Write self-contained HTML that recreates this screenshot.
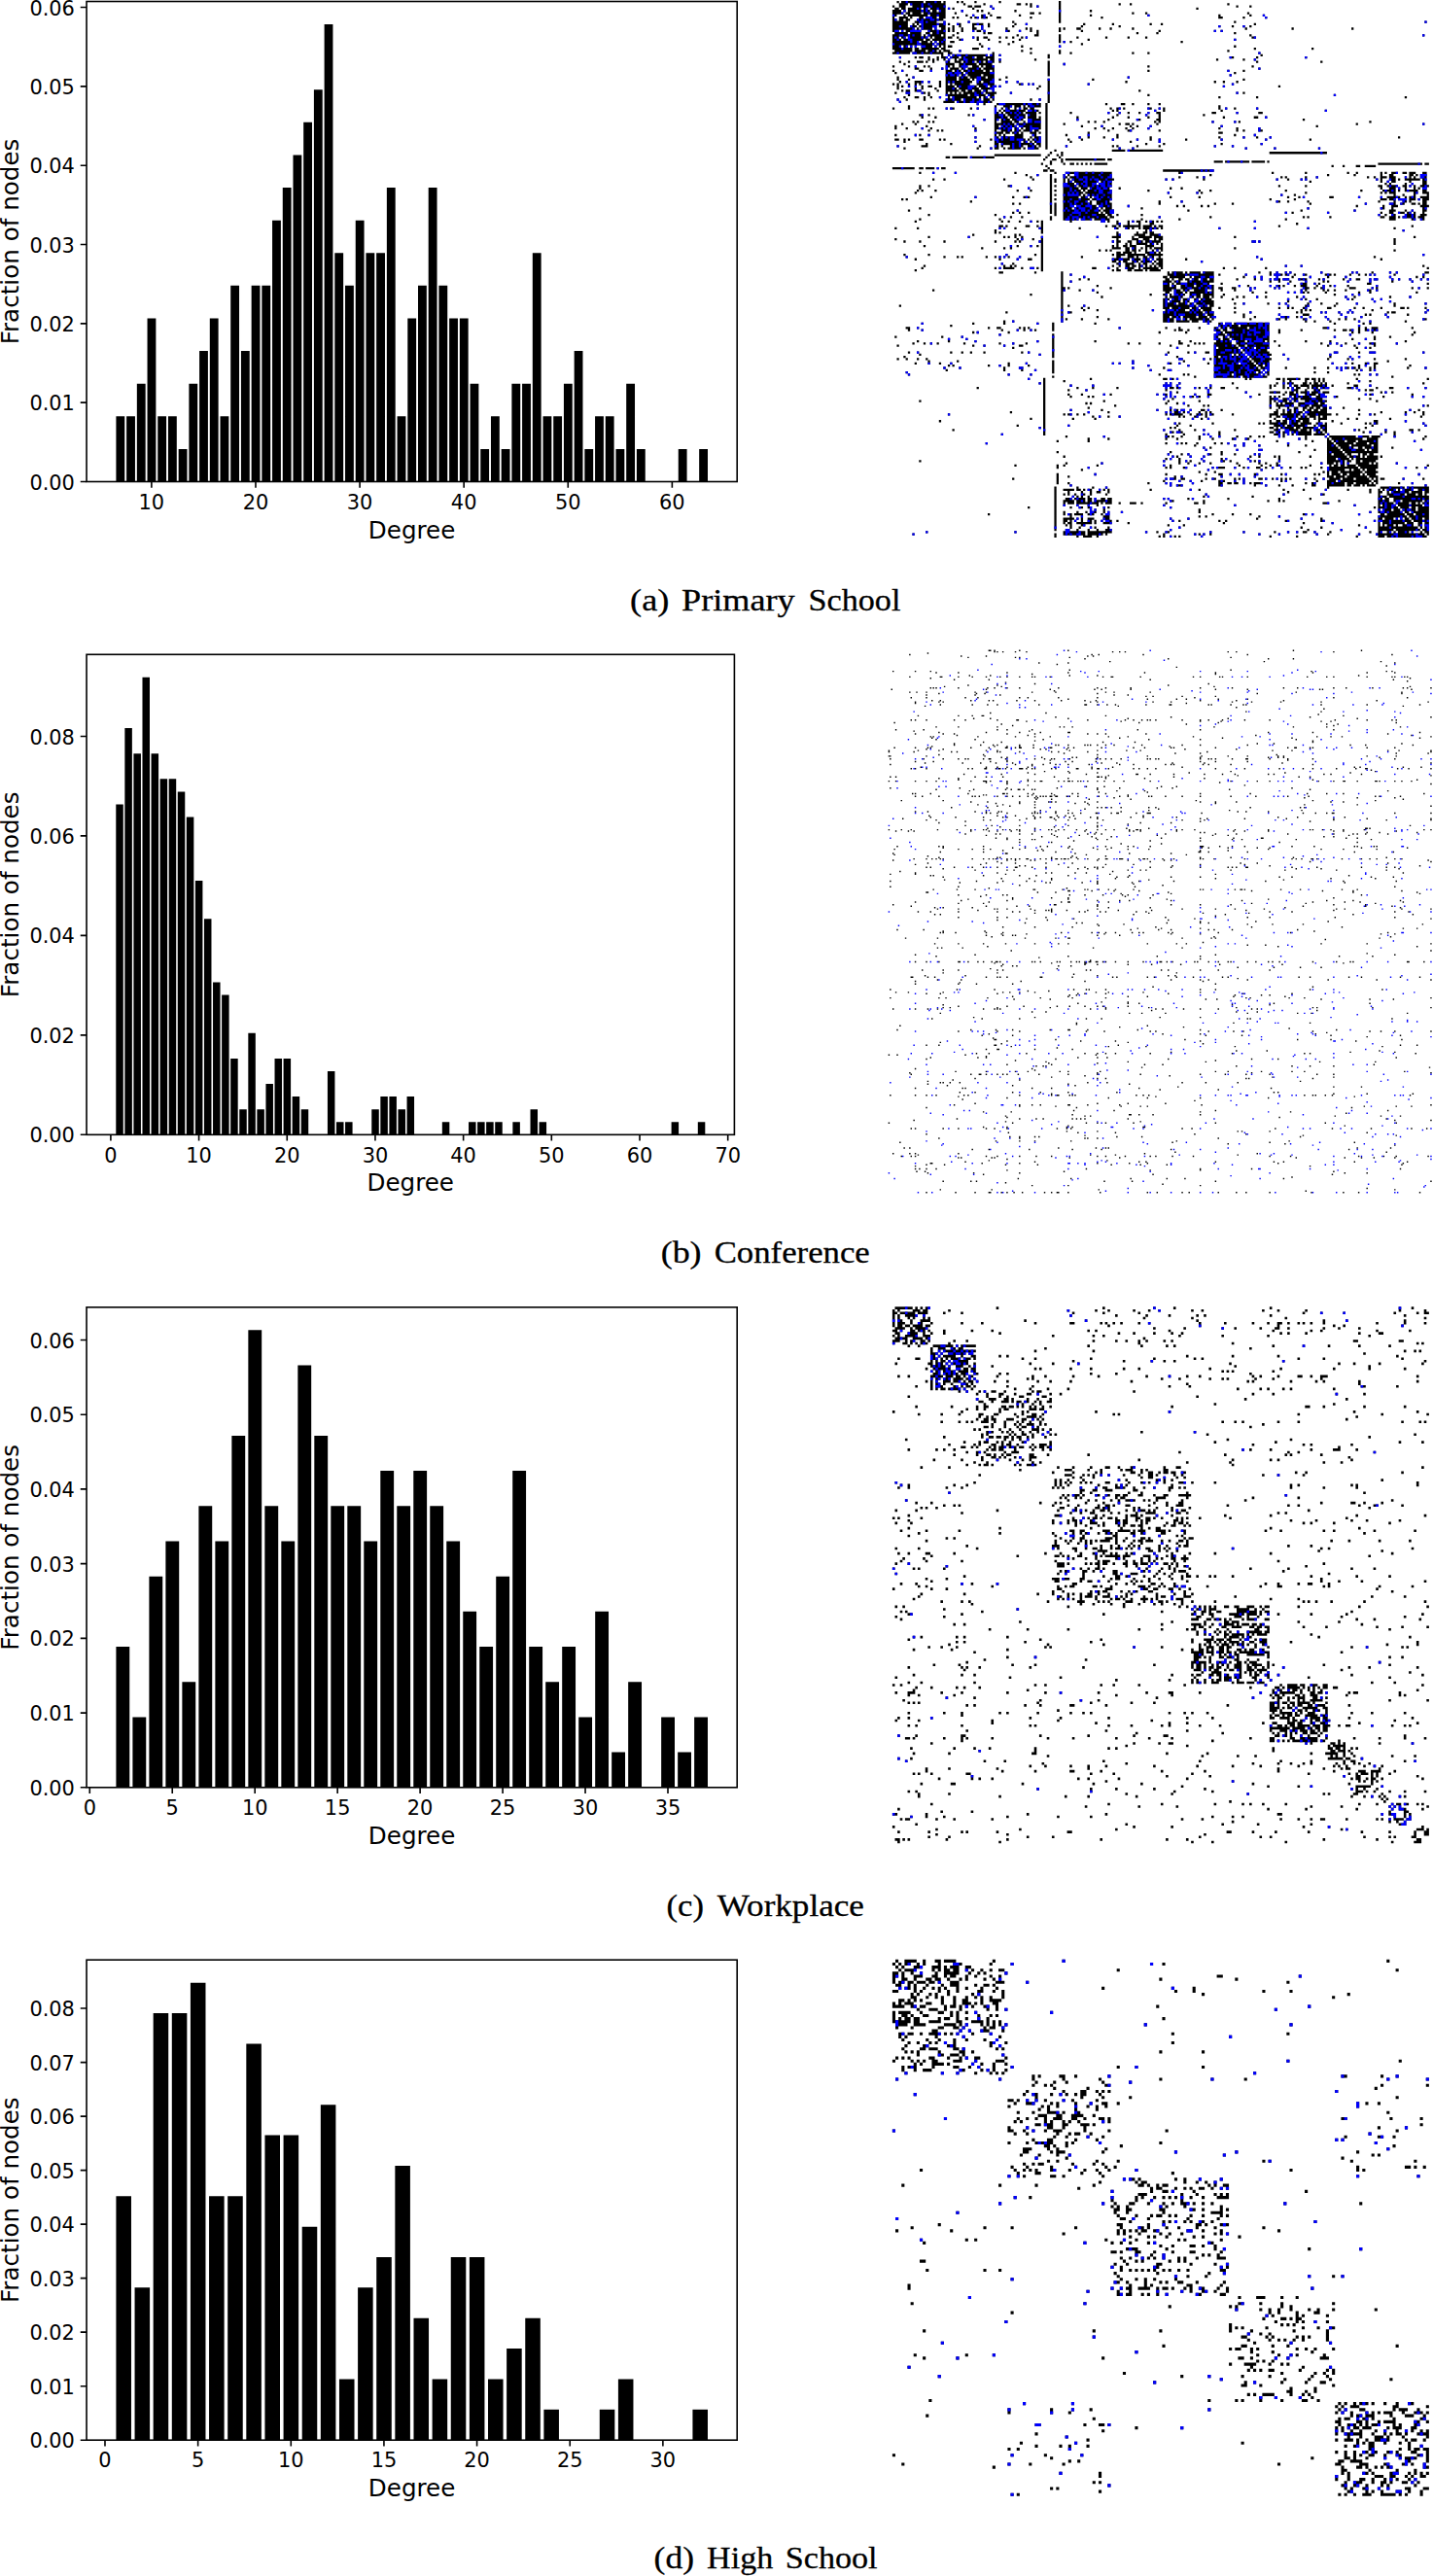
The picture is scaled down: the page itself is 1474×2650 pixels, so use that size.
<!DOCTYPE html>
<html><head><meta charset="utf-8"><title>Degree distributions and adjacency matrices</title>
<style>
html,body{margin:0;padding:0;background:#fff}
svg{display:block}
.t{font-family:"DejaVu Sans","Liberation Sans",sans-serif;font-size:20.9px;fill:#000}
.l{font-family:"DejaVu Sans","Liberation Sans",sans-serif;font-size:24.6px;fill:#000}
.c{font-family:"Liberation Serif","DejaVu Serif",serif;font-size:31.6px;fill:#000;stroke:#000;stroke-width:.3px}
</style></head><body>
<svg width="1474" height="2650" viewBox="0 0 1474 2650">
<rect width="1474" height="2650" fill="#fff"/>
<g><path d="M119.42 495.5h8.82v-67.21h-8.82zM130.13 495.5h8.82v-67.21h-8.82zM140.84 495.5h8.82v-100.82h-8.82zM151.55 495.5h8.82v-168.03h-8.82zM162.26 495.5h8.82v-67.21h-8.82zM172.97 495.5h8.82v-67.21h-8.82zM183.67 495.5h8.82v-33.61h-8.82zM194.38 495.5h8.82v-100.82h-8.82zM205.09 495.5h8.82v-134.42h-8.82zM215.8 495.5h8.82v-168.03h-8.82zM226.51 495.5h8.82v-67.21h-8.82zM237.22 495.5h8.82v-201.63h-8.82zM247.93 495.5h8.82v-134.42h-8.82zM258.64 495.5h8.82v-201.63h-8.82zM269.35 495.5h8.82v-201.63h-8.82zM280.06 495.5h8.82v-268.84h-8.82zM290.77 495.5h8.82v-302.45h-8.82zM301.48 495.5h8.82v-336.05h-8.82zM312.19 495.5h8.82v-369.66h-8.82zM322.9 495.5h8.82v-403.27h-8.82zM333.61 495.5h8.82v-470.48h-8.82zM344.32 495.5h8.82v-235.24h-8.82zM355.03 495.5h8.82v-201.63h-8.82zM365.74 495.5h8.82v-268.84h-8.82zM376.45 495.5h8.82v-235.24h-8.82zM387.16 495.5h8.82v-235.24h-8.82zM397.87 495.5h8.82v-302.45h-8.82zM408.58 495.5h8.82v-67.21h-8.82zM419.29 495.5h8.82v-168.03h-8.82zM430 495.5h8.82v-201.63h-8.82zM440.71 495.5h8.82v-302.45h-8.82zM451.42 495.5h8.82v-201.63h-8.82zM462.13 495.5h8.82v-168.03h-8.82zM472.84 495.5h8.82v-168.03h-8.82zM483.55 495.5h8.82v-100.82h-8.82zM494.26 495.5h8.82v-33.61h-8.82zM504.97 495.5h8.82v-67.21h-8.82zM515.68 495.5h8.82v-33.61h-8.82zM526.39 495.5h8.82v-100.82h-8.82zM537.1 495.5h8.82v-100.82h-8.82zM547.81 495.5h8.82v-235.24h-8.82zM558.52 495.5h8.82v-67.21h-8.82zM569.23 495.5h8.82v-67.21h-8.82zM579.94 495.5h8.82v-100.82h-8.82zM590.65 495.5h8.82v-134.42h-8.82zM601.36 495.5h8.82v-33.61h-8.82zM612.07 495.5h8.82v-67.21h-8.82zM622.78 495.5h8.82v-67.21h-8.82zM633.49 495.5h8.82v-33.61h-8.82zM644.2 495.5h8.82v-100.82h-8.82zM654.91 495.5h8.82v-33.61h-8.82zM697.75 495.5h8.82v-33.61h-8.82zM719.17 495.5h8.82v-33.61h-8.82z" fill="#000"/>
<path d="M155.88 495.5v6.3M262.98 495.5v6.3M370.08 495.5v6.3M477.17 495.5v6.3M584.27 495.5v6.3M691.37 495.5v6.3M89.05 495.5h-6.3M89.05 414.17h-6.3M89.05 332.85h-6.3M89.05 251.52h-6.3M89.05 170.2h-6.3M89.05 88.87h-6.3M89.05 7.55h-6.3" stroke="#000" stroke-width="1.6" fill="none"/>
<rect x="89.05" y="1.5" width="669.15" height="494" fill="none" stroke="#000" stroke-width="1.6"/>
<text class="t" text-anchor="middle" x="155.88" y="523.7">10</text>
<text class="t" text-anchor="middle" x="262.98" y="523.7">20</text>
<text class="t" text-anchor="middle" x="370.08" y="523.7">30</text>
<text class="t" text-anchor="middle" x="477.17" y="523.7">40</text>
<text class="t" text-anchor="middle" x="584.27" y="523.7">50</text>
<text class="t" text-anchor="middle" x="691.37" y="523.7">60</text>
<text class="t" text-anchor="end" x="76.9" y="503.6">0.00</text>
<text class="t" text-anchor="end" x="76.9" y="422.27">0.01</text>
<text class="t" text-anchor="end" x="76.9" y="340.95">0.02</text>
<text class="t" text-anchor="end" x="76.9" y="259.62">0.03</text>
<text class="t" text-anchor="end" x="76.9" y="178.3">0.04</text>
<text class="t" text-anchor="end" x="76.9" y="96.97">0.05</text>
<text class="t" text-anchor="end" x="76.9" y="15.65">0.06</text>
<text class="l" text-anchor="middle" x="423.62" y="553.6">Degree</text>
<text class="l" text-anchor="middle" transform="translate(18.6 248.5) rotate(-90)">Fraction of nodes</text></g>
<g><path d="M119.29 1167.3h7.5v-339.79h-7.5zM128.36 1167.3h7.5v-418.2h-7.5zM137.43 1167.3h7.5v-392.06h-7.5zM146.49 1167.3h7.5v-470.48h-7.5zM155.56 1167.3h7.5v-392.06h-7.5zM164.63 1167.3h7.5v-365.93h-7.5zM173.7 1167.3h7.5v-365.93h-7.5zM182.77 1167.3h7.5v-352.86h-7.5zM191.84 1167.3h7.5v-326.72h-7.5zM200.9 1167.3h7.5v-261.38h-7.5zM209.97 1167.3h7.5v-222.17h-7.5zM219.04 1167.3h7.5v-156.83h-7.5zM228.11 1167.3h7.5v-143.76h-7.5zM237.18 1167.3h7.5v-78.41h-7.5zM246.25 1167.3h7.5v-26.14h-7.5zM255.32 1167.3h7.5v-104.55h-7.5zM264.38 1167.3h7.5v-26.14h-7.5zM273.45 1167.3h7.5v-52.28h-7.5zM282.52 1167.3h7.5v-78.41h-7.5zM291.59 1167.3h7.5v-78.41h-7.5zM300.66 1167.3h7.5v-39.21h-7.5zM309.73 1167.3h7.5v-26.14h-7.5zM336.93 1167.3h7.5v-65.34h-7.5zM346 1167.3h7.5v-13.07h-7.5zM355.07 1167.3h7.5v-13.07h-7.5zM382.27 1167.3h7.5v-26.14h-7.5zM391.34 1167.3h7.5v-39.21h-7.5zM400.41 1167.3h7.5v-39.21h-7.5zM409.48 1167.3h7.5v-26.14h-7.5zM418.55 1167.3h7.5v-39.21h-7.5zM454.82 1167.3h7.5v-13.07h-7.5zM482.03 1167.3h7.5v-13.07h-7.5zM491.1 1167.3h7.5v-13.07h-7.5zM500.16 1167.3h7.5v-13.07h-7.5zM509.23 1167.3h7.5v-13.07h-7.5zM527.37 1167.3h7.5v-13.07h-7.5zM545.51 1167.3h7.5v-26.14h-7.5zM554.57 1167.3h7.5v-13.07h-7.5zM690.6 1167.3h7.5v-13.07h-7.5zM717.81 1167.3h7.5v-13.07h-7.5z" fill="#000"/>
<path d="M113.9 1167.3v6.3M204.58 1167.3v6.3M295.27 1167.3v6.3M385.95 1167.3v6.3M476.64 1167.3v6.3M567.32 1167.3v6.3M658 1167.3v6.3M748.69 1167.3v6.3M89.05 1167.3h-6.3M89.05 1064.84h-6.3M89.05 962.38h-6.3M89.05 859.92h-6.3M89.05 757.46h-6.3" stroke="#000" stroke-width="1.6" fill="none"/>
<rect x="89.05" y="673.3" width="666.35" height="494" fill="none" stroke="#000" stroke-width="1.6"/>
<text class="t" text-anchor="middle" x="113.9" y="1195.5">0</text>
<text class="t" text-anchor="middle" x="204.58" y="1195.5">10</text>
<text class="t" text-anchor="middle" x="295.27" y="1195.5">20</text>
<text class="t" text-anchor="middle" x="385.95" y="1195.5">30</text>
<text class="t" text-anchor="middle" x="476.64" y="1195.5">40</text>
<text class="t" text-anchor="middle" x="567.32" y="1195.5">50</text>
<text class="t" text-anchor="middle" x="658" y="1195.5">60</text>
<text class="t" text-anchor="middle" x="748.69" y="1195.5">70</text>
<text class="t" text-anchor="end" x="76.9" y="1175.4">0.00</text>
<text class="t" text-anchor="end" x="76.9" y="1072.94">0.02</text>
<text class="t" text-anchor="end" x="76.9" y="970.48">0.04</text>
<text class="t" text-anchor="end" x="76.9" y="868.02">0.06</text>
<text class="t" text-anchor="end" x="76.9" y="765.56">0.08</text>
<text class="l" text-anchor="middle" x="422.22" y="1225.4">Degree</text>
<text class="l" text-anchor="middle" transform="translate(18.6 920.3) rotate(-90)">Fraction of nodes</text></g>
<g><path d="M119.42 1838.8h13.84v-144.76h-13.84zM136.41 1838.8h13.84v-72.38h-13.84zM153.4 1838.8h13.84v-217.14h-13.84zM170.39 1838.8h13.84v-253.33h-13.84zM187.38 1838.8h13.84v-108.57h-13.84zM204.38 1838.8h13.84v-289.52h-13.84zM221.37 1838.8h13.84v-253.33h-13.84zM238.36 1838.8h13.84v-361.9h-13.84zM255.35 1838.8h13.84v-470.48h-13.84zM272.35 1838.8h13.84v-289.52h-13.84zM289.34 1838.8h13.84v-253.33h-13.84zM306.33 1838.8h13.84v-434.29h-13.84zM323.32 1838.8h13.84v-361.9h-13.84zM340.31 1838.8h13.84v-289.52h-13.84zM357.31 1838.8h13.84v-289.52h-13.84zM374.3 1838.8h13.84v-253.33h-13.84zM391.29 1838.8h13.84v-325.71h-13.84zM408.28 1838.8h13.84v-289.52h-13.84zM425.27 1838.8h13.84v-325.71h-13.84zM442.27 1838.8h13.84v-289.52h-13.84zM459.26 1838.8h13.84v-253.33h-13.84zM476.25 1838.8h13.84v-180.95h-13.84zM493.24 1838.8h13.84v-144.76h-13.84zM510.23 1838.8h13.84v-217.14h-13.84zM527.23 1838.8h13.84v-325.71h-13.84zM544.22 1838.8h13.84v-144.76h-13.84zM561.21 1838.8h13.84v-108.57h-13.84zM578.2 1838.8h13.84v-144.76h-13.84zM595.2 1838.8h13.84v-72.38h-13.84zM612.19 1838.8h13.84v-180.95h-13.84zM629.18 1838.8h13.84v-36.19h-13.84zM646.17 1838.8h13.84v-108.57h-13.84zM680.16 1838.8h13.84v-72.38h-13.84zM697.15 1838.8h13.84v-36.19h-13.84zM714.14 1838.8h13.84v-72.38h-13.84z" fill="#000"/>
<path d="M92.28 1838.8v6.3M177.24 1838.8v6.3M262.2 1838.8v6.3M347.16 1838.8v6.3M432.12 1838.8v6.3M517.08 1838.8v6.3M602.04 1838.8v6.3M687 1838.8v6.3M89.05 1838.8h-6.3M89.05 1762.08h-6.3M89.05 1685.35h-6.3M89.05 1608.63h-6.3M89.05 1531.9h-6.3M89.05 1455.18h-6.3M89.05 1378.46h-6.3" stroke="#000" stroke-width="1.6" fill="none"/>
<rect x="89.05" y="1344.8" width="669.15" height="494" fill="none" stroke="#000" stroke-width="1.6"/>
<text class="t" text-anchor="middle" x="92.28" y="1867">0</text>
<text class="t" text-anchor="middle" x="177.24" y="1867">5</text>
<text class="t" text-anchor="middle" x="262.2" y="1867">10</text>
<text class="t" text-anchor="middle" x="347.16" y="1867">15</text>
<text class="t" text-anchor="middle" x="432.12" y="1867">20</text>
<text class="t" text-anchor="middle" x="517.08" y="1867">25</text>
<text class="t" text-anchor="middle" x="602.04" y="1867">30</text>
<text class="t" text-anchor="middle" x="687" y="1867">35</text>
<text class="t" text-anchor="end" x="76.9" y="1846.9">0.00</text>
<text class="t" text-anchor="end" x="76.9" y="1770.18">0.01</text>
<text class="t" text-anchor="end" x="76.9" y="1693.45">0.02</text>
<text class="t" text-anchor="end" x="76.9" y="1616.73">0.03</text>
<text class="t" text-anchor="end" x="76.9" y="1540">0.04</text>
<text class="t" text-anchor="end" x="76.9" y="1463.28">0.05</text>
<text class="t" text-anchor="end" x="76.9" y="1386.56">0.06</text>
<text class="l" text-anchor="middle" x="423.62" y="1896.9">Degree</text>
<text class="l" text-anchor="middle" transform="translate(18.6 1591.8) rotate(-90)">Fraction of nodes</text></g>
<g><path d="M119.42 2510.2h15.55v-250.92h-15.55zM138.55 2510.2h15.55v-156.83h-15.55zM157.67 2510.2h15.55v-439.11h-15.55zM176.8 2510.2h15.55v-439.11h-15.55zM195.93 2510.2h15.55v-470.48h-15.55zM215.06 2510.2h15.55v-250.92h-15.55zM234.19 2510.2h15.55v-250.92h-15.55zM253.32 2510.2h15.55v-407.75h-15.55zM272.45 2510.2h15.55v-313.65h-15.55zM291.58 2510.2h15.55v-313.65h-15.55zM310.71 2510.2h15.55v-219.56h-15.55zM329.84 2510.2h15.55v-345.02h-15.55zM348.97 2510.2h15.55v-62.73h-15.55zM368.1 2510.2h15.55v-156.83h-15.55zM387.23 2510.2h15.55v-188.19h-15.55zM406.36 2510.2h15.55v-282.29h-15.55zM425.49 2510.2h15.55v-125.46h-15.55zM444.62 2510.2h15.55v-62.73h-15.55zM463.75 2510.2h15.55v-188.19h-15.55zM482.88 2510.2h15.55v-188.19h-15.55zM502.01 2510.2h15.55v-62.73h-15.55zM521.14 2510.2h15.55v-94.1h-15.55zM540.26 2510.2h15.55v-125.46h-15.55zM559.39 2510.2h15.55v-31.37h-15.55zM616.78 2510.2h15.55v-31.37h-15.55zM635.91 2510.2h15.55v-62.73h-15.55zM712.43 2510.2h15.55v-31.37h-15.55z" fill="#000"/>
<path d="M107.99 2510.2v6.3M203.64 2510.2v6.3M299.28 2510.2v6.3M394.93 2510.2v6.3M490.58 2510.2v6.3M586.23 2510.2v6.3M681.87 2510.2v6.3M89.05 2510.2h-6.3M89.05 2454.68h-6.3M89.05 2399.17h-6.3M89.05 2343.65h-6.3M89.05 2288.14h-6.3M89.05 2232.62h-6.3M89.05 2177.1h-6.3M89.05 2121.59h-6.3M89.05 2066.07h-6.3" stroke="#000" stroke-width="1.6" fill="none"/>
<rect x="89.05" y="2016.2" width="669.15" height="494" fill="none" stroke="#000" stroke-width="1.6"/>
<text class="t" text-anchor="middle" x="107.99" y="2538.4">0</text>
<text class="t" text-anchor="middle" x="203.64" y="2538.4">5</text>
<text class="t" text-anchor="middle" x="299.28" y="2538.4">10</text>
<text class="t" text-anchor="middle" x="394.93" y="2538.4">15</text>
<text class="t" text-anchor="middle" x="490.58" y="2538.4">20</text>
<text class="t" text-anchor="middle" x="586.23" y="2538.4">25</text>
<text class="t" text-anchor="middle" x="681.87" y="2538.4">30</text>
<text class="t" text-anchor="end" x="76.9" y="2518.3">0.00</text>
<text class="t" text-anchor="end" x="76.9" y="2462.78">0.01</text>
<text class="t" text-anchor="end" x="76.9" y="2407.27">0.02</text>
<text class="t" text-anchor="end" x="76.9" y="2351.75">0.03</text>
<text class="t" text-anchor="end" x="76.9" y="2296.24">0.04</text>
<text class="t" text-anchor="end" x="76.9" y="2240.72">0.05</text>
<text class="t" text-anchor="end" x="76.9" y="2185.2">0.06</text>
<text class="t" text-anchor="end" x="76.9" y="2129.69">0.07</text>
<text class="t" text-anchor="end" x="76.9" y="2074.17">0.08</text>
<text class="l" text-anchor="middle" x="423.62" y="2568.3">Degree</text>
<text class="l" text-anchor="middle" transform="translate(18.6 2263.2) rotate(-90)">Fraction of nodes</text></g>
<text class="c" x="648.1" y="627.8" textLength="40.3" lengthAdjust="spacingAndGlyphs">(a)</text>
<text class="c" x="701.1" y="627.8" textLength="116.6" lengthAdjust="spacingAndGlyphs">Primary</text>
<text class="c" x="831.5" y="627.8" textLength="94.9" lengthAdjust="spacingAndGlyphs">School</text>
<text class="c" x="679.7" y="1299" textLength="41.9" lengthAdjust="spacingAndGlyphs">(b)</text>
<text class="c" x="734.7" y="1299" textLength="160.1" lengthAdjust="spacingAndGlyphs">Conference</text>
<text class="c" x="685.6" y="1970.7" textLength="38.4" lengthAdjust="spacingAndGlyphs">(c)</text>
<text class="c" x="737.8" y="1970.7" textLength="151.1" lengthAdjust="spacingAndGlyphs">Workplace</text>
<text class="c" x="672.6" y="2642.3" textLength="41.4" lengthAdjust="spacingAndGlyphs">(d)</text>
<text class="c" x="727.1" y="2642.3" textLength="68.1" lengthAdjust="spacingAndGlyphs">High</text>
<text class="c" x="807.8" y="2642.3" textLength="94.8" lengthAdjust="spacingAndGlyphs">School</text>
<g transform="translate(917.90 1.00) scale(2.2810)">
<path fill="#000" d="M2 0h1v1h-1zM4 0h10v1h-10zM15 0h7v1h-7zM23 0h1v1h-1zM29 0h1v1h-1zM31 0h1v1h-1zM37 0h1v1h-1zM48 0h1v1h-1zM75 0h1v1h-1zM3 1h4v1h-4zM8 1h16v1h-16zM32 1h1v1h-1zM41 1h1v1h-1zM56 1h2v1h-2zM60 1h1v1h-1zM62 1h1v1h-1zM75 1h1v1h-1zM102 1h1v1h-1zM107 1h1v1h-1zM151 1h1v1h-1zM0 2h1v1h-1zM3 2h3v1h-3zM9 2h15v1h-15zM34 2h2v1h-2zM37 2h3v1h-3zM44 2h1v1h-1zM62 2h1v1h-1zM65 2h1v1h-1zM75 2h1v1h-1zM155 2h1v1h-1zM161 2h1v1h-1zM1 3h2v1h-2zM4 3h2v1h-2zM7 3h6v1h-6zM14 3h2v1h-2zM17 3h7v1h-7zM25 3h1v1h-1zM27 3h1v1h-1zM36 3h1v1h-1zM45 3h1v1h-1zM75 3h1v1h-1zM137 3h1v1h-1zM0 4h4v1h-4zM5 4h1v1h-1zM7 4h10v1h-10zM18 4h2v1h-2zM21 4h3v1h-3zM31 4h1v1h-1zM38 4h1v1h-1zM40 4h1v1h-1zM55 4h1v1h-1zM75 4h1v1h-1zM89 4h1v1h-1zM0 5h5v1h-5zM6 5h2v1h-2zM9 5h4v1h-4zM14 5h10v1h-10zM28 5h1v1h-1zM43 5h1v1h-1zM62 5h2v1h-2zM66 5h1v1h-1zM75 5h1v1h-1zM108 5h1v1h-1zM114 5h1v1h-1zM160 5h1v1h-1zM0 6h2v1h-2zM5 6h1v1h-1zM7 6h9v1h-9zM17 6h7v1h-7zM33 6h1v1h-1zM36 6h1v1h-1zM40 6h2v1h-2zM44 6h1v1h-1zM57 6h1v1h-1zM75 6h1v1h-1zM89 6h1v1h-1zM115 6h1v1h-1zM147 6h1v1h-1zM161 6h1v1h-1zM167 6h1v1h-1zM0 7h1v1h-1zM3 7h4v1h-4zM8 7h1v1h-1zM12 7h2v1h-2zM15 7h5v1h-5zM21 7h3v1h-3zM27 7h1v1h-1zM29 7h1v1h-1zM35 7h1v1h-1zM37 7h2v1h-2zM40 7h3v1h-3zM47 7h2v1h-2zM62 7h1v1h-1zM75 7h1v1h-1zM94 7h1v1h-1zM147 7h2v1h-2zM158 7h1v1h-1zM168 7h1v1h-1zM0 8h2v1h-2zM3 8h2v1h-2zM6 8h2v1h-2zM11 8h12v1h-12zM75 8h1v1h-1zM0 9h7v1h-7zM10 9h10v1h-10zM23 9h1v1h-1zM34 9h1v1h-1zM54 9h1v1h-1zM75 9h1v1h-1zM154 9h1v1h-1zM240 9h1v1h-1zM0 10h7v1h-7zM9 10h1v1h-1zM11 10h1v1h-1zM13 10h11v1h-11zM25 10h1v1h-1zM29 10h2v1h-2zM36 10h5v1h-5zM43 10h1v1h-1zM55 10h1v1h-1zM60 10h1v1h-1zM86 10h1v1h-1zM99 10h1v1h-1zM116 10h1v1h-1zM121 10h1v1h-1zM163 10h1v1h-1zM0 11h7v1h-7zM8 11h3v1h-3zM12 11h8v1h-8zM21 11h3v1h-3zM27 11h1v1h-1zM30 11h1v1h-1zM36 11h1v1h-1zM40 11h1v1h-1zM43 11h1v1h-1zM54 11h1v1h-1zM85 11h1v1h-1zM102 11h1v1h-1zM147 11h1v1h-1zM153 11h1v1h-1zM158 11h1v1h-1zM161 11h1v1h-1zM0 12h10v1h-10zM11 12h1v1h-1zM13 12h5v1h-5zM19 12h1v1h-1zM22 12h2v1h-2zM25 12h1v1h-1zM27 12h1v1h-1zM31 12h1v1h-1zM36 12h2v1h-2zM40 12h1v1h-1zM51 12h1v1h-1zM60 12h1v1h-1zM62 12h1v1h-1zM75 12h1v1h-1zM77 12h1v1h-1zM83 12h2v1h-2zM93 12h1v1h-1zM98 12h1v1h-1zM108 12h1v1h-1zM159 12h1v1h-1zM180 12h1v1h-1zM207 12h1v1h-1zM0 13h3v1h-3zM4 13h1v1h-1zM6 13h7v1h-7zM16 13h8v1h-8zM25 13h1v1h-1zM27 13h1v1h-1zM31 13h1v1h-1zM36 13h1v1h-1zM38 13h2v1h-2zM41 13h1v1h-1zM51 13h2v1h-2zM57 13h1v1h-1zM62 13h1v1h-1zM65 13h1v1h-1zM75 13h1v1h-1zM85 13h1v1h-1zM120 13h1v1h-1zM145 13h1v1h-1zM148 13h1v1h-1zM1 14h6v1h-6zM8 14h5v1h-5zM15 14h2v1h-2zM18 14h6v1h-6zM29 14h1v1h-1zM41 14h1v1h-1zM43 14h2v1h-2zM65 14h1v1h-1zM110 14h1v1h-1zM119 14h1v1h-1zM154 14h1v1h-1zM0 15h13v1h-13zM14 15h1v1h-1zM16 15h6v1h-6zM23 15h1v1h-1zM27 15h1v1h-1zM56 15h1v1h-1zM64 15h2v1h-2zM75 15h1v1h-1zM161 15h1v1h-1zM239 15h1v1h-1zM0 16h3v1h-3zM4 16h2v1h-2zM7 16h9v1h-9zM17 16h1v1h-1zM19 16h5v1h-5zM25 16h2v1h-2zM29 16h1v1h-1zM36 16h1v1h-1zM38 16h1v1h-1zM41 16h2v1h-2zM48 16h1v1h-1zM51 16h1v1h-1zM54 16h1v1h-1zM58 16h1v1h-1zM60 16h1v1h-1zM75 16h1v1h-1zM83 16h1v1h-1zM96 16h1v1h-1zM106 16h1v1h-1zM114 16h1v1h-1zM162 16h2v1h-2zM0 17h4v1h-4zM5 17h9v1h-9zM15 17h2v1h-2zM18 17h6v1h-6zM30 17h2v1h-2zM38 17h1v1h-1zM43 17h1v1h-1zM57 17h1v1h-1zM75 17h1v1h-1zM88 17h1v1h-1zM154 17h1v1h-1zM0 18h12v1h-12zM13 18h3v1h-3zM17 18h1v1h-1zM19 18h1v1h-1zM21 18h3v1h-3zM26 18h2v1h-2zM48 18h1v1h-1zM54 18h1v1h-1zM75 18h1v1h-1zM77 18h1v1h-1zM80 18h1v1h-1zM130 18h1v1h-1zM0 19h19v1h-19zM20 19h4v1h-4zM39 19h1v1h-1zM52 19h1v1h-1zM85 19h1v1h-1zM0 20h4v1h-4zM5 20h2v1h-2zM8 20h1v1h-1zM10 20h1v1h-1zM13 20h5v1h-5zM19 20h1v1h-1zM21 20h1v1h-1zM23 20h1v1h-1zM25 20h2v1h-2zM40 20h1v1h-1zM58 20h1v1h-1zM75 20h1v1h-1zM154 20h1v1h-1zM0 21h9v1h-9zM10 21h2v1h-2zM13 21h8v1h-8zM22 21h2v1h-2zM36 21h3v1h-3zM43 21h1v1h-1zM62 21h1v1h-1zM163 21h1v1h-1zM189 21h1v1h-1zM1 22h8v1h-8zM10 22h5v1h-5zM16 22h4v1h-4zM21 22h1v1h-1zM23 22h3v1h-3zM30 22h1v1h-1zM58 22h1v1h-1zM75 22h1v1h-1zM151 22h1v1h-1zM0 23h8v1h-8zM9 23h14v1h-14zM25 23h2v1h-2zM45 23h1v1h-1zM62 23h1v1h-1zM75 23h1v1h-1zM80 23h1v1h-1zM108 23h1v1h-1zM115 23h1v1h-1zM165 23h1v1h-1zM22 24h1v1h-1zM25 24h1v1h-1zM27 24h16v1h-16zM44 24h2v1h-2zM48 24h1v1h-1zM70 24h1v1h-1zM166 24h1v1h-1zM3 25h1v1h-1zM10 25h1v1h-1zM12 25h2v1h-2zM16 25h1v1h-1zM20 25h1v1h-1zM22 25h3v1h-3zM26 25h4v1h-4zM31 25h6v1h-6zM38 25h3v1h-3zM42 25h4v1h-4zM70 25h1v1h-1zM152 25h2v1h-2zM164 25h1v1h-1zM186 25h1v1h-1zM16 26h1v1h-1zM18 26h1v1h-1zM20 26h1v1h-1zM23 26h1v1h-1zM25 26h1v1h-1zM28 26h1v1h-1zM30 26h13v1h-13zM44 26h2v1h-2zM48 26h1v1h-1zM64 26h1v1h-1zM146 26h1v1h-1zM158 26h1v1h-1zM163 26h1v1h-1zM3 27h1v1h-1zM7 27h1v1h-1zM11 27h3v1h-3zM15 27h1v1h-1zM18 27h1v1h-1zM24 27h2v1h-2zM28 27h3v1h-3zM32 27h5v1h-5zM38 27h3v1h-3zM42 27h4v1h-4zM48 27h1v1h-1zM70 27h1v1h-1zM164 27h1v1h-1zM193 27h1v1h-1zM5 28h1v1h-1zM24 28h4v1h-4zM30 28h8v1h-8zM39 28h6v1h-6zM70 28h1v1h-1zM77 28h1v1h-1zM0 29h1v1h-1zM7 29h1v1h-1zM10 29h1v1h-1zM14 29h1v1h-1zM16 29h1v1h-1zM24 29h2v1h-2zM27 29h1v1h-1zM30 29h4v1h-4zM36 29h3v1h-3zM40 29h1v1h-1zM42 29h4v1h-4zM70 29h1v1h-1zM115 29h1v1h-1zM162 29h1v1h-1zM10 30h2v1h-2zM17 30h1v1h-1zM22 30h1v1h-1zM24 30h1v1h-1zM26 30h4v1h-4zM31 30h2v1h-2zM34 30h6v1h-6zM41 30h5v1h-5zM70 30h1v1h-1zM165 30h1v1h-1zM0 31h1v1h-1zM4 31h1v1h-1zM12 31h2v1h-2zM17 31h1v1h-1zM24 31h3v1h-3zM28 31h3v1h-3zM32 31h9v1h-9zM42 31h2v1h-2zM45 31h1v1h-1zM70 31h1v1h-1zM115 31h1v1h-1zM151 31h1v1h-1zM158 31h1v1h-1zM1 32h1v1h-1zM24 32h8v1h-8zM33 32h13v1h-13zM70 32h1v1h-1zM154 32h1v1h-1zM6 33h1v1h-1zM24 33h6v1h-6zM31 33h2v1h-2zM34 33h6v1h-6zM41 33h5v1h-5zM70 33h1v1h-1zM152 33h1v1h-1zM2 34h1v1h-1zM9 34h1v1h-1zM24 34h5v1h-5zM30 34h4v1h-4zM35 34h7v1h-7zM43 34h3v1h-3zM51 34h1v1h-1zM106 34h1v1h-1zM2 35h1v1h-1zM7 35h1v1h-1zM24 35h5v1h-5zM30 35h5v1h-5zM36 35h1v1h-1zM38 35h8v1h-8zM48 35h1v1h-1zM70 35h1v1h-1zM90 35h1v1h-1zM158 35h1v1h-1zM3 36h1v1h-1zM6 36h1v1h-1zM10 36h4v1h-4zM16 36h1v1h-1zM21 36h1v1h-1zM24 36h12v1h-12zM38 36h2v1h-2zM41 36h5v1h-5zM51 36h1v1h-1zM56 36h1v1h-1zM70 36h1v1h-1zM105 36h1v1h-1zM145 36h1v1h-1zM149 36h1v1h-1zM155 36h1v1h-1zM0 37h1v1h-1zM2 37h1v1h-1zM7 37h1v1h-1zM10 37h1v1h-1zM12 37h1v1h-1zM21 37h1v1h-1zM24 37h1v1h-1zM26 37h1v1h-1zM28 37h7v1h-7zM38 37h8v1h-8zM57 37h2v1h-2zM61 37h1v1h-1zM63 37h1v1h-1zM70 37h1v1h-1zM88 37h1v1h-1zM153 37h1v1h-1zM2 38h1v1h-1zM4 38h1v1h-1zM7 38h1v1h-1zM10 38h1v1h-1zM13 38h1v1h-1zM16 38h2v1h-2zM21 38h1v1h-1zM24 38h4v1h-4zM29 38h9v1h-9zM39 38h4v1h-4zM44 38h3v1h-3zM48 38h1v1h-1zM66 38h1v1h-1zM70 38h1v1h-1zM149 38h1v1h-1zM174 38h1v1h-1zM2 39h1v1h-1zM10 39h1v1h-1zM13 39h1v1h-1zM19 39h1v1h-1zM24 39h5v1h-5zM30 39h9v1h-9zM40 39h6v1h-6zM65 39h1v1h-1zM70 39h1v1h-1zM4 40h1v1h-1zM6 40h2v1h-2zM10 40h3v1h-3zM20 40h1v1h-1zM24 40h6v1h-6zM31 40h2v1h-2zM34 40h2v1h-2zM37 40h3v1h-3zM41 40h2v1h-2zM45 40h1v1h-1zM70 40h1v1h-1zM111 40h1v1h-1zM1 41h1v1h-1zM6 41h2v1h-2zM13 41h2v1h-2zM16 41h1v1h-1zM24 41h1v1h-1zM26 41h1v1h-1zM28 41h1v1h-1zM30 41h1v1h-1zM32 41h9v1h-9zM42 41h5v1h-5zM53 41h1v1h-1zM70 41h1v1h-1zM155 41h1v1h-1zM158 41h1v1h-1zM7 42h1v1h-1zM16 42h1v1h-1zM24 42h10v1h-10zM35 42h7v1h-7zM43 42h3v1h-3zM70 42h1v1h-1zM115 42h1v1h-1zM199 42h1v1h-1zM5 43h1v1h-1zM10 43h2v1h-2zM14 43h1v1h-1zM17 43h1v1h-1zM21 43h1v1h-1zM25 43h1v1h-1zM27 43h11v1h-11zM39 43h1v1h-1zM41 43h2v1h-2zM44 43h2v1h-2zM70 43h1v1h-1zM147 43h1v1h-1zM164 43h1v1h-1zM231 43h1v1h-1zM2 44h1v1h-1zM6 44h1v1h-1zM14 44h1v1h-1zM24 44h7v1h-7zM32 44h8v1h-8zM41 44h3v1h-3zM45 44h1v1h-1zM62 44h1v1h-1zM66 44h1v1h-1zM70 44h1v1h-1zM3 45h1v1h-1zM23 45h5v1h-5zM29 45h16v1h-16zM70 45h1v1h-1zM38 46h1v1h-1zM41 46h1v1h-1zM47 46h20v1h-20zM69 46h1v1h-1zM96 46h1v1h-1zM103 46h2v1h-2zM108 46h1v1h-1zM115 46h1v1h-1zM120 46h1v1h-1zM7 47h1v1h-1zM46 47h1v1h-1zM50 47h4v1h-4zM55 47h3v1h-3zM59 47h1v1h-1zM61 47h6v1h-6zM69 47h1v1h-1zM147 47h1v1h-1zM0 48h1v1h-1zM7 48h1v1h-1zM16 48h1v1h-1zM18 48h1v1h-1zM24 48h1v1h-1zM26 48h2v1h-2zM35 48h1v1h-1zM38 48h1v1h-1zM46 48h1v1h-1zM49 48h1v1h-1zM51 48h2v1h-2zM55 48h1v1h-1zM57 48h1v1h-1zM59 48h2v1h-2zM62 48h2v1h-2zM69 48h1v1h-1zM98 48h1v1h-1zM101 48h2v1h-2zM104 48h1v1h-1zM115 48h2v1h-2zM120 48h1v1h-1zM122 48h1v1h-1zM147 48h1v1h-1zM150 48h1v1h-1zM154 48h1v1h-1zM164 48h1v1h-1zM46 49h1v1h-1zM48 49h1v1h-1zM50 49h10v1h-10zM61 49h5v1h-5zM69 49h1v1h-1zM99 49h1v1h-1zM101 49h1v1h-1zM118 49h1v1h-1zM122 49h1v1h-1zM148 49h1v1h-1zM195 49h1v1h-1zM46 50h2v1h-2zM49 50h1v1h-1zM51 50h8v1h-8zM60 50h5v1h-5zM66 50h1v1h-1zM69 50h1v1h-1zM80 50h1v1h-1zM97 50h1v1h-1zM102 50h1v1h-1zM106 50h1v1h-1zM111 50h1v1h-1zM115 50h1v1h-1zM119 50h2v1h-2zM144 50h2v1h-2zM155 50h1v1h-1zM165 50h2v1h-2zM12 51h2v1h-2zM16 51h1v1h-1zM34 51h1v1h-1zM36 51h1v1h-1zM46 51h5v1h-5zM52 51h8v1h-8zM61 51h4v1h-4zM69 51h1v1h-1zM101 51h1v1h-1zM114 51h1v1h-1zM120 51h1v1h-1zM140 51h1v1h-1zM13 52h1v1h-1zM19 52h1v1h-1zM46 52h6v1h-6zM53 52h7v1h-7zM61 52h4v1h-4zM66 52h1v1h-1zM69 52h1v1h-1zM83 52h1v1h-1zM99 52h1v1h-1zM106 52h1v1h-1zM115 52h1v1h-1zM120 52h1v1h-1zM149 52h1v1h-1zM163 52h2v1h-2zM168 52h1v1h-1zM41 53h1v1h-1zM46 53h2v1h-2zM49 53h4v1h-4zM54 53h5v1h-5zM61 53h6v1h-6zM69 53h1v1h-1zM83 53h1v1h-1zM97 53h1v1h-1zM110 53h2v1h-2zM119 53h2v1h-2zM185 53h1v1h-1zM9 54h1v1h-1zM11 54h1v1h-1zM16 54h1v1h-1zM18 54h1v1h-1zM46 54h1v1h-1zM49 54h5v1h-5zM55 54h2v1h-2zM59 54h1v1h-1zM61 54h6v1h-6zM69 54h1v1h-1zM88 54h1v1h-1zM91 54h1v1h-1zM95 54h1v1h-1zM118 54h1v1h-1zM120 54h1v1h-1zM144 54h1v1h-1zM154 54h1v1h-1zM156 54h1v1h-1zM215 54h1v1h-1zM4 55h1v1h-1zM10 55h1v1h-1zM46 55h9v1h-9zM56 55h11v1h-11zM69 55h1v1h-1zM77 55h1v1h-1zM102 55h1v1h-1zM105 55h2v1h-2zM108 55h1v1h-1zM119 55h1v1h-1zM209 55h1v1h-1zM239 55h1v1h-1zM1 56h1v1h-1zM15 56h1v1h-1zM36 56h1v1h-1zM46 56h2v1h-2zM49 56h7v1h-7zM57 56h10v1h-10zM69 56h1v1h-1zM85 56h1v1h-1zM94 56h1v1h-1zM107 56h1v1h-1zM110 56h1v1h-1zM116 56h1v1h-1zM148 56h1v1h-1zM191 56h1v1h-1zM1 57h1v1h-1zM6 57h1v1h-1zM13 57h1v1h-1zM17 57h1v1h-1zM37 57h1v1h-1zM46 57h8v1h-8zM55 57h2v1h-2zM58 57h1v1h-1zM60 57h7v1h-7zM69 57h1v1h-1zM91 57h1v1h-1zM95 57h1v1h-1zM99 57h1v1h-1zM105 57h1v1h-1zM108 57h1v1h-1zM115 57h1v1h-1zM147 57h1v1h-1zM155 57h1v1h-1zM165 57h1v1h-1zM16 58h1v1h-1zM20 58h1v1h-1zM22 58h1v1h-1zM37 58h1v1h-1zM46 58h1v1h-1zM49 58h5v1h-5zM55 58h3v1h-3zM59 58h4v1h-4zM64 58h2v1h-2zM69 58h1v1h-1zM97 58h1v1h-1zM106 58h2v1h-2zM120 58h1v1h-1zM155 58h1v1h-1zM158 58h1v1h-1zM165 58h2v1h-2zM46 59h4v1h-4zM51 59h2v1h-2zM54 59h3v1h-3zM58 59h1v1h-1zM62 59h3v1h-3zM66 59h1v1h-1zM69 59h1v1h-1zM88 59h1v1h-1zM147 59h2v1h-2zM1 60h1v1h-1zM10 60h1v1h-1zM12 60h1v1h-1zM16 60h1v1h-1zM46 60h1v1h-1zM48 60h1v1h-1zM50 60h1v1h-1zM55 60h4v1h-4zM63 60h2v1h-2zM69 60h1v1h-1zM78 60h1v1h-1zM88 60h1v1h-1zM101 60h1v1h-1zM154 60h1v1h-1zM163 60h1v1h-1zM37 61h1v1h-1zM46 61h2v1h-2zM49 61h10v1h-10zM62 61h1v1h-1zM64 61h3v1h-3zM69 61h1v1h-1zM84 61h1v1h-1zM88 61h1v1h-1zM95 61h1v1h-1zM101 61h1v1h-1zM116 61h1v1h-1zM147 61h1v1h-1zM158 61h1v1h-1zM164 61h1v1h-1zM170 61h1v1h-1zM228 61h1v1h-1zM1 62h2v1h-2zM5 62h1v1h-1zM7 62h1v1h-1zM12 62h2v1h-2zM21 62h1v1h-1zM23 62h1v1h-1zM44 62h1v1h-1zM46 62h14v1h-14zM61 62h1v1h-1zM63 62h4v1h-4zM69 62h1v1h-1zM79 62h1v1h-1zM85 62h1v1h-1zM99 62h1v1h-1zM110 62h1v1h-1zM116 62h1v1h-1zM120 62h1v1h-1zM132 62h1v1h-1zM148 62h1v1h-1zM168 62h1v1h-1zM188 62h1v1h-1zM5 63h1v1h-1zM37 63h1v1h-1zM46 63h12v1h-12zM59 63h2v1h-2zM62 63h1v1h-1zM64 63h3v1h-3zM69 63h1v1h-1zM80 63h1v1h-1zM107 63h1v1h-1zM120 63h1v1h-1zM15 64h1v1h-1zM26 64h1v1h-1zM46 64h2v1h-2zM49 64h15v1h-15zM65 64h2v1h-2zM69 64h1v1h-1zM114 64h1v1h-1zM122 64h1v1h-1zM148 64h1v1h-1zM166 64h1v1h-1zM2 65h1v1h-1zM13 65h3v1h-3zM39 65h1v1h-1zM46 65h2v1h-2zM49 65h1v1h-1zM53 65h6v1h-6zM61 65h4v1h-4zM66 65h1v1h-1zM69 65h1v1h-1zM78 65h1v1h-1zM99 65h1v1h-1zM101 65h1v1h-1zM110 65h1v1h-1zM120 65h1v1h-1zM145 65h1v1h-1zM153 65h1v1h-1zM5 66h1v1h-1zM38 66h1v1h-1zM44 66h1v1h-1zM46 66h2v1h-2zM50 66h1v1h-1zM52 66h6v1h-6zM59 66h1v1h-1zM61 66h5v1h-5zM69 66h1v1h-1zM102 66h1v1h-1zM108 66h1v1h-1zM159 66h1v1h-1zM172 66h1v1h-1zM192 66h1v1h-1zM73 67h1v1h-1zM99 67h6v1h-6zM106 67h16v1h-16zM71 68h1v1h-1zM76 68h1v1h-1zM170 68h26v1h-26zM46 69h21v1h-21zM70 69h1v1h-1zM74 69h1v1h-1zM76 69h1v1h-1zM24 70h2v1h-2zM27 70h7v1h-7zM35 70h11v1h-11zM69 70h1v1h-1zM75 70h1v1h-1zM68 71h1v1h-1zM72 71h2v1h-2zM76 71h1v1h-1zM78 71h18v1h-18zM97 71h2v1h-2zM71 72h1v1h-1zM76 72h1v1h-1zM145 72h4v1h-4zM150 72h11v1h-11zM162 72h6v1h-6zM169 72h1v1h-1zM67 73h1v1h-1zM71 73h1v1h-1zM77 73h1v1h-1zM80 73h2v1h-2zM83 73h1v1h-1zM85 73h1v1h-1zM87 73h1v1h-1zM89 73h1v1h-1zM91 73h6v1h-6zM219 73h20v1h-20zM240 73h2v1h-2zM69 74h1v1h-1zM198 74h1v1h-1zM203 74h1v1h-1zM209 74h2v1h-2zM213 74h5v1h-5zM0 75h10v1h-10zM12 75h2v1h-2zM15 75h4v1h-4zM20 75h1v1h-1zM22 75h2v1h-2zM70 75h1v1h-1zM68 76h2v1h-2zM71 76h2v1h-2zM122 76h23v1h-23zM12 77h1v1h-1zM18 77h1v1h-1zM28 77h1v1h-1zM55 77h1v1h-1zM73 77h1v1h-1zM78 77h21v1h-21zM129 77h2v1h-2zM171 77h1v1h-1zM186 77h1v1h-1zM205 77h1v1h-1zM209 77h1v1h-1zM220 77h1v1h-1zM222 77h1v1h-1zM225 77h3v1h-3zM230 77h2v1h-2zM233 77h3v1h-3zM239 77h2v1h-2zM60 78h1v1h-1zM65 78h1v1h-1zM71 78h1v1h-1zM77 78h1v1h-1zM79 78h1v1h-1zM82 78h17v1h-17zM143 78h1v1h-1zM196 78h1v1h-1zM208 78h1v1h-1zM220 78h1v1h-1zM224 78h2v1h-2zM233 78h2v1h-2zM236 78h1v1h-1zM238 78h3v1h-3zM62 79h1v1h-1zM71 79h1v1h-1zM77 79h2v1h-2zM80 79h19v1h-19zM129 79h1v1h-1zM137 79h1v1h-1zM140 79h1v1h-1zM175 79h1v1h-1zM177 79h1v1h-1zM186 79h1v1h-1zM191 79h1v1h-1zM214 79h1v1h-1zM217 79h1v1h-1zM220 79h3v1h-3zM224 79h3v1h-3zM231 79h1v1h-1zM233 79h1v1h-1zM235 79h1v1h-1zM238 79h3v1h-3zM18 80h1v1h-1zM23 80h1v1h-1zM50 80h1v1h-1zM63 80h1v1h-1zM71 80h1v1h-1zM73 80h1v1h-1zM77 80h1v1h-1zM79 80h1v1h-1zM81 80h19v1h-19zM123 80h1v1h-1zM126 80h1v1h-1zM140 80h1v1h-1zM173 80h1v1h-1zM178 80h1v1h-1zM184 80h1v1h-1zM186 80h1v1h-1zM218 80h1v1h-1zM220 80h1v1h-1zM224 80h3v1h-3zM228 80h1v1h-1zM231 80h7v1h-7zM239 80h2v1h-2zM71 81h1v1h-1zM73 81h1v1h-1zM77 81h1v1h-1zM79 81h2v1h-2zM82 81h11v1h-11zM94 81h5v1h-5zM188 81h1v1h-1zM220 81h1v1h-1zM223 81h1v1h-1zM225 81h2v1h-2zM233 81h1v1h-1zM239 81h2v1h-2zM71 82h1v1h-1zM77 82h5v1h-5zM83 82h9v1h-9zM93 82h6v1h-6zM222 82h1v1h-1zM224 82h1v1h-1zM231 82h1v1h-1zM234 82h1v1h-1zM239 82h2v1h-2zM12 83h1v1h-1zM16 83h1v1h-1zM52 83h2v1h-2zM71 83h1v1h-1zM73 83h1v1h-1zM77 83h6v1h-6zM84 83h15v1h-15zM174 83h1v1h-1zM186 83h1v1h-1zM219 83h2v1h-2zM223 83h5v1h-5zM230 83h2v1h-2zM233 83h1v1h-1zM235 83h1v1h-1zM238 83h4v1h-4zM12 84h1v1h-1zM61 84h1v1h-1zM71 84h1v1h-1zM77 84h7v1h-7zM85 84h3v1h-3zM89 84h9v1h-9zM102 84h1v1h-1zM125 84h1v1h-1zM130 84h1v1h-1zM220 84h1v1h-1zM224 84h3v1h-3zM228 84h1v1h-1zM231 84h1v1h-1zM235 84h1v1h-1zM237 84h1v1h-1zM239 84h2v1h-2zM11 85h1v1h-1zM13 85h1v1h-1zM19 85h1v1h-1zM56 85h1v1h-1zM62 85h1v1h-1zM71 85h1v1h-1zM73 85h1v1h-1zM77 85h8v1h-8zM86 85h1v1h-1zM88 85h11v1h-11zM115 85h1v1h-1zM138 85h1v1h-1zM143 85h1v1h-1zM177 85h1v1h-1zM211 85h1v1h-1zM221 85h6v1h-6zM228 85h1v1h-1zM231 85h6v1h-6zM239 85h2v1h-2zM10 86h1v1h-1zM71 86h1v1h-1zM77 86h9v1h-9zM87 86h12v1h-12zM124 86h1v1h-1zM137 86h1v1h-1zM139 86h1v1h-1zM186 86h1v1h-1zM220 86h1v1h-1zM222 86h1v1h-1zM224 86h3v1h-3zM235 86h2v1h-2zM239 86h3v1h-3zM71 87h1v1h-1zM73 87h1v1h-1zM77 87h8v1h-8zM86 87h1v1h-1zM88 87h11v1h-11zM175 87h1v1h-1zM181 87h1v1h-1zM226 87h1v1h-1zM230 87h1v1h-1zM235 87h1v1h-1zM241 87h1v1h-1zM17 88h1v1h-1zM37 88h1v1h-1zM54 88h1v1h-1zM59 88h3v1h-3zM71 88h1v1h-1zM77 88h7v1h-7zM85 88h3v1h-3zM89 88h1v1h-1zM91 88h8v1h-8zM125 88h1v1h-1zM138 88h1v1h-1zM178 88h1v1h-1zM183 88h1v1h-1zM185 88h1v1h-1zM197 88h2v1h-2zM210 88h1v1h-1zM220 88h1v1h-1zM223 88h6v1h-6zM231 88h1v1h-1zM233 88h3v1h-3zM238 88h4v1h-4zM4 89h1v1h-1zM6 89h1v1h-1zM71 89h1v1h-1zM73 89h1v1h-1zM77 89h12v1h-12zM90 89h9v1h-9zM170 89h1v1h-1zM181 89h1v1h-1zM220 89h3v1h-3zM224 89h3v1h-3zM228 89h4v1h-4zM233 89h3v1h-3zM237 89h1v1h-1zM239 89h3v1h-3zM35 90h1v1h-1zM71 90h1v1h-1zM77 90h11v1h-11zM89 90h1v1h-1zM92 90h6v1h-6zM120 90h1v1h-1zM130 90h1v1h-1zM173 90h2v1h-2zM178 90h1v1h-1zM187 90h1v1h-1zM219 90h1v1h-1zM226 90h1v1h-1zM230 90h2v1h-2zM233 90h1v1h-1zM239 90h2v1h-2zM54 91h1v1h-1zM57 91h1v1h-1zM71 91h1v1h-1zM73 91h1v1h-1zM77 91h13v1h-13zM92 91h7v1h-7zM120 91h1v1h-1zM145 91h1v1h-1zM153 91h1v1h-1zM188 91h1v1h-1zM213 91h1v1h-1zM224 91h3v1h-3zM229 91h2v1h-2zM234 91h2v1h-2zM237 91h1v1h-1zM239 91h2v1h-2zM71 92h1v1h-1zM73 92h1v1h-1zM77 92h5v1h-5zM83 92h9v1h-9zM93 92h6v1h-6zM106 92h1v1h-1zM128 92h1v1h-1zM131 92h1v1h-1zM139 92h1v1h-1zM142 92h1v1h-1zM209 92h1v1h-1zM221 92h1v1h-1zM225 92h3v1h-3zM238 92h4v1h-4zM12 93h1v1h-1zM71 93h1v1h-1zM73 93h1v1h-1zM77 93h4v1h-4zM82 93h11v1h-11zM94 93h1v1h-1zM96 93h3v1h-3zM112 93h1v1h-1zM187 93h1v1h-1zM220 93h2v1h-2zM225 93h1v1h-1zM239 93h2v1h-2zM7 94h1v1h-1zM56 94h1v1h-1zM71 94h1v1h-1zM73 94h1v1h-1zM77 94h17v1h-17zM95 94h5v1h-5zM133 94h1v1h-1zM184 94h1v1h-1zM208 94h1v1h-1zM224 94h3v1h-3zM231 94h1v1h-1zM234 94h1v1h-1zM239 94h2v1h-2zM54 95h1v1h-1zM57 95h1v1h-1zM61 95h1v1h-1zM71 95h1v1h-1zM73 95h1v1h-1zM77 95h16v1h-16zM94 95h1v1h-1zM96 95h4v1h-4zM177 95h1v1h-1zM180 95h1v1h-1zM196 95h1v1h-1zM220 95h1v1h-1zM224 95h2v1h-2zM228 95h3v1h-3zM232 95h2v1h-2zM235 95h1v1h-1zM239 95h1v1h-1zM16 96h1v1h-1zM46 96h1v1h-1zM73 96h1v1h-1zM77 96h19v1h-19zM97 96h2v1h-2zM101 96h1v1h-1zM112 96h1v1h-1zM219 96h1v1h-1zM222 96h1v1h-1zM225 96h2v1h-2zM231 96h5v1h-5zM238 96h3v1h-3zM50 97h1v1h-1zM53 97h1v1h-1zM58 97h1v1h-1zM71 97h1v1h-1zM77 97h20v1h-20zM98 97h2v1h-2zM120 97h1v1h-1zM143 97h1v1h-1zM185 97h1v1h-1zM187 97h1v1h-1zM197 97h1v1h-1zM220 97h2v1h-2zM224 97h3v1h-3zM228 97h1v1h-1zM230 97h6v1h-6zM237 97h3v1h-3zM12 98h1v1h-1zM48 98h1v1h-1zM71 98h1v1h-1zM77 98h7v1h-7zM85 98h5v1h-5zM91 98h7v1h-7zM112 98h1v1h-1zM129 98h1v1h-1zM177 98h1v1h-1zM224 98h3v1h-3zM234 98h2v1h-2zM238 98h2v1h-2zM10 99h1v1h-1zM49 99h1v1h-1zM52 99h1v1h-1zM57 99h1v1h-1zM62 99h1v1h-1zM65 99h1v1h-1zM67 99h1v1h-1zM80 99h1v1h-1zM94 99h2v1h-2zM97 99h1v1h-1zM101 99h1v1h-1zM106 99h1v1h-1zM108 99h1v1h-1zM110 99h2v1h-2zM114 99h1v1h-1zM116 99h2v1h-2zM119 99h1v1h-1zM121 99h1v1h-1zM163 99h1v1h-1zM67 100h1v1h-1zM101 100h2v1h-2zM106 100h1v1h-1zM111 100h1v1h-1zM116 100h2v1h-2zM182 100h1v1h-1zM48 101h2v1h-2zM51 101h1v1h-1zM60 101h2v1h-2zM65 101h1v1h-1zM67 101h1v1h-1zM96 101h1v1h-1zM99 101h2v1h-2zM102 101h1v1h-1zM104 101h8v1h-8zM113 101h4v1h-4zM118 101h1v1h-1zM120 101h2v1h-2zM174 101h1v1h-1zM234 101h1v1h-1zM1 102h1v1h-1zM11 102h1v1h-1zM48 102h1v1h-1zM50 102h1v1h-1zM55 102h1v1h-1zM66 102h2v1h-2zM84 102h1v1h-1zM100 102h2v1h-2zM105 102h2v1h-2zM108 102h1v1h-1zM111 102h1v1h-1zM113 102h7v1h-7zM121 102h1v1h-1zM147 102h1v1h-1zM163 102h1v1h-1zM187 102h1v1h-1zM226 102h1v1h-1zM46 103h1v1h-1zM67 103h1v1h-1zM114 103h1v1h-1zM116 103h1v1h-1zM230 103h1v1h-1zM46 104h1v1h-1zM48 104h1v1h-1zM67 104h1v1h-1zM101 104h1v1h-1zM110 104h1v1h-1zM113 104h2v1h-2zM116 104h2v1h-2zM36 105h1v1h-1zM55 105h1v1h-1zM57 105h1v1h-1zM101 105h2v1h-2zM109 105h5v1h-5zM116 105h5v1h-5zM16 106h1v1h-1zM34 106h1v1h-1zM50 106h1v1h-1zM52 106h1v1h-1zM55 106h1v1h-1zM58 106h1v1h-1zM67 106h1v1h-1zM92 106h1v1h-1zM99 106h4v1h-4zM108 106h1v1h-1zM111 106h6v1h-6zM118 106h4v1h-4zM154 106h1v1h-1zM235 106h1v1h-1zM1 107h1v1h-1zM56 107h1v1h-1zM58 107h1v1h-1zM63 107h1v1h-1zM67 107h1v1h-1zM101 107h1v1h-1zM108 107h3v1h-3zM113 107h3v1h-3zM118 107h1v1h-1zM120 107h2v1h-2zM226 107h1v1h-1zM5 108h1v1h-1zM12 108h1v1h-1zM23 108h1v1h-1zM46 108h1v1h-1zM55 108h1v1h-1zM57 108h1v1h-1zM66 108h2v1h-2zM99 108h1v1h-1zM101 108h2v1h-2zM106 108h2v1h-2zM110 108h3v1h-3zM114 108h7v1h-7zM162 108h2v1h-2zM165 108h1v1h-1zM226 108h1v1h-1zM67 109h1v1h-1zM101 109h1v1h-1zM105 109h1v1h-1zM107 109h1v1h-1zM110 109h5v1h-5zM116 109h2v1h-2zM119 109h1v1h-1zM121 109h1v1h-1zM226 109h1v1h-1zM14 110h1v1h-1zM53 110h1v1h-1zM56 110h1v1h-1zM62 110h1v1h-1zM65 110h1v1h-1zM67 110h1v1h-1zM99 110h1v1h-1zM101 110h1v1h-1zM104 110h2v1h-2zM107 110h3v1h-3zM114 110h4v1h-4zM121 110h1v1h-1zM40 111h1v1h-1zM50 111h1v1h-1zM53 111h1v1h-1zM67 111h1v1h-1zM99 111h4v1h-4zM105 111h2v1h-2zM108 111h2v1h-2zM112 111h1v1h-1zM114 111h1v1h-1zM116 111h1v1h-1zM118 111h4v1h-4zM154 111h1v1h-1zM67 112h1v1h-1zM93 112h1v1h-1zM96 112h1v1h-1zM98 112h1v1h-1zM105 112h2v1h-2zM108 112h2v1h-2zM111 112h1v1h-1zM114 112h1v1h-1zM117 112h1v1h-1zM119 112h1v1h-1zM121 112h1v1h-1zM226 112h1v1h-1zM67 113h1v1h-1zM101 113h2v1h-2zM104 113h4v1h-4zM109 113h1v1h-1zM114 113h5v1h-5zM120 113h1v1h-1zM5 114h1v1h-1zM16 114h1v1h-1zM51 114h1v1h-1zM64 114h1v1h-1zM67 114h1v1h-1zM99 114h1v1h-1zM101 114h4v1h-4zM106 114h8v1h-8zM115 114h7v1h-7zM239 114h1v1h-1zM6 115h1v1h-1zM23 115h1v1h-1zM29 115h1v1h-1zM31 115h1v1h-1zM42 115h1v1h-1zM46 115h1v1h-1zM48 115h1v1h-1zM50 115h1v1h-1zM52 115h1v1h-1zM57 115h1v1h-1zM67 115h1v1h-1zM85 115h1v1h-1zM101 115h2v1h-2zM106 115h3v1h-3zM110 115h1v1h-1zM113 115h2v1h-2zM116 115h2v1h-2zM120 115h1v1h-1zM164 115h1v1h-1zM217 115h1v1h-1zM10 116h1v1h-1zM48 116h1v1h-1zM56 116h1v1h-1zM61 116h2v1h-2zM67 116h1v1h-1zM99 116h8v1h-8zM108 116h4v1h-4zM113 116h3v1h-3zM117 116h1v1h-1zM119 116h3v1h-3zM132 116h1v1h-1zM166 116h1v1h-1zM220 116h1v1h-1zM67 117h1v1h-1zM99 117h2v1h-2zM102 117h1v1h-1zM104 117h2v1h-2zM108 117h3v1h-3zM112 117h5v1h-5zM118 117h1v1h-1zM120 117h2v1h-2zM139 117h1v1h-1zM49 118h1v1h-1zM54 118h1v1h-1zM67 118h1v1h-1zM101 118h2v1h-2zM105 118h4v1h-4zM111 118h1v1h-1zM113 118h2v1h-2zM117 118h1v1h-1zM119 118h3v1h-3zM14 119h1v1h-1zM50 119h1v1h-1zM53 119h1v1h-1zM55 119h1v1h-1zM67 119h1v1h-1zM99 119h1v1h-1zM102 119h1v1h-1zM105 119h2v1h-2zM108 119h2v1h-2zM111 119h2v1h-2zM114 119h1v1h-1zM116 119h1v1h-1zM118 119h1v1h-1zM120 119h2v1h-2zM177 119h1v1h-1zM184 119h1v1h-1zM239 119h1v1h-1zM13 120h1v1h-1zM46 120h1v1h-1zM48 120h1v1h-1zM50 120h5v1h-5zM58 120h1v1h-1zM62 120h2v1h-2zM65 120h1v1h-1zM67 120h1v1h-1zM90 120h2v1h-2zM97 120h1v1h-1zM101 120h1v1h-1zM105 120h4v1h-4zM111 120h1v1h-1zM113 120h7v1h-7zM121 120h1v1h-1zM149 120h1v1h-1zM154 120h1v1h-1zM168 120h1v1h-1zM241 120h1v1h-1zM10 121h1v1h-1zM67 121h1v1h-1zM99 121h1v1h-1zM101 121h2v1h-2zM106 121h2v1h-2zM109 121h4v1h-4zM114 121h1v1h-1zM116 121h5v1h-5zM48 122h2v1h-2zM64 122h1v1h-1zM76 122h1v1h-1zM124 122h1v1h-1zM126 122h5v1h-5zM132 122h1v1h-1zM134 122h5v1h-5zM140 122h5v1h-5zM165 122h1v1h-1zM170 122h1v1h-1zM173 122h1v1h-1zM177 122h1v1h-1zM179 122h1v1h-1zM193 122h1v1h-1zM207 122h1v1h-1zM209 122h1v1h-1zM216 122h1v1h-1zM224 122h1v1h-1zM227 122h1v1h-1zM240 122h2v1h-2zM76 123h1v1h-1zM80 123h1v1h-1zM124 123h21v1h-21zM147 123h1v1h-1zM159 123h1v1h-1zM170 123h1v1h-1zM172 123h4v1h-4zM177 123h2v1h-2zM181 123h1v1h-1zM185 123h2v1h-2zM195 123h3v1h-3zM199 123h1v1h-1zM206 123h1v1h-1zM210 123h1v1h-1zM213 123h1v1h-1zM215 123h1v1h-1zM217 123h1v1h-1zM226 123h1v1h-1zM239 123h1v1h-1zM76 124h1v1h-1zM86 124h1v1h-1zM122 124h2v1h-2zM125 124h7v1h-7zM134 124h1v1h-1zM136 124h9v1h-9zM158 124h1v1h-1zM163 124h1v1h-1zM166 124h1v1h-1zM173 124h1v1h-1zM180 124h1v1h-1zM188 124h1v1h-1zM196 124h1v1h-1zM204 124h1v1h-1zM224 124h1v1h-1zM236 124h1v1h-1zM239 124h1v1h-1zM76 125h1v1h-1zM84 125h1v1h-1zM88 125h1v1h-1zM123 125h2v1h-2zM126 125h1v1h-1zM129 125h2v1h-2zM132 125h2v1h-2zM135 125h3v1h-3zM139 125h3v1h-3zM143 125h2v1h-2zM155 125h1v1h-1zM163 125h1v1h-1zM166 125h1v1h-1zM170 125h1v1h-1zM172 125h3v1h-3zM176 125h3v1h-3zM183 125h4v1h-4zM192 125h1v1h-1zM194 125h1v1h-1zM203 125h1v1h-1zM206 125h1v1h-1zM209 125h2v1h-2zM215 125h1v1h-1zM217 125h2v1h-2zM225 125h1v1h-1zM228 125h1v1h-1zM233 125h1v1h-1zM238 125h1v1h-1zM241 125h1v1h-1zM76 126h1v1h-1zM80 126h1v1h-1zM122 126h4v1h-4zM127 126h3v1h-3zM133 126h12v1h-12zM170 126h1v1h-1zM174 126h1v1h-1zM179 126h1v1h-1zM186 126h1v1h-1zM194 126h1v1h-1zM196 126h1v1h-1zM205 126h1v1h-1zM215 126h1v1h-1zM225 126h1v1h-1zM234 126h1v1h-1zM76 127h1v1h-1zM122 127h3v1h-3zM126 127h1v1h-1zM128 127h15v1h-15zM148 127h1v1h-1zM178 127h1v1h-1zM184 127h3v1h-3zM190 127h1v1h-1zM192 127h1v1h-1zM214 127h2v1h-2zM241 127h1v1h-1zM76 128h1v1h-1zM92 128h1v1h-1zM122 128h3v1h-3zM126 128h2v1h-2zM130 128h6v1h-6zM137 128h8v1h-8zM156 128h1v1h-1zM160 128h1v1h-1zM170 128h1v1h-1zM173 128h2v1h-2zM176 128h1v1h-1zM181 128h1v1h-1zM184 128h3v1h-3zM191 128h1v1h-1zM194 128h1v1h-1zM197 128h1v1h-1zM199 128h1v1h-1zM205 128h1v1h-1zM218 128h1v1h-1zM76 129h2v1h-2zM79 129h1v1h-1zM98 129h1v1h-1zM122 129h6v1h-6zM130 129h15v1h-15zM147 129h2v1h-2zM153 129h2v1h-2zM161 129h1v1h-1zM163 129h1v1h-1zM172 129h1v1h-1zM174 129h1v1h-1zM185 129h3v1h-3zM190 129h1v1h-1zM193 129h2v1h-2zM206 129h3v1h-3zM216 129h1v1h-1zM218 129h1v1h-1zM234 129h1v1h-1zM237 129h1v1h-1zM241 129h1v1h-1zM18 130h1v1h-1zM76 130h2v1h-2zM84 130h1v1h-1zM90 130h1v1h-1zM122 130h4v1h-4zM127 130h3v1h-3zM131 130h3v1h-3zM136 130h6v1h-6zM144 130h1v1h-1zM148 130h1v1h-1zM154 130h1v1h-1zM161 130h1v1h-1zM184 130h1v1h-1zM186 130h1v1h-1zM194 130h1v1h-1zM196 130h1v1h-1zM199 130h1v1h-1zM204 130h1v1h-1zM214 130h2v1h-2zM218 130h1v1h-1zM76 131h1v1h-1zM92 131h1v1h-1zM123 131h2v1h-2zM127 131h4v1h-4zM132 131h1v1h-1zM134 131h11v1h-11zM162 131h1v1h-1zM168 131h1v1h-1zM178 131h1v1h-1zM181 131h1v1h-1zM184 131h2v1h-2zM187 131h1v1h-1zM195 131h1v1h-1zM210 131h1v1h-1zM215 131h1v1h-1zM236 131h1v1h-1zM62 132h1v1h-1zM76 132h1v1h-1zM116 132h1v1h-1zM122 132h2v1h-2zM125 132h1v1h-1zM127 132h5v1h-5zM134 132h5v1h-5zM140 132h5v1h-5zM149 132h1v1h-1zM199 132h1v1h-1zM207 132h1v1h-1zM210 132h1v1h-1zM76 133h1v1h-1zM94 133h1v1h-1zM123 133h1v1h-1zM125 133h6v1h-6zM134 133h2v1h-2zM137 133h2v1h-2zM140 133h3v1h-3zM144 133h1v1h-1zM148 133h1v1h-1zM155 133h1v1h-1zM158 133h1v1h-1zM164 133h1v1h-1zM168 133h1v1h-1zM182 133h1v1h-1zM185 133h1v1h-1zM204 133h1v1h-1zM208 133h1v1h-1zM224 133h1v1h-1zM233 133h1v1h-1zM76 134h1v1h-1zM122 134h3v1h-3zM126 134h4v1h-4zM131 134h3v1h-3zM136 134h2v1h-2zM139 134h5v1h-5zM153 134h1v1h-1zM178 134h1v1h-1zM184 134h1v1h-1zM186 134h1v1h-1zM191 134h1v1h-1zM205 134h1v1h-1zM207 134h1v1h-1zM216 134h1v1h-1zM220 134h1v1h-1zM76 135h1v1h-1zM122 135h2v1h-2zM125 135h5v1h-5zM131 135h3v1h-3zM136 135h9v1h-9zM178 135h1v1h-1zM188 135h1v1h-1zM217 135h1v1h-1zM224 135h1v1h-1zM76 136h1v1h-1zM122 136h6v1h-6zM129 136h4v1h-4zM134 136h2v1h-2zM137 136h8v1h-8zM154 136h1v1h-1zM158 136h1v1h-1zM169 136h1v1h-1zM174 136h1v1h-1zM177 136h1v1h-1zM187 136h1v1h-1zM193 136h1v1h-1zM200 136h1v1h-1zM209 136h1v1h-1zM226 136h1v1h-1zM240 136h1v1h-1zM3 137h1v1h-1zM76 137h1v1h-1zM79 137h1v1h-1zM86 137h1v1h-1zM122 137h15v1h-15zM138 137h4v1h-4zM143 137h2v1h-2zM178 137h1v1h-1zM186 137h2v1h-2zM199 137h1v1h-1zM226 137h1v1h-1zM76 138h1v1h-1zM85 138h1v1h-1zM88 138h1v1h-1zM122 138h3v1h-3zM126 138h8v1h-8zM135 138h3v1h-3zM139 138h5v1h-5zM147 138h1v1h-1zM154 138h1v1h-1zM174 138h1v1h-1zM178 138h1v1h-1zM180 138h1v1h-1zM185 138h2v1h-2zM196 138h2v1h-2zM208 138h1v1h-1zM212 138h1v1h-1zM220 138h1v1h-1zM229 138h2v1h-2zM232 138h1v1h-1zM240 138h1v1h-1zM76 139h1v1h-1zM86 139h1v1h-1zM92 139h1v1h-1zM117 139h1v1h-1zM123 139h9v1h-9zM134 139h5v1h-5zM140 139h4v1h-4zM184 139h1v1h-1zM186 139h1v1h-1zM188 139h1v1h-1zM206 139h1v1h-1zM216 139h1v1h-1zM241 139h1v1h-1zM51 140h1v1h-1zM76 140h1v1h-1zM79 140h2v1h-2zM122 140h18v1h-18zM141 140h4v1h-4zM154 140h1v1h-1zM161 140h1v1h-1zM182 140h1v1h-1zM184 140h1v1h-1zM193 140h1v1h-1zM195 140h1v1h-1zM201 140h1v1h-1zM205 140h1v1h-1zM207 140h1v1h-1zM223 140h1v1h-1zM225 140h2v1h-2zM240 140h1v1h-1zM76 141h1v1h-1zM122 141h19v1h-19zM142 141h3v1h-3zM158 141h1v1h-1zM174 141h1v1h-1zM185 141h3v1h-3zM202 141h1v1h-1zM213 141h1v1h-1zM215 141h1v1h-1zM222 141h1v1h-1zM232 141h1v1h-1zM76 142h1v1h-1zM92 142h1v1h-1zM122 142h3v1h-3zM126 142h4v1h-4zM131 142h6v1h-6zM138 142h4v1h-4zM143 142h3v1h-3zM158 142h1v1h-1zM163 142h1v1h-1zM175 142h4v1h-4zM182 142h1v1h-1zM184 142h1v1h-1zM188 142h1v1h-1zM195 142h1v1h-1zM204 142h1v1h-1zM211 142h1v1h-1zM223 142h1v1h-1zM76 143h1v1h-1zM78 143h1v1h-1zM85 143h1v1h-1zM97 143h1v1h-1zM122 143h5v1h-5zM128 143h2v1h-2zM131 143h2v1h-2zM134 143h9v1h-9zM144 143h1v1h-1zM161 143h1v1h-1zM173 143h2v1h-2zM177 143h1v1h-1zM185 143h2v1h-2zM196 143h1v1h-1zM201 143h1v1h-1zM204 143h1v1h-1zM208 143h1v1h-1zM239 143h2v1h-2zM50 144h1v1h-1zM54 144h1v1h-1zM76 144h1v1h-1zM122 144h5v1h-5zM128 144h6v1h-6zM135 144h3v1h-3zM140 144h4v1h-4zM186 144h1v1h-1zM190 144h1v1h-1zM197 144h1v1h-1zM210 144h1v1h-1zM215 144h1v1h-1zM231 144h1v1h-1zM13 145h1v1h-1zM36 145h1v1h-1zM50 145h1v1h-1zM65 145h1v1h-1zM72 145h1v1h-1zM91 145h1v1h-1zM142 145h1v1h-1zM147 145h2v1h-2zM150 145h3v1h-3zM154 145h16v1h-16zM199 145h1v1h-1zM212 145h1v1h-1zM215 145h1v1h-1zM26 146h1v1h-1zM72 146h1v1h-1zM147 146h9v1h-9zM157 146h13v1h-13zM210 146h1v1h-1zM6 147h2v1h-2zM11 147h1v1h-1zM43 147h1v1h-1zM47 147h2v1h-2zM57 147h1v1h-1zM59 147h1v1h-1zM61 147h1v1h-1zM72 147h1v1h-1zM102 147h1v1h-1zM123 147h1v1h-1zM129 147h1v1h-1zM138 147h1v1h-1zM145 147h2v1h-2zM148 147h3v1h-3zM152 147h8v1h-8zM161 147h9v1h-9zM194 147h3v1h-3zM210 147h1v1h-1zM213 147h1v1h-1zM216 147h3v1h-3zM234 147h1v1h-1zM7 148h1v1h-1zM13 148h1v1h-1zM49 148h1v1h-1zM56 148h1v1h-1zM59 148h1v1h-1zM62 148h1v1h-1zM64 148h1v1h-1zM72 148h1v1h-1zM127 148h1v1h-1zM129 148h2v1h-2zM133 148h1v1h-1zM145 148h3v1h-3zM149 148h2v1h-2zM153 148h17v1h-17zM174 148h1v1h-1zM184 148h1v1h-1zM199 148h1v1h-1zM203 148h2v1h-2zM206 148h2v1h-2zM210 148h1v1h-1zM213 148h2v1h-2zM216 148h3v1h-3zM36 149h1v1h-1zM38 149h1v1h-1zM52 149h1v1h-1zM120 149h1v1h-1zM132 149h1v1h-1zM146 149h3v1h-3zM150 149h20v1h-20zM174 149h1v1h-1zM207 149h1v1h-1zM210 149h1v1h-1zM216 149h1v1h-1zM235 149h1v1h-1zM48 150h1v1h-1zM72 150h1v1h-1zM145 150h5v1h-5zM151 150h19v1h-19zM206 150h1v1h-1zM234 150h1v1h-1zM1 151h1v1h-1zM22 151h1v1h-1zM31 151h1v1h-1zM72 151h1v1h-1zM145 151h2v1h-2zM149 151h2v1h-2zM152 151h18v1h-18zM199 151h1v1h-1zM217 151h1v1h-1zM224 151h1v1h-1zM25 152h1v1h-1zM33 152h1v1h-1zM72 152h1v1h-1zM145 152h3v1h-3zM149 152h3v1h-3zM153 152h17v1h-17zM207 152h1v1h-1zM213 152h1v1h-1zM217 152h1v1h-1zM11 153h1v1h-1zM25 153h1v1h-1zM37 153h1v1h-1zM65 153h1v1h-1zM72 153h1v1h-1zM91 153h1v1h-1zM129 153h1v1h-1zM134 153h1v1h-1zM146 153h7v1h-7zM155 153h4v1h-4zM160 153h8v1h-8zM169 153h1v1h-1zM172 153h1v1h-1zM186 153h1v1h-1zM197 153h1v1h-1zM231 153h1v1h-1zM9 154h1v1h-1zM14 154h1v1h-1zM17 154h1v1h-1zM20 154h1v1h-1zM32 154h1v1h-1zM48 154h1v1h-1zM54 154h1v1h-1zM60 154h1v1h-1zM72 154h1v1h-1zM106 154h1v1h-1zM111 154h1v1h-1zM120 154h1v1h-1zM129 154h2v1h-2zM136 154h1v1h-1zM138 154h1v1h-1zM140 154h1v1h-1zM145 154h8v1h-8zM155 154h15v1h-15zM193 154h1v1h-1zM197 154h1v1h-1zM200 154h1v1h-1zM204 154h1v1h-1zM210 154h1v1h-1zM215 154h3v1h-3zM227 154h1v1h-1zM2 155h1v1h-1zM36 155h1v1h-1zM41 155h1v1h-1zM50 155h1v1h-1zM57 155h2v1h-2zM72 155h1v1h-1zM125 155h1v1h-1zM133 155h1v1h-1zM145 155h10v1h-10zM156 155h3v1h-3zM160 155h10v1h-10zM174 155h1v1h-1zM196 155h1v1h-1zM202 155h1v1h-1zM208 155h1v1h-1zM217 155h1v1h-1zM54 156h1v1h-1zM72 156h1v1h-1zM128 156h1v1h-1zM145 156h1v1h-1zM147 156h9v1h-9zM157 156h6v1h-6zM164 156h6v1h-6zM209 156h1v1h-1zM213 156h1v1h-1zM215 156h1v1h-1zM72 157h1v1h-1zM145 157h12v1h-12zM158 157h11v1h-11zM7 158h1v1h-1zM11 158h1v1h-1zM26 158h1v1h-1zM31 158h1v1h-1zM35 158h1v1h-1zM41 158h1v1h-1zM58 158h1v1h-1zM61 158h1v1h-1zM72 158h1v1h-1zM124 158h1v1h-1zM133 158h1v1h-1zM136 158h1v1h-1zM141 158h2v1h-2zM145 158h13v1h-13zM159 158h11v1h-11zM199 158h2v1h-2zM210 158h1v1h-1zM215 158h3v1h-3zM239 158h1v1h-1zM12 159h1v1h-1zM66 159h1v1h-1zM72 159h1v1h-1zM123 159h1v1h-1zM145 159h8v1h-8zM154 159h1v1h-1zM156 159h3v1h-3zM160 159h11v1h-11zM176 159h1v1h-1zM197 159h1v1h-1zM5 160h1v1h-1zM72 160h1v1h-1zM128 160h1v1h-1zM145 160h2v1h-2zM148 160h12v1h-12zM161 160h9v1h-9zM197 160h1v1h-1zM206 160h1v1h-1zM210 160h1v1h-1zM2 161h1v1h-1zM6 161h1v1h-1zM11 161h1v1h-1zM15 161h1v1h-1zM129 161h2v1h-2zM140 161h1v1h-1zM143 161h1v1h-1zM145 161h16v1h-16zM162 161h9v1h-9zM178 161h1v1h-1zM196 161h1v1h-1zM205 161h1v1h-1zM207 161h1v1h-1zM217 161h1v1h-1zM231 161h1v1h-1zM16 162h1v1h-1zM29 162h1v1h-1zM72 162h1v1h-1zM108 162h1v1h-1zM131 162h1v1h-1zM145 162h17v1h-17zM163 162h7v1h-7zM223 162h1v1h-1zM10 163h1v1h-1zM16 163h1v1h-1zM21 163h1v1h-1zM26 163h1v1h-1zM52 163h1v1h-1zM60 163h1v1h-1zM72 163h1v1h-1zM99 163h1v1h-1zM102 163h1v1h-1zM108 163h1v1h-1zM124 163h2v1h-2zM129 163h1v1h-1zM142 163h1v1h-1zM145 163h11v1h-11zM157 163h6v1h-6zM164 163h6v1h-6zM198 163h1v1h-1zM204 163h1v1h-1zM207 163h1v1h-1zM213 163h2v1h-2zM217 163h2v1h-2zM25 164h1v1h-1zM27 164h1v1h-1zM43 164h1v1h-1zM48 164h1v1h-1zM52 164h1v1h-1zM61 164h1v1h-1zM72 164h1v1h-1zM115 164h1v1h-1zM133 164h1v1h-1zM145 164h19v1h-19zM165 164h2v1h-2zM168 164h2v1h-2zM210 164h1v1h-1zM213 164h1v1h-1zM217 164h1v1h-1zM233 164h1v1h-1zM23 165h1v1h-1zM30 165h1v1h-1zM50 165h1v1h-1zM57 165h2v1h-2zM72 165h1v1h-1zM108 165h1v1h-1zM122 165h1v1h-1zM145 165h20v1h-20zM166 165h4v1h-4zM177 165h1v1h-1zM190 165h1v1h-1zM196 165h1v1h-1zM200 165h1v1h-1zM202 165h1v1h-1zM204 165h2v1h-2zM207 165h2v1h-2zM210 165h1v1h-1zM215 165h1v1h-1zM217 165h1v1h-1zM232 165h1v1h-1zM240 165h1v1h-1zM24 166h1v1h-1zM50 166h1v1h-1zM58 166h1v1h-1zM64 166h1v1h-1zM72 166h1v1h-1zM116 166h1v1h-1zM124 166h2v1h-2zM145 166h21v1h-21zM167 166h1v1h-1zM169 166h1v1h-1zM202 166h1v1h-1zM209 166h1v1h-1zM211 166h1v1h-1zM215 166h1v1h-1zM217 166h1v1h-1zM6 167h1v1h-1zM72 167h1v1h-1zM145 167h19v1h-19zM165 167h2v1h-2zM168 167h2v1h-2zM190 167h1v1h-1zM196 167h1v1h-1zM7 168h1v1h-1zM52 168h1v1h-1zM62 168h1v1h-1zM120 168h1v1h-1zM131 168h1v1h-1zM133 168h1v1h-1zM145 168h8v1h-8zM154 168h12v1h-12zM167 168h1v1h-1zM169 168h1v1h-1zM208 168h1v1h-1zM210 168h1v1h-1zM215 168h1v1h-1zM218 168h1v1h-1zM72 169h1v1h-1zM136 169h1v1h-1zM145 169h12v1h-12zM158 169h11v1h-11zM225 169h1v1h-1zM61 170h1v1h-1zM68 170h1v1h-1zM89 170h1v1h-1zM122 170h2v1h-2zM125 170h2v1h-2zM128 170h1v1h-1zM159 170h1v1h-1zM161 170h1v1h-1zM173 170h2v1h-2zM176 170h1v1h-1zM178 170h6v1h-6zM186 170h2v1h-2zM189 170h2v1h-2zM192 170h1v1h-1zM194 170h1v1h-1zM209 170h1v1h-1zM241 170h1v1h-1zM68 171h1v1h-1zM77 171h1v1h-1zM176 171h1v1h-1zM179 171h1v1h-1zM186 171h1v1h-1zM190 171h1v1h-1zM192 171h1v1h-1zM194 171h1v1h-1zM210 171h1v1h-1zM215 171h1v1h-1zM66 172h1v1h-1zM68 172h1v1h-1zM123 172h1v1h-1zM125 172h1v1h-1zM129 172h1v1h-1zM153 172h1v1h-1zM173 172h1v1h-1zM176 172h1v1h-1zM178 172h3v1h-3zM185 172h2v1h-2zM188 172h1v1h-1zM190 172h2v1h-2zM193 172h1v1h-1zM195 172h1v1h-1zM205 172h1v1h-1zM239 172h1v1h-1zM68 173h1v1h-1zM80 173h1v1h-1zM90 173h1v1h-1zM122 173h4v1h-4zM128 173h1v1h-1zM143 173h1v1h-1zM170 173h1v1h-1zM172 173h1v1h-1zM176 173h1v1h-1zM179 173h1v1h-1zM181 173h2v1h-2zM184 173h4v1h-4zM189 173h7v1h-7zM198 173h1v1h-1zM208 173h2v1h-2zM215 173h1v1h-1zM38 174h1v1h-1zM68 174h1v1h-1zM83 174h1v1h-1zM90 174h1v1h-1zM101 174h1v1h-1zM123 174h1v1h-1zM125 174h2v1h-2zM128 174h2v1h-2zM136 174h1v1h-1zM138 174h1v1h-1zM141 174h1v1h-1zM143 174h1v1h-1zM148 174h2v1h-2zM155 174h1v1h-1zM170 174h1v1h-1zM176 174h1v1h-1zM178 174h1v1h-1zM180 174h1v1h-1zM182 174h2v1h-2zM187 174h1v1h-1zM189 174h3v1h-3zM193 174h4v1h-4zM205 174h3v1h-3zM209 174h1v1h-1zM218 174h1v1h-1zM224 174h2v1h-2zM232 174h1v1h-1zM240 174h1v1h-1zM68 175h1v1h-1zM79 175h1v1h-1zM87 175h1v1h-1zM123 175h1v1h-1zM142 175h1v1h-1zM180 175h3v1h-3zM186 175h1v1h-1zM190 175h3v1h-3zM210 175h1v1h-1zM213 175h1v1h-1zM215 175h2v1h-2zM68 176h1v1h-1zM125 176h1v1h-1zM128 176h1v1h-1zM142 176h1v1h-1zM159 176h1v1h-1zM170 176h5v1h-5zM177 176h1v1h-1zM179 176h2v1h-2zM182 176h1v1h-1zM184 176h4v1h-4zM189 176h4v1h-4zM194 176h3v1h-3zM220 176h1v1h-1zM222 176h1v1h-1zM225 176h1v1h-1zM68 177h1v1h-1zM79 177h1v1h-1zM85 177h1v1h-1zM95 177h1v1h-1zM98 177h1v1h-1zM119 177h1v1h-1zM122 177h2v1h-2zM125 177h1v1h-1zM136 177h1v1h-1zM142 177h2v1h-2zM165 177h1v1h-1zM176 177h1v1h-1zM179 177h4v1h-4zM186 177h5v1h-5zM192 177h3v1h-3zM213 177h1v1h-1zM215 177h2v1h-2zM234 177h1v1h-1zM68 178h1v1h-1zM80 178h1v1h-1zM88 178h1v1h-1zM90 178h1v1h-1zM123 178h1v1h-1zM125 178h1v1h-1zM127 178h1v1h-1zM131 178h1v1h-1zM134 178h2v1h-2zM137 178h2v1h-2zM142 178h1v1h-1zM161 178h1v1h-1zM170 178h1v1h-1zM172 178h1v1h-1zM174 178h1v1h-1zM179 178h1v1h-1zM181 178h8v1h-8zM191 178h5v1h-5zM199 178h2v1h-2zM221 178h1v1h-1zM234 178h1v1h-1zM239 178h1v1h-1zM68 179h1v1h-1zM122 179h1v1h-1zM126 179h1v1h-1zM170 179h4v1h-4zM176 179h3v1h-3zM180 179h3v1h-3zM184 179h10v1h-10zM210 179h1v1h-1zM215 179h1v1h-1zM12 180h1v1h-1zM68 180h1v1h-1zM95 180h1v1h-1zM124 180h1v1h-1zM138 180h1v1h-1zM170 180h1v1h-1zM172 180h1v1h-1zM174 180h4v1h-4zM179 180h1v1h-1zM181 180h2v1h-2zM186 180h10v1h-10zM218 180h1v1h-1zM68 181h1v1h-1zM87 181h1v1h-1zM89 181h1v1h-1zM123 181h1v1h-1zM128 181h1v1h-1zM131 181h1v1h-1zM170 181h1v1h-1zM173 181h1v1h-1zM175 181h1v1h-1zM177 181h4v1h-4zM183 181h9v1h-9zM193 181h2v1h-2zM68 182h1v1h-1zM100 182h1v1h-1zM133 182h1v1h-1zM140 182h1v1h-1zM142 182h1v1h-1zM170 182h1v1h-1zM173 182h8v1h-8zM183 182h5v1h-5zM189 182h7v1h-7zM239 182h1v1h-1zM241 182h1v1h-1zM68 183h1v1h-1zM88 183h1v1h-1zM125 183h1v1h-1zM170 183h1v1h-1zM174 183h1v1h-1zM178 183h1v1h-1zM181 183h2v1h-2zM185 183h2v1h-2zM188 183h2v1h-2zM191 183h2v1h-2zM194 183h2v1h-2zM197 183h1v1h-1zM203 183h1v1h-1zM68 184h1v1h-1zM80 184h1v1h-1zM94 184h1v1h-1zM119 184h1v1h-1zM125 184h1v1h-1zM127 184h2v1h-2zM130 184h2v1h-2zM134 184h1v1h-1zM139 184h2v1h-2zM142 184h1v1h-1zM148 184h1v1h-1zM173 184h1v1h-1zM176 184h1v1h-1zM178 184h2v1h-2zM181 184h2v1h-2zM185 184h1v1h-1zM187 184h2v1h-2zM190 184h2v1h-2zM193 184h3v1h-3zM210 184h1v1h-1zM233 184h1v1h-1zM237 184h1v1h-1zM53 185h1v1h-1zM68 185h1v1h-1zM88 185h1v1h-1zM97 185h1v1h-1zM123 185h1v1h-1zM125 185h1v1h-1zM127 185h3v1h-3zM131 185h1v1h-1zM133 185h1v1h-1zM138 185h1v1h-1zM141 185h1v1h-1zM143 185h1v1h-1zM172 185h2v1h-2zM176 185h1v1h-1zM178 185h2v1h-2zM181 185h4v1h-4zM186 185h10v1h-10zM220 185h1v1h-1zM231 185h1v1h-1zM235 185h1v1h-1zM239 185h1v1h-1zM25 186h1v1h-1zM68 186h1v1h-1zM77 186h1v1h-1zM79 186h2v1h-2zM83 186h1v1h-1zM86 186h1v1h-1zM123 186h1v1h-1zM125 186h6v1h-6zM134 186h1v1h-1zM137 186h3v1h-3zM141 186h1v1h-1zM143 186h2v1h-2zM153 186h1v1h-1zM170 186h4v1h-4zM175 186h9v1h-9zM185 186h1v1h-1zM187 186h11v1h-11zM200 186h1v1h-1zM210 186h1v1h-1zM215 186h1v1h-1zM217 186h1v1h-1zM231 186h1v1h-1zM239 186h1v1h-1zM68 187h1v1h-1zM90 187h1v1h-1zM93 187h1v1h-1zM97 187h1v1h-1zM102 187h1v1h-1zM129 187h1v1h-1zM131 187h1v1h-1zM136 187h2v1h-2zM141 187h1v1h-1zM170 187h1v1h-1zM173 187h2v1h-2zM176 187h7v1h-7zM184 187h3v1h-3zM188 187h3v1h-3zM192 187h1v1h-1zM194 187h2v1h-2zM238 187h1v1h-1zM62 188h1v1h-1zM68 188h1v1h-1zM81 188h1v1h-1zM91 188h1v1h-1zM124 188h1v1h-1zM135 188h1v1h-1zM139 188h1v1h-1zM142 188h1v1h-1zM172 188h1v1h-1zM177 188h5v1h-5zM183 188h5v1h-5zM190 188h1v1h-1zM192 188h4v1h-4zM205 188h1v1h-1zM209 188h1v1h-1zM224 188h1v1h-1zM21 189h1v1h-1zM68 189h1v1h-1zM170 189h1v1h-1zM173 189h2v1h-2zM176 189h2v1h-2zM179 189h5v1h-5zM185 189h3v1h-3zM192 189h1v1h-1zM198 189h1v1h-1zM217 189h2v1h-2zM231 189h1v1h-1zM68 190h1v1h-1zM127 190h1v1h-1zM129 190h1v1h-1zM144 190h1v1h-1zM165 190h1v1h-1zM167 190h1v1h-1zM170 190h8v1h-8zM179 190h4v1h-4zM184 190h5v1h-5zM191 190h3v1h-3zM195 190h1v1h-1zM202 190h1v1h-1zM213 190h1v1h-1zM215 190h1v1h-1zM217 190h2v1h-2zM239 190h1v1h-1zM56 191h1v1h-1zM68 191h1v1h-1zM79 191h1v1h-1zM128 191h1v1h-1zM134 191h1v1h-1zM172 191h5v1h-5zM178 191h9v1h-9zM190 191h1v1h-1zM192 191h4v1h-4zM216 191h1v1h-1zM240 191h1v1h-1zM66 192h1v1h-1zM68 192h1v1h-1zM125 192h1v1h-1zM127 192h1v1h-1zM170 192h2v1h-2zM173 192h1v1h-1zM175 192h6v1h-6zM182 192h2v1h-2zM185 192h7v1h-7zM193 192h3v1h-3zM213 192h1v1h-1zM27 193h1v1h-1zM68 193h1v1h-1zM122 193h1v1h-1zM129 193h1v1h-1zM136 193h1v1h-1zM140 193h1v1h-1zM154 193h1v1h-1zM172 193h3v1h-3zM177 193h6v1h-6zM184 193h3v1h-3zM188 193h1v1h-1zM190 193h3v1h-3zM194 193h2v1h-2zM208 193h1v1h-1zM210 193h1v1h-1zM222 193h1v1h-1zM233 193h2v1h-2zM237 193h1v1h-1zM68 194h1v1h-1zM125 194h2v1h-2zM128 194h3v1h-3zM147 194h1v1h-1zM170 194h2v1h-2zM173 194h2v1h-2zM176 194h3v1h-3zM180 194h9v1h-9zM191 194h3v1h-3zM195 194h1v1h-1zM212 194h1v1h-1zM215 194h1v1h-1zM222 194h1v1h-1zM226 194h1v1h-1zM234 194h1v1h-1zM49 195h1v1h-1zM68 195h1v1h-1zM123 195h1v1h-1zM131 195h1v1h-1zM140 195h1v1h-1zM142 195h1v1h-1zM147 195h1v1h-1zM172 195h3v1h-3zM176 195h1v1h-1zM178 195h1v1h-1zM180 195h1v1h-1zM182 195h7v1h-7zM190 195h5v1h-5zM196 195h1v1h-1zM220 195h1v1h-1zM226 195h1v1h-1zM78 196h1v1h-1zM95 196h1v1h-1zM123 196h2v1h-2zM126 196h1v1h-1zM130 196h1v1h-1zM138 196h1v1h-1zM143 196h1v1h-1zM147 196h1v1h-1zM155 196h1v1h-1zM161 196h1v1h-1zM165 196h1v1h-1zM167 196h1v1h-1zM174 196h1v1h-1zM176 196h1v1h-1zM186 196h1v1h-1zM195 196h1v1h-1zM197 196h12v1h-12zM210 196h5v1h-5zM216 196h4v1h-4zM226 196h1v1h-1zM240 196h1v1h-1zM88 197h1v1h-1zM97 197h1v1h-1zM123 197h1v1h-1zM128 197h1v1h-1zM138 197h1v1h-1zM144 197h1v1h-1zM153 197h2v1h-2zM159 197h2v1h-2zM183 197h1v1h-1zM186 197h1v1h-1zM196 197h1v1h-1zM198 197h14v1h-14zM214 197h5v1h-5zM239 197h1v1h-1zM74 198h1v1h-1zM88 198h1v1h-1zM163 198h1v1h-1zM173 198h1v1h-1zM189 198h1v1h-1zM196 198h2v1h-2zM199 198h5v1h-5zM205 198h4v1h-4zM210 198h9v1h-9zM235 198h1v1h-1zM42 199h1v1h-1zM123 199h1v1h-1zM128 199h1v1h-1zM130 199h1v1h-1zM132 199h1v1h-1zM137 199h1v1h-1zM145 199h1v1h-1zM148 199h1v1h-1zM151 199h1v1h-1zM158 199h1v1h-1zM178 199h1v1h-1zM196 199h3v1h-3zM200 199h8v1h-8zM209 199h5v1h-5zM215 199h4v1h-4zM136 200h1v1h-1zM154 200h1v1h-1zM158 200h1v1h-1zM165 200h1v1h-1zM178 200h1v1h-1zM186 200h1v1h-1zM196 200h4v1h-4zM201 200h5v1h-5zM207 200h9v1h-9zM217 200h2v1h-2zM140 201h1v1h-1zM143 201h1v1h-1zM196 201h5v1h-5zM202 201h6v1h-6zM210 201h2v1h-2zM213 201h6v1h-6zM225 201h1v1h-1zM141 202h1v1h-1zM155 202h1v1h-1zM165 202h2v1h-2zM190 202h1v1h-1zM196 202h6v1h-6zM203 202h10v1h-10zM214 202h1v1h-1zM216 202h3v1h-3zM238 202h1v1h-1zM74 203h1v1h-1zM125 203h1v1h-1zM148 203h1v1h-1zM183 203h1v1h-1zM196 203h7v1h-7zM204 203h15v1h-15zM124 204h1v1h-1zM130 204h1v1h-1zM133 204h1v1h-1zM142 204h2v1h-2zM148 204h1v1h-1zM154 204h1v1h-1zM163 204h1v1h-1zM165 204h1v1h-1zM196 204h2v1h-2zM199 204h5v1h-5zM205 204h2v1h-2zM210 204h1v1h-1zM212 204h2v1h-2zM215 204h2v1h-2zM77 205h1v1h-1zM126 205h1v1h-1zM128 205h1v1h-1zM134 205h1v1h-1zM140 205h1v1h-1zM161 205h1v1h-1zM165 205h1v1h-1zM172 205h1v1h-1zM174 205h1v1h-1zM188 205h1v1h-1zM196 205h9v1h-9zM206 205h5v1h-5zM212 205h1v1h-1zM214 205h5v1h-5zM220 205h1v1h-1zM123 206h1v1h-1zM125 206h1v1h-1zM129 206h1v1h-1zM139 206h1v1h-1zM148 206h1v1h-1zM150 206h1v1h-1zM160 206h1v1h-1zM174 206h1v1h-1zM196 206h4v1h-4zM201 206h5v1h-5zM207 206h1v1h-1zM209 206h10v1h-10zM12 207h1v1h-1zM122 207h1v1h-1zM129 207h1v1h-1zM132 207h1v1h-1zM134 207h1v1h-1zM140 207h1v1h-1zM148 207h2v1h-2zM152 207h1v1h-1zM161 207h1v1h-1zM163 207h1v1h-1zM165 207h1v1h-1zM174 207h1v1h-1zM196 207h8v1h-8zM205 207h2v1h-2zM209 207h2v1h-2zM212 207h6v1h-6zM78 208h1v1h-1zM94 208h1v1h-1zM129 208h1v1h-1zM133 208h1v1h-1zM138 208h1v1h-1zM143 208h1v1h-1zM155 208h1v1h-1zM165 208h1v1h-1zM168 208h1v1h-1zM173 208h1v1h-1zM193 208h1v1h-1zM196 208h3v1h-3zM200 208h1v1h-1zM202 208h2v1h-2zM205 208h1v1h-1zM209 208h6v1h-6zM216 208h1v1h-1zM218 208h1v1h-1zM227 208h1v1h-1zM55 209h1v1h-1zM74 209h1v1h-1zM77 209h1v1h-1zM92 209h1v1h-1zM122 209h1v1h-1zM125 209h1v1h-1zM136 209h1v1h-1zM156 209h1v1h-1zM166 209h1v1h-1zM170 209h1v1h-1zM173 209h2v1h-2zM188 209h1v1h-1zM197 209h1v1h-1zM199 209h2v1h-2zM202 209h2v1h-2zM205 209h4v1h-4zM210 209h9v1h-9zM241 209h1v1h-1zM74 210h1v1h-1zM88 210h1v1h-1zM123 210h1v1h-1zM125 210h1v1h-1zM131 210h2v1h-2zM144 210h1v1h-1zM146 210h4v1h-4zM154 210h1v1h-1zM158 210h1v1h-1zM160 210h1v1h-1zM164 210h2v1h-2zM168 210h1v1h-1zM171 210h1v1h-1zM175 210h1v1h-1zM179 210h1v1h-1zM184 210h1v1h-1zM186 210h1v1h-1zM193 210h1v1h-1zM196 210h14v1h-14zM211 210h8v1h-8zM231 210h1v1h-1zM236 210h1v1h-1zM240 210h1v1h-1zM85 211h1v1h-1zM142 211h1v1h-1zM166 211h1v1h-1zM196 211h8v1h-8zM206 211h1v1h-1zM208 211h3v1h-3zM212 211h1v1h-1zM214 211h4v1h-4zM138 212h1v1h-1zM145 212h1v1h-1zM194 212h1v1h-1zM196 212h1v1h-1zM198 212h3v1h-3zM202 212h10v1h-10zM213 212h6v1h-6zM74 213h1v1h-1zM91 213h1v1h-1zM123 213h1v1h-1zM141 213h1v1h-1zM147 213h2v1h-2zM152 213h1v1h-1zM156 213h1v1h-1zM163 213h2v1h-2zM175 213h1v1h-1zM177 213h1v1h-1zM190 213h1v1h-1zM192 213h1v1h-1zM196 213h1v1h-1zM198 213h4v1h-4zM203 213h2v1h-2zM206 213h5v1h-5zM212 213h1v1h-1zM214 213h4v1h-4zM237 213h1v1h-1zM74 214h1v1h-1zM79 214h1v1h-1zM127 214h1v1h-1zM130 214h1v1h-1zM148 214h1v1h-1zM163 214h1v1h-1zM196 214h3v1h-3zM200 214h4v1h-4zM205 214h9v1h-9zM215 214h4v1h-4zM54 215h1v1h-1zM74 215h1v1h-1zM123 215h1v1h-1zM125 215h3v1h-3zM130 215h2v1h-2zM141 215h1v1h-1zM144 215h2v1h-2zM154 215h1v1h-1zM156 215h1v1h-1zM158 215h1v1h-1zM165 215h2v1h-2zM168 215h1v1h-1zM171 215h1v1h-1zM173 215h1v1h-1zM175 215h1v1h-1zM177 215h1v1h-1zM179 215h1v1h-1zM186 215h1v1h-1zM190 215h1v1h-1zM194 215h1v1h-1zM197 215h5v1h-5zM203 215h5v1h-5zM209 215h6v1h-6zM216 215h1v1h-1zM218 215h1v1h-1zM220 215h2v1h-2zM230 215h1v1h-1zM239 215h1v1h-1zM74 216h1v1h-1zM122 216h1v1h-1zM129 216h1v1h-1zM134 216h1v1h-1zM139 216h1v1h-1zM147 216h3v1h-3zM154 216h1v1h-1zM158 216h1v1h-1zM175 216h1v1h-1zM177 216h1v1h-1zM191 216h1v1h-1zM196 216h4v1h-4zM201 216h15v1h-15zM217 216h2v1h-2zM74 217h1v1h-1zM79 217h1v1h-1zM115 217h1v1h-1zM123 217h1v1h-1zM125 217h1v1h-1zM135 217h1v1h-1zM147 217h2v1h-2zM151 217h2v1h-2zM154 217h2v1h-2zM158 217h1v1h-1zM161 217h1v1h-1zM163 217h4v1h-4zM186 217h1v1h-1zM189 217h2v1h-2zM196 217h8v1h-8zM205 217h3v1h-3zM209 217h6v1h-6zM216 217h1v1h-1zM218 217h1v1h-1zM228 217h1v1h-1zM234 217h1v1h-1zM80 218h1v1h-1zM125 218h1v1h-1zM128 218h3v1h-3zM147 218h2v1h-2zM163 218h1v1h-1zM168 218h1v1h-1zM174 218h1v1h-1zM180 218h1v1h-1zM189 218h2v1h-2zM196 218h8v1h-8zM205 218h2v1h-2zM208 218h3v1h-3zM212 218h1v1h-1zM214 218h4v1h-4zM240 218h1v1h-1zM73 219h1v1h-1zM83 219h1v1h-1zM90 219h1v1h-1zM96 219h1v1h-1zM196 219h1v1h-1zM220 219h11v1h-11zM232 219h10v1h-10zM73 220h1v1h-1zM77 220h5v1h-5zM83 220h2v1h-2zM86 220h1v1h-1zM88 220h2v1h-2zM93 220h1v1h-1zM95 220h1v1h-1zM97 220h1v1h-1zM116 220h1v1h-1zM134 220h1v1h-1zM138 220h1v1h-1zM176 220h1v1h-1zM185 220h1v1h-1zM195 220h1v1h-1zM205 220h1v1h-1zM215 220h1v1h-1zM219 220h1v1h-1zM221 220h1v1h-1zM223 220h4v1h-4zM228 220h1v1h-1zM230 220h5v1h-5zM237 220h5v1h-5zM73 221h1v1h-1zM79 221h1v1h-1zM85 221h1v1h-1zM89 221h1v1h-1zM92 221h2v1h-2zM97 221h1v1h-1zM178 221h1v1h-1zM215 221h1v1h-1zM219 221h2v1h-2zM223 221h1v1h-1zM225 221h8v1h-8zM234 221h5v1h-5zM240 221h2v1h-2zM73 222h1v1h-1zM77 222h1v1h-1zM79 222h1v1h-1zM82 222h1v1h-1zM85 222h2v1h-2zM89 222h1v1h-1zM96 222h1v1h-1zM141 222h1v1h-1zM176 222h1v1h-1zM193 222h2v1h-2zM219 222h1v1h-1zM223 222h8v1h-8zM232 222h4v1h-4zM237 222h2v1h-2zM240 222h1v1h-1zM73 223h1v1h-1zM81 223h1v1h-1zM83 223h1v1h-1zM85 223h1v1h-1zM88 223h1v1h-1zM140 223h1v1h-1zM142 223h1v1h-1zM162 223h1v1h-1zM219 223h4v1h-4zM224 223h18v1h-18zM73 224h1v1h-1zM78 224h3v1h-3zM82 224h5v1h-5zM88 224h2v1h-2zM91 224h1v1h-1zM94 224h2v1h-2zM97 224h2v1h-2zM122 224h1v1h-1zM124 224h1v1h-1zM133 224h1v1h-1zM135 224h1v1h-1zM151 224h1v1h-1zM174 224h1v1h-1zM188 224h1v1h-1zM219 224h2v1h-2zM222 224h2v1h-2zM226 224h16v1h-16zM73 225h1v1h-1zM77 225h5v1h-5zM83 225h4v1h-4zM88 225h2v1h-2zM91 225h8v1h-8zM125 225h2v1h-2zM140 225h1v1h-1zM169 225h1v1h-1zM174 225h1v1h-1zM176 225h1v1h-1zM201 225h1v1h-1zM219 225h5v1h-5zM226 225h3v1h-3zM230 225h9v1h-9zM240 225h2v1h-2zM73 226h1v1h-1zM77 226h1v1h-1zM79 226h3v1h-3zM83 226h10v1h-10zM94 226h1v1h-1zM96 226h3v1h-3zM102 226h1v1h-1zM107 226h3v1h-3zM112 226h1v1h-1zM123 226h1v1h-1zM136 226h2v1h-2zM140 226h1v1h-1zM194 226h3v1h-3zM219 226h7v1h-7zM227 226h6v1h-6zM234 226h2v1h-2zM237 226h1v1h-1zM239 226h3v1h-3zM73 227h1v1h-1zM77 227h1v1h-1zM83 227h1v1h-1zM88 227h1v1h-1zM92 227h1v1h-1zM122 227h1v1h-1zM154 227h1v1h-1zM208 227h1v1h-1zM219 227h1v1h-1zM221 227h6v1h-6zM228 227h11v1h-11zM240 227h2v1h-2zM61 228h1v1h-1zM73 228h1v1h-1zM80 228h1v1h-1zM84 228h2v1h-2zM88 228h2v1h-2zM95 228h1v1h-1zM97 228h1v1h-1zM125 228h1v1h-1zM217 228h1v1h-1zM219 228h9v1h-9zM229 228h4v1h-4zM234 228h2v1h-2zM237 228h5v1h-5zM73 229h1v1h-1zM89 229h1v1h-1zM91 229h1v1h-1zM95 229h1v1h-1zM138 229h1v1h-1zM219 229h1v1h-1zM221 229h4v1h-4zM226 229h3v1h-3zM230 229h6v1h-6zM237 229h5v1h-5zM73 230h1v1h-1zM77 230h1v1h-1zM83 230h1v1h-1zM87 230h1v1h-1zM89 230h3v1h-3zM95 230h1v1h-1zM97 230h1v1h-1zM103 230h1v1h-1zM138 230h1v1h-1zM215 230h1v1h-1zM219 230h11v1h-11zM231 230h2v1h-2zM234 230h8v1h-8zM43 231h1v1h-1zM73 231h1v1h-1zM77 231h1v1h-1zM79 231h2v1h-2zM82 231h4v1h-4zM88 231h3v1h-3zM94 231h1v1h-1zM96 231h2v1h-2zM144 231h1v1h-1zM153 231h1v1h-1zM161 231h1v1h-1zM185 231h2v1h-2zM189 231h1v1h-1zM210 231h1v1h-1zM220 231h2v1h-2zM223 231h8v1h-8zM232 231h3v1h-3zM236 231h6v1h-6zM73 232h1v1h-1zM80 232h1v1h-1zM85 232h1v1h-1zM95 232h3v1h-3zM138 232h1v1h-1zM141 232h1v1h-1zM165 232h1v1h-1zM174 232h1v1h-1zM219 232h13v1h-13zM233 232h9v1h-9zM73 233h1v1h-1zM77 233h5v1h-5zM83 233h1v1h-1zM85 233h1v1h-1zM88 233h3v1h-3zM95 233h3v1h-3zM125 233h1v1h-1zM133 233h1v1h-1zM164 233h1v1h-1zM184 233h1v1h-1zM193 233h1v1h-1zM219 233h2v1h-2zM222 233h4v1h-4zM227 233h1v1h-1zM229 233h1v1h-1zM231 233h2v1h-2zM234 233h5v1h-5zM240 233h2v1h-2zM73 234h1v1h-1zM77 234h2v1h-2zM80 234h1v1h-1zM82 234h1v1h-1zM85 234h1v1h-1zM88 234h2v1h-2zM91 234h1v1h-1zM94 234h1v1h-1zM96 234h3v1h-3zM101 234h1v1h-1zM126 234h1v1h-1zM129 234h1v1h-1zM147 234h1v1h-1zM150 234h1v1h-1zM177 234h2v1h-2zM193 234h2v1h-2zM217 234h1v1h-1zM219 234h15v1h-15zM235 234h7v1h-7zM73 235h1v1h-1zM77 235h1v1h-1zM79 235h2v1h-2zM83 235h7v1h-7zM91 235h1v1h-1zM95 235h4v1h-4zM106 235h1v1h-1zM149 235h1v1h-1zM185 235h1v1h-1zM198 235h1v1h-1zM219 235h1v1h-1zM221 235h10v1h-10zM232 235h3v1h-3zM237 235h2v1h-2zM240 235h2v1h-2zM73 236h1v1h-1zM78 236h1v1h-1zM80 236h1v1h-1zM85 236h2v1h-2zM124 236h1v1h-1zM131 236h1v1h-1zM210 236h1v1h-1zM219 236h1v1h-1zM221 236h1v1h-1zM223 236h3v1h-3zM227 236h1v1h-1zM230 236h5v1h-5zM237 236h2v1h-2zM240 236h2v1h-2zM73 237h1v1h-1zM80 237h1v1h-1zM84 237h1v1h-1zM89 237h1v1h-1zM91 237h1v1h-1zM97 237h1v1h-1zM129 237h1v1h-1zM184 237h1v1h-1zM193 237h1v1h-1zM213 237h1v1h-1zM219 237h18v1h-18zM238 237h1v1h-1zM240 237h2v1h-2zM73 238h1v1h-1zM78 238h2v1h-2zM83 238h1v1h-1zM88 238h1v1h-1zM92 238h1v1h-1zM96 238h3v1h-3zM125 238h1v1h-1zM187 238h1v1h-1zM202 238h1v1h-1zM219 238h7v1h-7zM227 238h11v1h-11zM239 238h3v1h-3zM15 239h1v1h-1zM55 239h1v1h-1zM77 239h10v1h-10zM88 239h11v1h-11zM114 239h1v1h-1zM119 239h1v1h-1zM123 239h2v1h-2zM143 239h1v1h-1zM158 239h1v1h-1zM172 239h1v1h-1zM178 239h1v1h-1zM182 239h1v1h-1zM185 239h2v1h-2zM190 239h1v1h-1zM197 239h1v1h-1zM215 239h1v1h-1zM219 239h2v1h-2zM223 239h2v1h-2zM226 239h1v1h-1zM228 239h5v1h-5zM234 239h1v1h-1zM238 239h1v1h-1zM240 239h2v1h-2zM9 240h1v1h-1zM73 240h1v1h-1zM77 240h10v1h-10zM88 240h7v1h-7zM96 240h1v1h-1zM122 240h1v1h-1zM136 240h1v1h-1zM138 240h1v1h-1zM140 240h1v1h-1zM143 240h1v1h-1zM165 240h1v1h-1zM174 240h1v1h-1zM191 240h1v1h-1zM196 240h1v1h-1zM210 240h1v1h-1zM218 240h22v1h-22zM241 240h1v1h-1zM73 241h1v1h-1zM83 241h1v1h-1zM86 241h4v1h-4zM92 241h1v1h-1zM120 241h1v1h-1zM122 241h1v1h-1zM125 241h1v1h-1zM127 241h1v1h-1zM129 241h1v1h-1zM139 241h1v1h-1zM170 241h1v1h-1zM182 241h1v1h-1zM209 241h1v1h-1zM219 241h3v1h-3zM223 241h18v1h-18z"/>
<path fill="#00f" d="M6 0h1v1h-1zM19 0h1v1h-1zM8 1h1v1h-1zM13 1h1v1h-1zM16 1h1v1h-1zM13 2h1v1h-1zM17 2h1v1h-1zM23 2h1v1h-1zM44 2h1v1h-1zM65 2h1v1h-1zM11 3h1v1h-1zM15 3h1v1h-1zM20 3h1v1h-1zM25 3h1v1h-1zM45 3h1v1h-1zM5 4h1v1h-1zM13 4h1v1h-1zM15 4h1v1h-1zM21 4h1v1h-1zM31 4h1v1h-1zM75 4h1v1h-1zM4 5h1v1h-1zM16 5h1v1h-1zM0 6h1v1h-1zM20 6h1v1h-1zM36 6h1v1h-1zM41 6h1v1h-1zM115 6h1v1h-1zM167 6h1v1h-1zM15 7h3v1h-3zM38 7h1v1h-1zM41 7h1v1h-1zM168 7h1v1h-1zM1 8h1v1h-1zM11 8h1v1h-1zM13 8h1v1h-1zM17 8h2v1h-2zM20 8h1v1h-1zM12 9h2v1h-2zM15 9h1v1h-1zM23 9h1v1h-1zM34 9h1v1h-1zM240 9h1v1h-1zM13 10h1v1h-1zM20 10h1v1h-1zM23 10h1v1h-1zM29 10h1v1h-1zM38 10h1v1h-1zM60 10h1v1h-1zM3 11h1v1h-1zM8 11h1v1h-1zM13 11h1v1h-1zM18 11h2v1h-2zM40 11h1v1h-1zM147 11h1v1h-1zM158 11h1v1h-1zM9 12h1v1h-1zM13 12h1v1h-1zM19 12h1v1h-1zM40 12h1v1h-1zM1 13h2v1h-2zM4 13h1v1h-1zM8 13h5v1h-5zM16 13h1v1h-1zM20 13h1v1h-1zM23 13h1v1h-1zM36 13h1v1h-1zM41 13h1v1h-1zM51 13h1v1h-1zM57 13h1v1h-1zM145 13h1v1h-1zM148 13h1v1h-1zM20 14h1v1h-1zM3 15h2v1h-2zM7 15h1v1h-1zM9 15h1v1h-1zM16 15h1v1h-1zM239 15h1v1h-1zM1 16h1v1h-1zM5 16h1v1h-1zM7 16h1v1h-1zM13 16h1v1h-1zM15 16h1v1h-1zM36 16h1v1h-1zM60 16h1v1h-1zM163 16h1v1h-1zM2 17h1v1h-1zM7 17h2v1h-2zM23 17h1v1h-1zM31 17h1v1h-1zM154 17h1v1h-1zM8 18h1v1h-1zM11 18h1v1h-1zM19 18h1v1h-1zM22 18h1v1h-1zM77 18h1v1h-1zM0 19h1v1h-1zM11 19h2v1h-2zM18 19h1v1h-1zM20 19h1v1h-1zM3 20h1v1h-1zM6 20h1v1h-1zM8 20h1v1h-1zM10 20h1v1h-1zM13 20h2v1h-2zM19 20h1v1h-1zM75 20h1v1h-1zM4 21h1v1h-1zM43 21h1v1h-1zM18 22h1v1h-1zM30 22h1v1h-1zM2 23h1v1h-1zM9 23h2v1h-2zM13 23h1v1h-1zM17 23h1v1h-1zM165 23h1v1h-1zM25 24h1v1h-1zM27 24h1v1h-1zM29 24h2v1h-2zM33 24h1v1h-1zM42 24h1v1h-1zM44 24h1v1h-1zM48 24h1v1h-1zM3 25h1v1h-1zM24 25h1v1h-1zM26 25h1v1h-1zM32 25h1v1h-1zM36 25h1v1h-1zM152 25h1v1h-1zM186 25h1v1h-1zM25 26h1v1h-1zM32 26h2v1h-2zM48 26h1v1h-1zM163 26h1v1h-1zM24 27h1v1h-1zM33 27h1v1h-1zM36 27h1v1h-1zM39 27h1v1h-1zM43 27h2v1h-2zM32 28h1v1h-1zM77 28h1v1h-1zM10 29h1v1h-1zM24 29h1v1h-1zM31 29h3v1h-3zM45 29h1v1h-1zM22 30h1v1h-1zM24 30h1v1h-1zM32 30h1v1h-1zM38 30h1v1h-1zM165 30h1v1h-1zM4 31h1v1h-1zM17 31h1v1h-1zM29 31h1v1h-1zM34 31h1v1h-1zM36 31h1v1h-1zM151 31h1v1h-1zM25 32h2v1h-2zM28 32h3v1h-3zM33 32h1v1h-1zM44 32h2v1h-2zM24 33h1v1h-1zM26 33h2v1h-2zM29 33h1v1h-1zM32 33h1v1h-1zM152 33h1v1h-1zM9 34h1v1h-1zM31 34h1v1h-1zM38 34h2v1h-2zM106 34h1v1h-1zM38 35h2v1h-2zM45 35h1v1h-1zM70 35h1v1h-1zM6 36h1v1h-1zM13 36h1v1h-1zM16 36h1v1h-1zM25 36h1v1h-1zM27 36h1v1h-1zM31 36h1v1h-1zM38 36h1v1h-1zM44 36h2v1h-2zM51 36h1v1h-1zM56 36h1v1h-1zM41 37h2v1h-2zM58 37h1v1h-1zM61 37h1v1h-1zM63 37h1v1h-1zM88 37h1v1h-1zM153 37h1v1h-1zM7 38h1v1h-1zM10 38h1v1h-1zM30 38h1v1h-1zM34 38h3v1h-3zM42 38h1v1h-1zM45 38h2v1h-2zM48 38h1v1h-1zM149 38h1v1h-1zM27 39h1v1h-1zM34 39h2v1h-2zM44 39h2v1h-2zM11 40h2v1h-2zM41 40h1v1h-1zM45 40h1v1h-1zM6 41h2v1h-2zM13 41h1v1h-1zM37 41h1v1h-1zM40 41h1v1h-1zM53 41h1v1h-1zM70 41h1v1h-1zM155 41h1v1h-1zM24 42h1v1h-1zM37 42h2v1h-2zM43 42h1v1h-1zM199 42h1v1h-1zM21 43h1v1h-1zM27 43h1v1h-1zM42 43h1v1h-1zM45 43h1v1h-1zM2 44h1v1h-1zM24 44h1v1h-1zM27 44h1v1h-1zM32 44h1v1h-1zM36 44h1v1h-1zM39 44h1v1h-1zM66 44h1v1h-1zM3 45h1v1h-1zM29 45h1v1h-1zM32 45h1v1h-1zM35 45h2v1h-2zM38 45h3v1h-3zM43 45h1v1h-1zM38 46h1v1h-1zM48 46h3v1h-3zM59 46h1v1h-1zM61 46h2v1h-2zM65 46h1v1h-1zM53 47h1v1h-1zM62 47h2v1h-2zM24 48h1v1h-1zM26 48h1v1h-1zM38 48h1v1h-1zM46 48h1v1h-1zM51 48h1v1h-1zM57 48h1v1h-1zM102 48h1v1h-1zM115 48h1v1h-1zM120 48h1v1h-1zM150 48h1v1h-1zM164 48h1v1h-1zM46 49h1v1h-1zM51 49h2v1h-2zM56 49h1v1h-1zM61 49h2v1h-2zM64 49h1v1h-1zM118 49h1v1h-1zM195 49h1v1h-1zM46 50h1v1h-1zM53 50h1v1h-1zM55 50h1v1h-1zM57 50h1v1h-1zM97 50h1v1h-1zM102 50h1v1h-1zM115 50h1v1h-1zM155 50h1v1h-1zM13 51h1v1h-1zM36 51h1v1h-1zM48 51h2v1h-2zM56 51h1v1h-1zM61 51h1v1h-1zM114 51h1v1h-1zM49 52h1v1h-1zM55 52h1v1h-1zM57 52h2v1h-2zM168 52h1v1h-1zM41 53h1v1h-1zM47 53h1v1h-1zM50 53h1v1h-1zM56 53h2v1h-2zM61 53h2v1h-2zM83 53h1v1h-1zM110 53h1v1h-1zM61 54h2v1h-2zM64 54h3v1h-3zM144 54h1v1h-1zM154 54h1v1h-1zM50 55h1v1h-1zM52 55h1v1h-1zM56 55h1v1h-1zM59 55h1v1h-1zM239 55h1v1h-1zM36 56h1v1h-1zM49 56h1v1h-1zM51 56h1v1h-1zM53 56h1v1h-1zM55 56h1v1h-1zM57 56h2v1h-2zM62 56h1v1h-1zM94 56h1v1h-1zM116 56h1v1h-1zM148 56h1v1h-1zM13 57h1v1h-1zM48 57h1v1h-1zM50 57h1v1h-1zM52 57h2v1h-2zM56 57h1v1h-1zM62 57h4v1h-4zM115 57h1v1h-1zM165 57h1v1h-1zM37 58h1v1h-1zM52 58h1v1h-1zM56 58h1v1h-1zM62 58h1v1h-1zM107 58h1v1h-1zM165 58h1v1h-1zM46 59h1v1h-1zM55 59h1v1h-1zM10 60h1v1h-1zM16 60h1v1h-1zM63 60h1v1h-1zM88 60h1v1h-1zM163 60h1v1h-1zM37 61h1v1h-1zM46 61h1v1h-1zM49 61h1v1h-1zM51 61h1v1h-1zM53 61h2v1h-2zM66 61h1v1h-1zM84 61h1v1h-1zM158 61h1v1h-1zM170 61h1v1h-1zM46 62h2v1h-2zM49 62h1v1h-1zM53 62h2v1h-2zM56 62h3v1h-3zM64 62h1v1h-1zM66 62h1v1h-1zM99 62h1v1h-1zM110 62h1v1h-1zM120 62h1v1h-1zM148 62h1v1h-1zM168 62h1v1h-1zM37 63h1v1h-1zM47 63h1v1h-1zM57 63h1v1h-1zM60 63h1v1h-1zM65 63h2v1h-2zM120 63h1v1h-1zM49 64h1v1h-1zM54 64h1v1h-1zM57 64h1v1h-1zM62 64h1v1h-1zM166 64h1v1h-1zM2 65h1v1h-1zM46 65h1v1h-1zM54 65h1v1h-1zM57 65h1v1h-1zM63 65h1v1h-1zM78 65h1v1h-1zM145 65h1v1h-1zM153 65h1v1h-1zM44 66h1v1h-1zM54 66h1v1h-1zM61 66h3v1h-3zM102 66h1v1h-1zM108 66h1v1h-1zM159 66h1v1h-1zM172 66h1v1h-1zM192 66h1v1h-1zM106 67h1v1h-1zM193 68h1v1h-1zM35 70h1v1h-1zM41 70h1v1h-1zM91 71h1v1h-1zM151 72h1v1h-1zM157 72h1v1h-1zM237 73h1v1h-1zM4 75h1v1h-1zM20 75h1v1h-1zM139 76h1v1h-1zM141 76h1v1h-1zM143 76h2v1h-2zM18 77h1v1h-1zM28 77h1v1h-1zM78 77h2v1h-2zM82 77h2v1h-2zM87 77h1v1h-1zM90 77h1v1h-1zM94 77h1v1h-1zM130 77h1v1h-1zM227 77h1v1h-1zM65 78h1v1h-1zM77 78h1v1h-1zM82 78h2v1h-2zM93 78h1v1h-1zM98 78h1v1h-1zM238 78h3v1h-3zM77 79h1v1h-1zM83 79h1v1h-1zM86 79h2v1h-2zM90 79h1v1h-1zM94 79h1v1h-1zM97 79h2v1h-2zM140 79h1v1h-1zM191 79h1v1h-1zM231 79h1v1h-1zM238 79h2v1h-2zM81 80h1v1h-1zM84 80h2v1h-2zM87 80h1v1h-1zM89 80h1v1h-1zM91 80h2v1h-2zM96 80h1v1h-1zM123 80h1v1h-1zM126 80h1v1h-1zM173 80h1v1h-1zM184 80h1v1h-1zM186 80h1v1h-1zM218 80h1v1h-1zM224 80h1v1h-1zM240 80h1v1h-1zM80 81h1v1h-1zM86 81h2v1h-2zM92 81h1v1h-1zM95 81h1v1h-1zM97 81h2v1h-2zM223 81h1v1h-1zM77 82h2v1h-2zM83 82h1v1h-1zM85 82h1v1h-1zM87 82h1v1h-1zM90 82h2v1h-2zM93 82h3v1h-3zM97 82h1v1h-1zM234 82h1v1h-1zM53 83h1v1h-1zM77 83h3v1h-3zM82 83h1v1h-1zM86 83h2v1h-2zM90 83h1v1h-1zM92 83h1v1h-1zM94 83h2v1h-2zM97 83h2v1h-2zM224 83h1v1h-1zM227 83h1v1h-1zM233 83h1v1h-1zM240 83h1v1h-1zM61 84h1v1h-1zM80 84h1v1h-1zM89 84h1v1h-1zM92 84h2v1h-2zM95 84h2v1h-2zM228 84h1v1h-1zM239 84h2v1h-2zM80 85h1v1h-1zM82 85h1v1h-1zM91 85h1v1h-1zM93 85h2v1h-2zM98 85h1v1h-1zM222 85h1v1h-1zM225 85h1v1h-1zM232 85h1v1h-1zM79 86h1v1h-1zM81 86h1v1h-1zM83 86h1v1h-1zM93 86h2v1h-2zM97 86h2v1h-2zM124 86h1v1h-1zM137 86h1v1h-1zM236 86h1v1h-1zM77 87h1v1h-1zM79 87h5v1h-5zM88 87h1v1h-1zM90 87h1v1h-1zM92 87h1v1h-1zM95 87h1v1h-1zM175 87h1v1h-1zM37 88h1v1h-1zM60 88h1v1h-1zM87 88h1v1h-1zM91 88h2v1h-2zM94 88h1v1h-1zM97 88h1v1h-1zM185 88h1v1h-1zM210 88h1v1h-1zM220 88h1v1h-1zM227 88h1v1h-1zM234 88h1v1h-1zM80 89h1v1h-1zM84 89h1v1h-1zM92 89h2v1h-2zM98 89h1v1h-1zM226 89h1v1h-1zM228 89h4v1h-4zM237 89h1v1h-1zM77 90h1v1h-1zM79 90h1v1h-1zM82 90h2v1h-2zM87 90h1v1h-1zM96 90h1v1h-1zM130 90h1v1h-1zM173 90h1v1h-1zM230 90h1v1h-1zM71 91h1v1h-1zM80 91h1v1h-1zM82 91h1v1h-1zM85 91h1v1h-1zM88 91h1v1h-1zM94 91h1v1h-1zM96 91h1v1h-1zM213 91h1v1h-1zM224 91h2v1h-2zM229 91h1v1h-1zM80 92h2v1h-2zM83 92h2v1h-2zM87 92h3v1h-3zM93 92h2v1h-2zM97 92h1v1h-1zM106 92h1v1h-1zM78 93h1v1h-1zM82 93h1v1h-1zM84 93h3v1h-3zM89 93h1v1h-1zM92 93h1v1h-1zM187 93h1v1h-1zM220 93h1v1h-1zM240 93h1v1h-1zM56 94h1v1h-1zM77 94h1v1h-1zM79 94h1v1h-1zM82 94h2v1h-2zM85 94h2v1h-2zM88 94h1v1h-1zM91 94h2v1h-2zM98 94h2v1h-2zM208 94h1v1h-1zM234 94h1v1h-1zM81 95h4v1h-4zM87 95h1v1h-1zM98 95h2v1h-2zM177 95h1v1h-1zM196 95h1v1h-1zM228 95h1v1h-1zM233 95h1v1h-1zM80 96h1v1h-1zM84 96h1v1h-1zM90 96h2v1h-2zM219 96h1v1h-1zM225 96h1v1h-1zM231 96h1v1h-1zM234 96h1v1h-1zM50 97h1v1h-1zM79 97h1v1h-1zM81 97h3v1h-3zM86 97h1v1h-1zM88 97h1v1h-1zM92 97h1v1h-1zM120 97h1v1h-1zM230 97h2v1h-2zM234 97h1v1h-1zM78 98h2v1h-2zM81 98h1v1h-1zM83 98h1v1h-1zM85 98h2v1h-2zM89 98h1v1h-1zM94 98h2v1h-2zM235 98h1v1h-1zM238 98h1v1h-1zM62 99h1v1h-1zM94 99h2v1h-2zM108 99h1v1h-1zM116 99h1v1h-1zM163 99h1v1h-1zM102 100h1v1h-1zM48 102h1v1h-1zM50 102h1v1h-1zM66 102h1v1h-1zM100 102h1v1h-1zM105 102h1v1h-1zM116 102h1v1h-1zM118 102h1v1h-1zM147 102h1v1h-1zM163 102h1v1h-1zM187 102h1v1h-1zM116 103h1v1h-1zM230 103h1v1h-1zM102 105h1v1h-1zM120 105h1v1h-1zM34 106h1v1h-1zM67 106h1v1h-1zM92 106h1v1h-1zM58 107h1v1h-1zM66 108h1v1h-1zM99 108h1v1h-1zM111 108h1v1h-1zM116 108h1v1h-1zM162 108h2v1h-2zM165 108h1v1h-1zM117 109h1v1h-1zM53 110h1v1h-1zM62 110h1v1h-1zM108 111h1v1h-1zM119 112h1v1h-1zM116 113h2v1h-2zM51 114h1v1h-1zM239 114h1v1h-1zM6 115h1v1h-1zM48 115h1v1h-1zM50 115h1v1h-1zM57 115h1v1h-1zM116 115h1v1h-1zM164 115h1v1h-1zM56 116h1v1h-1zM99 116h1v1h-1zM102 116h2v1h-2zM108 116h1v1h-1zM113 116h1v1h-1zM115 116h1v1h-1zM117 116h1v1h-1zM166 116h1v1h-1zM109 117h1v1h-1zM113 117h1v1h-1zM116 117h1v1h-1zM139 117h1v1h-1zM49 118h1v1h-1zM102 118h1v1h-1zM112 119h1v1h-1zM177 119h1v1h-1zM184 119h1v1h-1zM48 120h1v1h-1zM62 120h2v1h-2zM97 120h1v1h-1zM105 120h1v1h-1zM127 122h1v1h-1zM140 122h1v1h-1zM173 122h1v1h-1zM177 122h1v1h-1zM179 122h1v1h-1zM193 122h1v1h-1zM207 122h1v1h-1zM209 122h1v1h-1zM224 122h1v1h-1zM227 122h1v1h-1zM80 123h1v1h-1zM127 123h1v1h-1zM132 123h1v1h-1zM134 123h4v1h-4zM159 123h1v1h-1zM172 123h3v1h-3zM178 123h1v1h-1zM185 123h1v1h-1zM196 123h1v1h-1zM215 123h1v1h-1zM217 123h1v1h-1zM239 123h1v1h-1zM86 124h1v1h-1zM139 124h2v1h-2zM143 124h2v1h-2zM163 124h1v1h-1zM166 124h1v1h-1zM173 124h1v1h-1zM188 124h1v1h-1zM204 124h1v1h-1zM224 124h1v1h-1zM135 125h1v1h-1zM139 125h1v1h-1zM166 125h1v1h-1zM170 125h1v1h-1zM172 125h2v1h-2zM176 125h3v1h-3zM183 125h1v1h-1zM185 125h1v1h-1zM194 125h1v1h-1zM206 125h1v1h-1zM215 125h1v1h-1zM217 125h2v1h-2zM225 125h1v1h-1zM228 125h1v1h-1zM233 125h1v1h-1zM238 125h1v1h-1zM241 125h1v1h-1zM80 126h1v1h-1zM128 126h1v1h-1zM134 126h1v1h-1zM139 126h1v1h-1zM186 126h1v1h-1zM205 126h1v1h-1zM215 126h1v1h-1zM234 126h1v1h-1zM122 127h2v1h-2zM130 127h3v1h-3zM136 127h1v1h-1zM140 127h2v1h-2zM178 127h1v1h-1zM184 127h1v1h-1zM190 127h1v1h-1zM126 128h1v1h-1zM132 128h1v1h-1zM139 128h1v1h-1zM142 128h2v1h-2zM156 128h1v1h-1zM170 128h1v1h-1zM173 128h1v1h-1zM194 128h1v1h-1zM199 128h1v1h-1zM218 128h1v1h-1zM133 129h2v1h-2zM138 129h1v1h-1zM141 129h1v1h-1zM143 129h1v1h-1zM161 129h1v1h-1zM163 129h1v1h-1zM172 129h1v1h-1zM174 129h1v1h-1zM185 129h1v1h-1zM194 129h1v1h-1zM216 129h1v1h-1zM237 129h1v1h-1zM77 130h1v1h-1zM90 130h1v1h-1zM127 130h1v1h-1zM132 130h1v1h-1zM141 130h1v1h-1zM161 130h1v1h-1zM184 130h1v1h-1zM214 130h1v1h-1zM218 130h1v1h-1zM127 131h1v1h-1zM141 131h1v1h-1zM143 131h1v1h-1zM178 131h1v1h-1zM181 131h1v1h-1zM184 131h1v1h-1zM123 132h1v1h-1zM127 132h2v1h-2zM130 132h1v1h-1zM135 132h2v1h-2zM207 132h1v1h-1zM210 132h1v1h-1zM129 133h1v1h-1zM134 133h1v1h-1zM164 133h1v1h-1zM185 133h1v1h-1zM204 133h1v1h-1zM233 133h1v1h-1zM123 134h1v1h-1zM126 134h1v1h-1zM129 134h1v1h-1zM133 134h1v1h-1zM137 134h1v1h-1zM140 134h1v1h-1zM178 134h1v1h-1zM184 134h1v1h-1zM205 134h1v1h-1zM216 134h1v1h-1zM220 134h1v1h-1zM123 135h1v1h-1zM125 135h1v1h-1zM132 135h1v1h-1zM136 135h2v1h-2zM139 135h1v1h-1zM188 135h1v1h-1zM217 135h1v1h-1zM224 135h1v1h-1zM123 136h1v1h-1zM127 136h1v1h-1zM132 136h1v1h-1zM135 136h1v1h-1zM140 136h1v1h-1zM158 136h1v1h-1zM174 136h1v1h-1zM177 136h1v1h-1zM209 136h1v1h-1zM240 136h1v1h-1zM86 137h1v1h-1zM123 137h1v1h-1zM134 137h2v1h-2zM138 137h2v1h-2zM141 137h1v1h-1zM178 137h1v1h-1zM187 137h1v1h-1zM129 138h1v1h-1zM137 138h1v1h-1zM186 138h1v1h-1zM76 139h1v1h-1zM117 139h1v1h-1zM124 139h3v1h-3zM128 139h1v1h-1zM135 139h1v1h-1zM137 139h1v1h-1zM206 139h1v1h-1zM241 139h1v1h-1zM79 140h1v1h-1zM122 140h1v1h-1zM124 140h1v1h-1zM127 140h1v1h-1zM134 140h1v1h-1zM136 140h1v1h-1zM141 140h1v1h-1zM143 140h2v1h-2zM161 140h1v1h-1zM193 140h1v1h-1zM195 140h1v1h-1zM201 140h1v1h-1zM205 140h1v1h-1zM207 140h1v1h-1zM240 140h1v1h-1zM76 141h1v1h-1zM127 141h1v1h-1zM129 141h3v1h-3zM137 141h1v1h-1zM140 141h1v1h-1zM174 141h1v1h-1zM202 141h1v1h-1zM222 141h1v1h-1zM128 142h1v1h-1zM144 142h2v1h-2zM175 142h2v1h-2zM178 142h1v1h-1zM184 142h1v1h-1zM188 142h1v1h-1zM195 142h1v1h-1zM204 142h1v1h-1zM211 142h1v1h-1zM223 142h1v1h-1zM76 143h1v1h-1zM124 143h1v1h-1zM128 143h2v1h-2zM131 143h1v1h-1zM140 143h1v1h-1zM173 143h1v1h-1zM186 143h1v1h-1zM196 143h1v1h-1zM239 143h1v1h-1zM54 144h1v1h-1zM76 144h1v1h-1zM124 144h1v1h-1zM140 144h1v1h-1zM142 144h1v1h-1zM210 144h1v1h-1zM215 144h1v1h-1zM13 145h1v1h-1zM65 145h1v1h-1zM142 145h1v1h-1zM148 145h1v1h-1zM150 145h3v1h-3zM155 145h5v1h-5zM161 145h3v1h-3zM165 145h2v1h-2zM168 145h2v1h-2zM147 146h1v1h-1zM149 146h2v1h-2zM152 146h1v1h-1zM165 146h2v1h-2zM168 146h1v1h-1zM210 146h1v1h-1zM11 147h1v1h-1zM102 147h1v1h-1zM146 147h1v1h-1zM149 147h1v1h-1zM163 147h1v1h-1zM165 147h1v1h-1zM167 147h2v1h-2zM196 147h1v1h-1zM13 148h1v1h-1zM56 148h1v1h-1zM62 148h1v1h-1zM145 148h1v1h-1zM153 148h1v1h-1zM158 148h1v1h-1zM161 148h3v1h-3zM168 148h1v1h-1zM207 148h1v1h-1zM214 148h1v1h-1zM216 148h1v1h-1zM218 148h1v1h-1zM38 149h1v1h-1zM146 149h2v1h-2zM158 149h1v1h-1zM160 149h1v1h-1zM163 149h3v1h-3zM168 149h2v1h-2zM48 150h1v1h-1zM145 150h2v1h-2zM151 150h1v1h-1zM153 150h1v1h-1zM155 150h1v1h-1zM157 150h1v1h-1zM160 150h2v1h-2zM163 150h1v1h-1zM168 150h2v1h-2zM206 150h1v1h-1zM31 151h1v1h-1zM72 151h1v1h-1zM145 151h1v1h-1zM150 151h1v1h-1zM157 151h1v1h-1zM164 151h1v1h-1zM167 151h2v1h-2zM199 151h1v1h-1zM25 152h1v1h-1zM33 152h1v1h-1zM145 152h2v1h-2zM153 152h1v1h-1zM157 152h1v1h-1zM159 152h3v1h-3zM164 152h3v1h-3zM213 152h1v1h-1zM37 153h1v1h-1zM65 153h1v1h-1zM148 153h1v1h-1zM150 153h1v1h-1zM152 153h1v1h-1zM155 153h1v1h-1zM161 153h1v1h-1zM163 153h4v1h-4zM17 154h1v1h-1zM54 154h1v1h-1zM157 154h2v1h-2zM160 154h3v1h-3zM167 154h3v1h-3zM197 154h1v1h-1zM200 154h1v1h-1zM210 154h1v1h-1zM216 154h1v1h-1zM227 154h1v1h-1zM41 155h1v1h-1zM50 155h1v1h-1zM145 155h1v1h-1zM150 155h1v1h-1zM153 155h1v1h-1zM163 155h1v1h-1zM202 155h1v1h-1zM128 156h1v1h-1zM145 156h1v1h-1zM157 156h2v1h-2zM160 156h1v1h-1zM162 156h1v1h-1zM166 156h2v1h-2zM169 156h1v1h-1zM213 156h1v1h-1zM72 157h1v1h-1zM145 157h1v1h-1zM150 157h3v1h-3zM154 157h1v1h-1zM156 157h1v1h-1zM159 157h1v1h-1zM161 157h3v1h-3zM165 157h1v1h-1zM11 158h1v1h-1zM61 158h1v1h-1zM136 158h1v1h-1zM145 158h1v1h-1zM148 158h2v1h-2zM154 158h1v1h-1zM156 158h1v1h-1zM159 158h3v1h-3zM163 158h2v1h-2zM199 158h2v1h-2zM215 158h3v1h-3zM239 158h1v1h-1zM66 159h1v1h-1zM123 159h1v1h-1zM145 159h1v1h-1zM152 159h1v1h-1zM157 159h2v1h-2zM160 159h2v1h-2zM163 159h1v1h-1zM165 159h1v1h-1zM167 159h2v1h-2zM176 159h1v1h-1zM197 159h1v1h-1zM149 160h2v1h-2zM152 160h1v1h-1zM154 160h1v1h-1zM156 160h1v1h-1zM158 160h2v1h-2zM162 160h1v1h-1zM164 160h3v1h-3zM168 160h2v1h-2zM206 160h1v1h-1zM210 160h1v1h-1zM129 161h2v1h-2zM140 161h1v1h-1zM145 161h1v1h-1zM148 161h1v1h-1zM150 161h1v1h-1zM152 161h3v1h-3zM157 161h3v1h-3zM166 161h2v1h-2zM178 161h1v1h-1zM207 161h1v1h-1zM108 162h1v1h-1zM145 162h1v1h-1zM148 162h1v1h-1zM154 162h1v1h-1zM156 162h2v1h-2zM160 162h1v1h-1zM166 162h1v1h-1zM16 163h1v1h-1zM26 163h1v1h-1zM60 163h1v1h-1zM99 163h1v1h-1zM102 163h1v1h-1zM108 163h1v1h-1zM124 163h1v1h-1zM129 163h1v1h-1zM145 163h1v1h-1zM147 163h4v1h-4zM153 163h1v1h-1zM155 163h1v1h-1zM157 163h3v1h-3zM165 163h1v1h-1zM167 163h1v1h-1zM169 163h1v1h-1zM198 163h1v1h-1zM204 163h1v1h-1zM214 163h1v1h-1zM48 164h1v1h-1zM115 164h1v1h-1zM133 164h1v1h-1zM149 164h1v1h-1zM151 164h3v1h-3zM158 164h1v1h-1zM160 164h1v1h-1zM169 164h1v1h-1zM213 164h1v1h-1zM23 165h1v1h-1zM30 165h1v1h-1zM57 165h2v1h-2zM108 165h1v1h-1zM145 165h3v1h-3zM149 165h1v1h-1zM152 165h2v1h-2zM157 165h1v1h-1zM159 165h2v1h-2zM163 165h1v1h-1zM168 165h2v1h-2zM200 165h1v1h-1zM202 165h1v1h-1zM204 165h1v1h-1zM207 165h1v1h-1zM240 165h1v1h-1zM64 166h1v1h-1zM116 166h1v1h-1zM124 166h2v1h-2zM145 166h2v1h-2zM152 166h2v1h-2zM156 166h1v1h-1zM160 166h3v1h-3zM167 166h1v1h-1zM169 166h1v1h-1zM202 166h1v1h-1zM211 166h1v1h-1zM217 166h1v1h-1zM6 167h1v1h-1zM147 167h1v1h-1zM151 167h1v1h-1zM154 167h1v1h-1zM156 167h1v1h-1zM159 167h1v1h-1zM161 167h1v1h-1zM163 167h1v1h-1zM166 167h1v1h-1zM168 167h1v1h-1zM7 168h1v1h-1zM52 168h1v1h-1zM62 168h1v1h-1zM145 168h7v1h-7zM154 168h1v1h-1zM159 168h2v1h-2zM165 168h1v1h-1zM167 168h1v1h-1zM215 168h1v1h-1zM218 168h1v1h-1zM145 169h1v1h-1zM149 169h2v1h-2zM154 169h1v1h-1zM156 169h1v1h-1zM160 169h1v1h-1zM163 169h4v1h-4zM61 170h1v1h-1zM125 170h1v1h-1zM128 170h1v1h-1zM182 170h1v1h-1zM210 171h1v1h-1zM66 172h1v1h-1zM123 172h1v1h-1zM125 172h1v1h-1zM129 172h1v1h-1zM176 172h1v1h-1zM179 172h1v1h-1zM80 173h1v1h-1zM90 173h1v1h-1zM122 173h4v1h-4zM128 173h1v1h-1zM143 173h1v1h-1zM179 173h1v1h-1zM194 173h1v1h-1zM215 173h1v1h-1zM123 174h1v1h-1zM129 174h1v1h-1zM136 174h1v1h-1zM141 174h1v1h-1zM180 174h1v1h-1zM190 174h1v1h-1zM193 174h1v1h-1zM195 174h2v1h-2zM207 174h1v1h-1zM209 174h1v1h-1zM232 174h1v1h-1zM240 174h1v1h-1zM87 175h1v1h-1zM142 175h1v1h-1zM180 175h1v1h-1zM191 175h1v1h-1zM210 175h1v1h-1zM125 176h1v1h-1zM142 176h1v1h-1zM159 176h1v1h-1zM172 176h1v1h-1zM187 176h1v1h-1zM192 176h1v1h-1zM222 176h1v1h-1zM95 177h1v1h-1zM119 177h1v1h-1zM122 177h1v1h-1zM125 177h1v1h-1zM136 177h1v1h-1zM182 177h1v1h-1zM187 177h1v1h-1zM193 177h2v1h-2zM213 177h1v1h-1zM216 177h1v1h-1zM123 178h1v1h-1zM125 178h1v1h-1zM127 178h1v1h-1zM131 178h1v1h-1zM134 178h1v1h-1zM137 178h1v1h-1zM142 178h1v1h-1zM161 178h1v1h-1zM179 178h1v1h-1zM182 178h1v1h-1zM184 178h1v1h-1zM188 178h1v1h-1zM193 178h3v1h-3zM199 178h1v1h-1zM234 178h1v1h-1zM239 178h1v1h-1zM122 179h1v1h-1zM172 179h2v1h-2zM178 179h1v1h-1zM180 179h1v1h-1zM189 179h2v1h-2zM174 180h2v1h-2zM179 180h1v1h-1zM182 180h1v1h-1zM188 180h1v1h-1zM191 180h1v1h-1zM194 180h1v1h-1zM131 181h1v1h-1zM186 181h4v1h-4zM170 182h1v1h-1zM177 182h2v1h-2zM180 182h1v1h-1zM184 182h2v1h-2zM194 182h2v1h-2zM239 182h1v1h-1zM125 183h1v1h-1zM197 183h1v1h-1zM80 184h1v1h-1zM119 184h1v1h-1zM127 184h1v1h-1zM130 184h2v1h-2zM134 184h1v1h-1zM142 184h1v1h-1zM178 184h1v1h-1zM182 184h1v1h-1zM233 184h1v1h-1zM88 185h1v1h-1zM123 185h1v1h-1zM125 185h1v1h-1zM129 185h1v1h-1zM133 185h1v1h-1zM182 185h1v1h-1zM186 185h2v1h-2zM25 186h1v1h-1zM80 186h1v1h-1zM126 186h1v1h-1zM138 186h1v1h-1zM143 186h1v1h-1zM181 186h1v1h-1zM185 186h1v1h-1zM191 186h1v1h-1zM215 186h1v1h-1zM231 186h1v1h-1zM93 187h1v1h-1zM102 187h1v1h-1zM137 187h1v1h-1zM176 187h2v1h-2zM181 187h1v1h-1zM185 187h1v1h-1zM124 188h1v1h-1zM135 188h1v1h-1zM142 188h1v1h-1zM178 188h1v1h-1zM180 188h2v1h-2zM179 189h1v1h-1zM181 189h1v1h-1zM231 189h1v1h-1zM127 190h1v1h-1zM174 190h1v1h-1zM179 190h1v1h-1zM192 190h2v1h-2zM217 190h1v1h-1zM239 190h1v1h-1zM79 191h1v1h-1zM175 191h1v1h-1zM180 191h1v1h-1zM186 191h1v1h-1zM192 191h1v1h-1zM240 191h1v1h-1zM66 192h1v1h-1zM176 192h1v1h-1zM190 192h2v1h-2zM194 192h1v1h-1zM68 193h1v1h-1zM122 193h1v1h-1zM140 193h1v1h-1zM174 193h1v1h-1zM177 193h2v1h-2zM190 193h1v1h-1zM208 193h1v1h-1zM222 193h1v1h-1zM125 194h1v1h-1zM128 194h2v1h-2zM173 194h1v1h-1zM177 194h2v1h-2zM180 194h1v1h-1zM182 194h1v1h-1zM192 194h1v1h-1zM215 194h1v1h-1zM234 194h1v1h-1zM49 195h1v1h-1zM140 195h1v1h-1zM142 195h1v1h-1zM174 195h1v1h-1zM178 195h1v1h-1zM182 195h1v1h-1zM196 195h1v1h-1zM220 195h1v1h-1zM95 196h1v1h-1zM123 196h1v1h-1zM143 196h1v1h-1zM147 196h1v1h-1zM174 196h1v1h-1zM195 196h1v1h-1zM210 196h2v1h-2zM226 196h1v1h-1zM154 197h1v1h-1zM159 197h1v1h-1zM183 197h1v1h-1zM203 197h1v1h-1zM163 198h1v1h-1zM200 198h1v1h-1zM217 198h1v1h-1zM235 198h1v1h-1zM42 199h1v1h-1zM128 199h1v1h-1zM151 199h1v1h-1zM158 199h1v1h-1zM178 199h1v1h-1zM154 200h1v1h-1zM158 200h1v1h-1zM165 200h1v1h-1zM198 200h1v1h-1zM140 201h1v1h-1zM206 201h1v1h-1zM216 201h1v1h-1zM141 202h1v1h-1zM155 202h1v1h-1zM165 202h2v1h-2zM207 202h2v1h-2zM238 202h1v1h-1zM197 203h1v1h-1zM124 204h1v1h-1zM133 204h1v1h-1zM142 204h1v1h-1zM163 204h1v1h-1zM165 204h1v1h-1zM126 205h1v1h-1zM134 205h1v1h-1zM140 205h1v1h-1zM208 205h1v1h-1zM125 206h1v1h-1zM139 206h1v1h-1zM150 206h1v1h-1zM160 206h1v1h-1zM201 206h1v1h-1zM122 207h1v1h-1zM132 207h1v1h-1zM140 207h1v1h-1zM148 207h1v1h-1zM161 207h1v1h-1zM165 207h1v1h-1zM174 207h1v1h-1zM202 207h1v1h-1zM94 208h1v1h-1zM193 208h1v1h-1zM202 208h1v1h-1zM205 208h1v1h-1zM227 208h1v1h-1zM122 209h1v1h-1zM136 209h1v1h-1zM174 209h1v1h-1zM88 210h1v1h-1zM132 210h1v1h-1zM144 210h1v1h-1zM146 210h1v1h-1zM154 210h1v1h-1zM160 210h1v1h-1zM171 210h1v1h-1zM175 210h1v1h-1zM196 210h1v1h-1zM231 210h1v1h-1zM240 210h1v1h-1zM142 211h1v1h-1zM166 211h1v1h-1zM196 211h1v1h-1zM91 213h1v1h-1zM152 213h1v1h-1zM156 213h1v1h-1zM164 213h1v1h-1zM177 213h1v1h-1zM237 213h1v1h-1zM130 214h1v1h-1zM148 214h1v1h-1zM163 214h1v1h-1zM123 215h1v1h-1zM125 215h2v1h-2zM144 215h1v1h-1zM158 215h1v1h-1zM168 215h1v1h-1zM173 215h1v1h-1zM186 215h1v1h-1zM194 215h1v1h-1zM230 215h1v1h-1zM129 216h1v1h-1zM134 216h1v1h-1zM148 216h1v1h-1zM154 216h1v1h-1zM158 216h1v1h-1zM177 216h1v1h-1zM201 216h1v1h-1zM123 217h1v1h-1zM125 217h1v1h-1zM135 217h1v1h-1zM158 217h1v1h-1zM166 217h1v1h-1zM190 217h1v1h-1zM198 217h1v1h-1zM234 217h1v1h-1zM80 218h1v1h-1zM125 218h1v1h-1zM128 218h1v1h-1zM130 218h1v1h-1zM148 218h1v1h-1zM168 218h1v1h-1zM240 218h1v1h-1zM96 219h1v1h-1zM224 219h1v1h-1zM229 219h1v1h-1zM232 219h1v1h-1zM234 219h1v1h-1zM88 220h1v1h-1zM93 220h1v1h-1zM134 220h1v1h-1zM195 220h1v1h-1zM223 220h1v1h-1zM226 220h1v1h-1zM230 220h1v1h-1zM234 220h1v1h-1zM239 220h1v1h-1zM225 221h1v1h-1zM229 221h2v1h-2zM85 222h1v1h-1zM141 222h1v1h-1zM176 222h1v1h-1zM193 222h1v1h-1zM226 222h3v1h-3zM81 223h1v1h-1zM142 223h1v1h-1zM220 223h1v1h-1zM230 223h1v1h-1zM80 224h1v1h-1zM83 224h1v1h-1zM91 224h1v1h-1zM122 224h1v1h-1zM124 224h1v1h-1zM135 224h1v1h-1zM219 224h1v1h-1zM234 224h2v1h-2zM237 224h1v1h-1zM239 224h1v1h-1zM85 225h1v1h-1zM91 225h1v1h-1zM96 225h1v1h-1zM125 225h1v1h-1zM221 225h1v1h-1zM227 225h2v1h-2zM241 225h1v1h-1zM89 226h1v1h-1zM196 226h1v1h-1zM220 226h1v1h-1zM222 226h1v1h-1zM227 226h1v1h-1zM240 226h1v1h-1zM77 227h1v1h-1zM83 227h1v1h-1zM88 227h1v1h-1zM122 227h1v1h-1zM154 227h1v1h-1zM208 227h1v1h-1zM222 227h1v1h-1zM225 227h2v1h-2zM233 227h1v1h-1zM240 227h2v1h-2zM84 228h1v1h-1zM89 228h1v1h-1zM95 228h1v1h-1zM125 228h1v1h-1zM222 228h1v1h-1zM225 228h1v1h-1zM89 229h1v1h-1zM91 229h1v1h-1zM219 229h1v1h-1zM221 229h1v1h-1zM230 229h1v1h-1zM232 229h2v1h-2zM89 230h2v1h-2zM97 230h1v1h-1zM103 230h1v1h-1zM215 230h1v1h-1zM220 230h2v1h-2zM223 230h1v1h-1zM229 230h1v1h-1zM234 230h1v1h-1zM79 231h1v1h-1zM89 231h1v1h-1zM96 231h2v1h-2zM186 231h1v1h-1zM189 231h1v1h-1zM210 231h1v1h-1zM239 231h1v1h-1zM85 232h1v1h-1zM174 232h1v1h-1zM219 232h1v1h-1zM229 232h1v1h-1zM236 232h1v1h-1zM83 233h1v1h-1zM95 233h1v1h-1zM125 233h1v1h-1zM133 233h1v1h-1zM184 233h1v1h-1zM227 233h1v1h-1zM229 233h1v1h-1zM236 233h1v1h-1zM82 234h1v1h-1zM88 234h1v1h-1zM94 234h1v1h-1zM96 234h2v1h-2zM126 234h1v1h-1zM178 234h1v1h-1zM194 234h1v1h-1zM217 234h1v1h-1zM219 234h2v1h-2zM224 234h1v1h-1zM230 234h1v1h-1zM239 234h1v1h-1zM241 234h1v1h-1zM98 235h1v1h-1zM198 235h1v1h-1zM224 235h1v1h-1zM86 236h1v1h-1zM232 236h2v1h-2zM238 236h1v1h-1zM240 236h2v1h-2zM73 237h1v1h-1zM89 237h1v1h-1zM129 237h1v1h-1zM213 237h1v1h-1zM224 237h1v1h-1zM241 237h1v1h-1zM78 238h2v1h-2zM98 238h1v1h-1zM125 238h1v1h-1zM202 238h1v1h-1zM236 238h1v1h-1zM241 238h1v1h-1zM15 239h1v1h-1zM55 239h1v1h-1zM78 239h2v1h-2zM84 239h1v1h-1zM114 239h1v1h-1zM123 239h1v1h-1zM143 239h1v1h-1zM158 239h1v1h-1zM178 239h1v1h-1zM182 239h1v1h-1zM190 239h1v1h-1zM220 239h1v1h-1zM224 239h1v1h-1zM231 239h1v1h-1zM234 239h1v1h-1zM9 240h1v1h-1zM78 240h1v1h-1zM80 240h1v1h-1zM83 240h2v1h-2zM93 240h1v1h-1zM136 240h1v1h-1zM140 240h1v1h-1zM165 240h1v1h-1zM174 240h1v1h-1zM191 240h1v1h-1zM210 240h1v1h-1zM218 240h1v1h-1zM226 240h2v1h-2zM236 240h1v1h-1zM125 241h1v1h-1zM139 241h1v1h-1zM225 241h1v1h-1zM227 241h1v1h-1zM234 241h1v1h-1zM236 241h3v1h-3z"/>
</g>
<g transform="translate(913.70 668.50) scale(1.4296)">
<path fill="#000" d="M72 0h2v1h-2zM76 0h1v1h-1zM94 0h1v1h-1zM129 0h1v1h-1zM291 0h1v1h-1zM340 0h1v1h-1zM76 1h1v1h-1zM78 1h1v1h-1zM82 1h1v1h-1zM91 1h1v1h-1zM99 1h1v1h-1zM161 1h1v1h-1zM166 1h1v1h-1zM170 1h1v1h-1zM244 1h1v1h-1zM250 1h1v1h-1zM320 1h1v1h-1zM28 2h1v1h-1zM15 3h1v1h-1zM146 3h1v1h-1zM151 3h1v1h-1zM183 3h1v1h-1zM258 3h1v1h-1zM362 3h1v1h-1zM52 4h1v1h-1zM70 4h1v1h-1zM143 4h1v1h-1zM147 4h1v1h-1zM57 5h1v1h-1zM91 5h1v1h-1zM94 5h1v1h-1zM130 5h1v1h-1zM246 5h1v1h-1zM141 6h1v1h-1zM201 6h1v1h-1zM273 6h1v1h-1zM291 6h1v1h-1zM159 8h1v1h-1zM270 8h1v1h-1zM354 8h1v1h-1zM108 9h1v1h-1zM129 9h1v1h-1zM364 9h1v1h-1zM121 10h1v1h-1zM358 11h1v1h-1zM207 12h1v1h-1zM130 14h1v1h-1zM246 14h1v1h-1zM3 15h1v1h-1zM19 15h1v1h-1zM30 15h1v1h-1zM304 15h1v1h-1zM358 15h1v1h-1zM362 15h1v1h-1zM34 16h1v1h-1zM50 16h1v1h-1zM85 16h1v1h-1zM129 16h1v1h-1zM184 16h1v1h-1zM235 16h1v1h-1zM305 16h1v1h-1zM344 16h1v1h-1zM364 16h1v1h-1zM103 17h1v1h-1zM235 17h1v1h-1zM58 18h1v1h-1zM73 18h1v1h-1zM130 18h1v1h-1zM150 18h1v1h-1zM338 18h1v1h-1zM15 19h1v1h-1zM37 19h2v1h-2zM50 19h1v1h-1zM60 19h1v1h-1zM70 19h1v1h-1zM80 19h1v1h-1zM85 19h1v1h-1zM94 19h1v1h-1zM103 19h1v1h-1zM105 19h1v1h-1zM116 19h1v1h-1zM154 19h1v1h-1zM160 19h2v1h-2zM181 19h1v1h-1zM219 19h1v1h-1zM224 19h1v1h-1zM238 19h1v1h-1zM240 19h1v1h-1zM258 19h1v1h-1zM301 19h1v1h-1zM315 19h1v1h-1zM320 19h1v1h-1zM344 19h1v1h-1zM362 19h1v1h-1zM364 19h1v1h-1zM371 19h1v1h-1zM373 19h1v1h-1zM30 20h1v1h-1zM375 20h1v1h-1zM47 21h1v1h-1zM72 21h1v1h-1zM188 21h1v1h-1zM363 21h1v1h-1zM373 22h1v1h-1zM84 23h1v1h-1zM105 24h1v1h-1zM230 24h1v1h-1zM57 25h1v1h-1zM78 25h1v1h-1zM201 25h1v1h-1zM40 26h1v1h-1zM81 26h1v1h-1zM234 26h1v1h-1zM375 26h1v1h-1zM30 27h1v1h-1zM32 27h1v1h-1zM34 27h1v1h-1zM50 27h1v1h-1zM71 27h1v1h-1zM76 27h1v1h-1zM85 27h1v1h-1zM94 27h1v1h-1zM122 27h1v1h-1zM150 27h1v1h-1zM156 27h1v1h-1zM174 27h1v1h-1zM224 27h1v1h-1zM247 27h1v1h-1zM284 27h1v1h-1zM294 27h1v1h-1zM320 27h1v1h-1zM329 27h1v1h-1zM348 27h1v1h-1zM370 27h1v1h-1zM373 27h1v1h-1zM390 27h1v1h-1zM2 28h1v1h-1zM70 28h1v1h-1zM116 28h1v1h-1zM148 28h1v1h-1zM153 28h1v1h-1zM174 28h1v1h-1zM235 28h1v1h-1zM258 28h1v1h-1zM310 28h1v1h-1zM312 28h1v1h-1zM376 28h1v1h-1zM119 29h1v1h-1zM15 30h1v1h-1zM20 30h1v1h-1zM27 30h1v1h-1zM62 30h1v1h-1zM70 30h1v1h-1zM103 30h1v1h-1zM120 30h1v1h-1zM156 30h1v1h-1zM162 30h1v1h-1zM188 30h1v1h-1zM293 30h1v1h-1zM369 30h1v1h-1zM36 31h1v1h-1zM63 31h1v1h-1zM69 31h1v1h-1zM150 31h1v1h-1zM265 31h1v1h-1zM369 31h1v1h-1zM27 32h1v1h-1zM62 32h1v1h-1zM80 32h1v1h-1zM162 32h1v1h-1zM172 32h1v1h-1zM185 33h1v1h-1zM190 33h1v1h-1zM211 33h1v1h-1zM235 33h1v1h-1zM16 34h1v1h-1zM27 34h1v1h-1zM55 34h1v1h-1zM64 34h1v1h-1zM94 34h1v1h-1zM100 34h1v1h-1zM122 34h1v1h-1zM150 34h1v1h-1zM220 34h1v1h-1zM320 34h1v1h-1zM373 34h1v1h-1zM129 35h1v1h-1zM186 35h1v1h-1zM207 35h1v1h-1zM214 35h1v1h-1zM237 35h1v1h-1zM258 35h1v1h-1zM31 36h1v1h-1zM37 36h1v1h-1zM59 36h1v1h-1zM72 36h1v1h-1zM75 36h1v1h-1zM92 36h1v1h-1zM105 36h1v1h-1zM124 36h1v1h-1zM141 36h1v1h-1zM149 36h1v1h-1zM224 36h1v1h-1zM250 36h1v1h-1zM284 36h1v1h-1zM351 36h1v1h-1zM19 37h1v1h-1zM36 37h1v1h-1zM39 37h1v1h-1zM145 37h1v1h-1zM150 37h1v1h-1zM190 37h1v1h-1zM203 37h1v1h-1zM247 37h1v1h-1zM261 37h1v1h-1zM282 37h1v1h-1zM311 37h1v1h-1zM388 37h1v1h-1zM19 38h1v1h-1zM214 38h1v1h-1zM37 39h1v1h-1zM60 39h1v1h-1zM71 39h1v1h-1zM78 39h1v1h-1zM108 39h1v1h-1zM141 39h2v1h-2zM150 39h1v1h-1zM157 39h1v1h-1zM163 39h1v1h-1zM185 39h1v1h-1zM202 39h2v1h-2zM230 39h1v1h-1zM232 39h1v1h-1zM246 39h1v1h-1zM255 39h1v1h-1zM257 39h1v1h-1zM311 39h1v1h-1zM344 39h1v1h-1zM382 39h1v1h-1zM26 40h1v1h-1zM165 40h1v1h-1zM370 40h1v1h-1zM250 41h1v1h-1zM313 42h1v1h-1zM257 44h1v1h-1zM311 44h1v1h-1zM73 45h1v1h-1zM113 45h1v1h-1zM309 46h1v1h-1zM21 47h1v1h-1zM50 47h1v1h-1zM60 47h1v1h-1zM67 47h2v1h-2zM156 47h1v1h-1zM327 47h1v1h-1zM120 48h1v1h-1zM203 48h1v1h-1zM303 48h1v1h-1zM390 48h1v1h-1zM61 49h1v1h-1zM73 49h1v1h-1zM129 49h1v1h-1zM172 49h1v1h-1zM244 49h1v1h-1zM337 49h1v1h-1zM16 50h1v1h-1zM19 50h1v1h-1zM27 50h1v1h-1zM47 50h1v1h-1zM55 50h1v1h-1zM78 50h1v1h-1zM92 50h2v1h-2zM143 50h1v1h-1zM170 50h1v1h-1zM176 50h1v1h-1zM182 50h1v1h-1zM186 50h1v1h-1zM188 50h1v1h-1zM192 50h1v1h-1zM211 50h1v1h-1zM224 50h1v1h-1zM230 50h1v1h-1zM240 50h1v1h-1zM256 50h1v1h-1zM274 50h1v1h-1zM321 50h1v1h-1zM344 50h1v1h-1zM362 50h1v1h-1zM365 50h1v1h-1zM99 51h1v1h-1zM167 51h1v1h-1zM224 51h1v1h-1zM239 51h1v1h-1zM311 51h1v1h-1zM318 51h1v1h-1zM4 52h1v1h-1zM180 52h1v1h-1zM237 52h1v1h-1zM365 52h1v1h-1zM81 53h1v1h-1zM214 53h1v1h-1zM315 53h1v1h-1zM323 53h1v1h-1zM89 54h1v1h-1zM320 54h1v1h-1zM34 55h1v1h-1zM50 55h1v1h-1zM78 55h1v1h-1zM123 55h1v1h-1zM126 55h1v1h-1zM132 55h1v1h-1zM234 55h1v1h-1zM291 55h1v1h-1zM315 55h1v1h-1zM368 55h1v1h-1zM5 57h1v1h-1zM25 57h1v1h-1zM78 57h1v1h-1zM85 57h1v1h-1zM103 57h1v1h-1zM179 57h1v1h-1zM224 57h1v1h-1zM320 57h1v1h-1zM18 58h1v1h-1zM101 58h1v1h-1zM36 59h1v1h-1zM70 59h1v1h-1zM94 59h1v1h-1zM109 59h1v1h-1zM129 59h2v1h-2zM273 59h1v1h-1zM305 59h1v1h-1zM382 59h1v1h-1zM19 60h1v1h-1zM39 60h1v1h-1zM47 60h1v1h-1zM85 60h1v1h-1zM105 60h1v1h-1zM143 60h1v1h-1zM150 60h1v1h-1zM156 60h1v1h-1zM185 60h1v1h-1zM359 60h1v1h-1zM49 61h1v1h-1zM100 61h1v1h-1zM264 61h1v1h-1zM376 61h1v1h-1zM30 62h1v1h-1zM32 62h1v1h-1zM64 62h1v1h-1zM91 62h1v1h-1zM105 62h1v1h-1zM116 62h1v1h-1zM158 62h1v1h-1zM172 62h1v1h-1zM219 62h1v1h-1zM308 62h1v1h-1zM318 62h1v1h-1zM326 62h1v1h-1zM390 62h1v1h-1zM31 63h1v1h-1zM166 63h1v1h-1zM240 63h1v1h-1zM290 63h1v1h-1zM382 63h1v1h-1zM34 64h1v1h-1zM62 64h1v1h-1zM111 64h1v1h-1zM187 64h1v1h-1zM224 64h1v1h-1zM293 64h1v1h-1zM105 65h1v1h-1zM305 65h1v1h-1zM68 66h1v1h-1zM81 66h1v1h-1zM154 66h1v1h-1zM177 66h1v1h-1zM305 66h1v1h-1zM47 67h1v1h-1zM265 67h1v1h-1zM277 67h1v1h-1zM369 67h1v1h-1zM47 68h1v1h-1zM66 68h1v1h-1zM75 68h1v1h-1zM78 68h1v1h-1zM94 68h1v1h-1zM104 68h1v1h-1zM120 68h1v1h-1zM122 68h1v1h-1zM129 68h1v1h-1zM141 68h1v1h-1zM143 68h1v1h-1zM145 68h1v1h-1zM150 68h1v1h-1zM156 68h1v1h-1zM162 68h1v1h-1zM182 68h1v1h-1zM211 68h1v1h-1zM224 68h1v1h-1zM258 68h1v1h-1zM332 68h1v1h-1zM343 68h1v1h-1zM377 68h1v1h-1zM31 69h1v1h-1zM76 69h1v1h-1zM85 69h1v1h-1zM94 69h1v1h-1zM202 69h1v1h-1zM4 70h1v1h-1zM19 70h1v1h-1zM28 70h1v1h-1zM30 70h1v1h-1zM59 70h1v1h-1zM72 70h1v1h-1zM84 70h2v1h-2zM91 70h1v1h-1zM94 70h2v1h-2zM104 70h1v1h-1zM116 70h2v1h-2zM129 70h1v1h-1zM133 70h1v1h-1zM153 70h1v1h-1zM176 70h1v1h-1zM184 70h1v1h-1zM203 70h1v1h-1zM205 70h1v1h-1zM235 70h1v1h-1zM287 70h1v1h-1zM292 70h2v1h-2zM303 70h1v1h-1zM305 70h1v1h-1zM344 70h1v1h-1zM364 70h1v1h-1zM27 71h1v1h-1zM39 71h1v1h-1zM109 71h1v1h-1zM113 71h1v1h-1zM128 71h1v1h-1zM213 71h1v1h-1zM250 71h1v1h-1zM0 72h1v1h-1zM21 72h1v1h-1zM36 72h1v1h-1zM70 72h1v1h-1zM78 72h1v1h-1zM130 72h1v1h-1zM150 72h1v1h-1zM171 72h1v1h-1zM181 72h1v1h-1zM276 72h1v1h-1zM290 72h1v1h-1zM359 72h1v1h-1zM367 72h1v1h-1zM390 72h1v1h-1zM0 73h1v1h-1zM18 73h1v1h-1zM45 73h1v1h-1zM49 73h1v1h-1zM78 73h1v1h-1zM80 73h1v1h-1zM94 73h1v1h-1zM117 73h1v1h-1zM122 73h1v1h-1zM143 73h1v1h-1zM229 73h1v1h-1zM390 73h1v1h-1zM126 74h1v1h-1zM206 74h1v1h-1zM224 74h1v1h-1zM365 74h1v1h-1zM388 74h1v1h-1zM36 75h1v1h-1zM68 75h1v1h-1zM150 75h1v1h-1zM279 75h1v1h-1zM0 76h2v1h-2zM27 76h1v1h-1zM69 76h1v1h-1zM186 76h1v1h-1zM225 76h1v1h-1zM244 76h1v1h-1zM258 76h1v1h-1zM280 76h1v1h-1zM284 76h1v1h-1zM344 76h1v1h-1zM365 76h1v1h-1zM81 77h1v1h-1zM85 77h1v1h-1zM110 77h1v1h-1zM132 77h1v1h-1zM135 77h1v1h-1zM150 77h1v1h-1zM224 77h1v1h-1zM273 77h1v1h-1zM280 77h1v1h-1zM284 77h1v1h-1zM353 77h1v1h-1zM1 78h1v1h-1zM25 78h1v1h-1zM39 78h1v1h-1zM50 78h1v1h-1zM55 78h1v1h-1zM57 78h1v1h-1zM68 78h1v1h-1zM72 78h2v1h-2zM84 78h1v1h-1zM105 78h1v1h-1zM112 78h1v1h-1zM117 78h1v1h-1zM119 78h1v1h-1zM130 78h1v1h-1zM149 78h1v1h-1zM152 78h1v1h-1zM156 78h1v1h-1zM160 78h1v1h-1zM167 78h1v1h-1zM186 78h1v1h-1zM188 78h1v1h-1zM192 78h1v1h-1zM194 78h1v1h-1zM224 78h1v1h-1zM230 78h1v1h-1zM232 78h1v1h-1zM235 78h1v1h-1zM247 78h1v1h-1zM257 78h2v1h-2zM274 78h1v1h-1zM287 78h1v1h-1zM305 78h1v1h-1zM364 78h1v1h-1zM85 79h1v1h-1zM116 79h1v1h-1zM287 79h1v1h-1zM19 80h1v1h-1zM32 80h1v1h-1zM73 80h1v1h-1zM85 80h1v1h-1zM127 80h1v1h-1zM132 80h1v1h-1zM149 80h1v1h-1zM224 80h1v1h-1zM235 80h1v1h-1zM258 80h1v1h-1zM26 81h1v1h-1zM53 81h1v1h-1zM66 81h1v1h-1zM77 81h1v1h-1zM89 81h1v1h-1zM116 81h1v1h-1zM153 81h1v1h-1zM164 81h1v1h-1zM204 81h1v1h-1zM227 81h1v1h-1zM283 81h1v1h-1zM390 81h1v1h-1zM1 82h1v1h-1zM91 82h1v1h-1zM103 82h1v1h-1zM111 82h1v1h-1zM120 82h1v1h-1zM129 82h1v1h-1zM144 82h1v1h-1zM166 82h1v1h-1zM176 82h1v1h-1zM199 82h1v1h-1zM203 82h1v1h-1zM205 82h1v1h-1zM226 82h1v1h-1zM230 82h1v1h-1zM246 82h1v1h-1zM305 82h1v1h-1zM103 83h1v1h-1zM23 84h1v1h-1zM70 84h1v1h-1zM78 84h1v1h-1zM85 84h1v1h-1zM100 84h1v1h-1zM146 84h1v1h-1zM161 84h1v1h-1zM211 84h1v1h-1zM335 84h1v1h-1zM339 84h1v1h-1zM370 84h1v1h-1zM383 84h1v1h-1zM16 85h1v1h-1zM19 85h1v1h-1zM27 85h1v1h-1zM57 85h1v1h-1zM60 85h1v1h-1zM69 85h2v1h-2zM77 85h1v1h-1zM79 85h2v1h-2zM84 85h1v1h-1zM94 85h3v1h-3zM99 85h1v1h-1zM103 85h1v1h-1zM105 85h1v1h-1zM117 85h1v1h-1zM120 85h1v1h-1zM135 85h2v1h-2zM146 85h1v1h-1zM150 85h2v1h-2zM158 85h1v1h-1zM176 85h1v1h-1zM180 85h1v1h-1zM186 85h1v1h-1zM192 85h1v1h-1zM235 85h1v1h-1zM256 85h1v1h-1zM281 85h1v1h-1zM298 85h1v1h-1zM305 85h1v1h-1zM322 85h1v1h-1zM336 85h1v1h-1zM343 85h2v1h-2zM366 85h1v1h-1zM374 85h1v1h-1zM390 85h1v1h-1zM347 86h1v1h-1zM112 87h1v1h-1zM129 87h1v1h-1zM246 87h1v1h-1zM350 87h1v1h-1zM100 88h1v1h-1zM130 88h1v1h-1zM150 88h1v1h-1zM216 88h1v1h-1zM285 88h1v1h-1zM332 88h1v1h-1zM54 89h1v1h-1zM81 89h1v1h-1zM105 89h1v1h-1zM142 89h1v1h-1zM178 89h2v1h-2zM188 89h1v1h-1zM205 89h1v1h-1zM227 89h1v1h-1zM240 89h1v1h-1zM249 89h1v1h-1zM273 89h1v1h-1zM277 89h1v1h-1zM313 89h1v1h-1zM318 89h1v1h-1zM340 89h1v1h-1zM158 90h1v1h-1zM251 90h1v1h-1zM390 90h1v1h-1zM1 91h1v1h-1zM5 91h1v1h-1zM62 91h1v1h-1zM70 91h1v1h-1zM82 91h1v1h-1zM119 91h1v1h-1zM150 91h2v1h-2zM153 91h1v1h-1zM156 91h1v1h-1zM205 91h1v1h-1zM295 91h1v1h-1zM303 91h1v1h-1zM36 92h1v1h-1zM50 92h1v1h-1zM129 92h1v1h-1zM156 92h1v1h-1zM184 92h1v1h-1zM227 92h1v1h-1zM50 93h1v1h-1zM100 93h1v1h-1zM305 93h1v1h-1zM380 93h1v1h-1zM0 94h1v1h-1zM5 94h1v1h-1zM19 94h1v1h-1zM27 94h1v1h-1zM34 94h1v1h-1zM59 94h1v1h-1zM68 94h3v1h-3zM73 94h1v1h-1zM85 94h1v1h-1zM100 94h1v1h-1zM105 94h1v1h-1zM109 94h2v1h-2zM122 94h1v1h-1zM126 94h1v1h-1zM129 94h2v1h-2zM132 94h1v1h-1zM136 94h1v1h-1zM138 94h1v1h-1zM143 94h1v1h-1zM150 94h1v1h-1zM155 94h1v1h-1zM162 94h1v1h-1zM169 94h1v1h-1zM188 94h1v1h-1zM246 94h1v1h-1zM265 94h1v1h-1zM274 94h1v1h-1zM309 94h1v1h-1zM320 94h1v1h-1zM327 94h2v1h-2zM337 94h1v1h-1zM350 94h2v1h-2zM353 94h1v1h-1zM364 94h1v1h-1zM369 94h1v1h-1zM376 94h1v1h-1zM70 95h1v1h-1zM85 95h1v1h-1zM238 95h1v1h-1zM85 96h1v1h-1zM390 96h1v1h-1zM100 97h1v1h-1zM256 97h1v1h-1zM142 98h1v1h-1zM155 98h1v1h-1zM196 98h1v1h-1zM207 98h1v1h-1zM1 99h1v1h-1zM51 99h1v1h-1zM85 99h1v1h-1zM121 99h1v1h-1zM150 99h1v1h-1zM166 99h1v1h-1zM193 99h1v1h-1zM204 99h1v1h-1zM290 99h1v1h-1zM34 100h1v1h-1zM61 100h1v1h-1zM84 100h1v1h-1zM88 100h1v1h-1zM93 100h2v1h-2zM97 100h1v1h-1zM103 100h1v1h-1zM105 100h1v1h-1zM150 100h1v1h-1zM245 100h1v1h-1zM303 100h1v1h-1zM58 101h1v1h-1zM164 101h1v1h-1zM184 101h1v1h-1zM359 101h1v1h-1zM151 102h1v1h-1zM186 102h1v1h-1zM17 103h1v1h-1zM19 103h1v1h-1zM30 103h1v1h-1zM57 103h1v1h-1zM82 103h2v1h-2zM85 103h1v1h-1zM100 103h1v1h-1zM104 103h1v1h-1zM117 103h1v1h-1zM132 103h1v1h-1zM136 103h1v1h-1zM156 103h1v1h-1zM224 103h1v1h-1zM260 103h1v1h-1zM301 103h1v1h-1zM315 103h1v1h-1zM327 103h1v1h-1zM385 103h1v1h-1zM68 104h1v1h-1zM70 104h1v1h-1zM103 104h1v1h-1zM119 104h1v1h-1zM172 104h1v1h-1zM19 105h1v1h-1zM24 105h1v1h-1zM36 105h1v1h-1zM60 105h1v1h-1zM62 105h1v1h-1zM65 105h1v1h-1zM78 105h1v1h-1zM85 105h1v1h-1zM89 105h1v1h-1zM94 105h1v1h-1zM100 105h1v1h-1zM106 105h1v1h-1zM109 105h1v1h-1zM111 105h1v1h-1zM113 105h1v1h-1zM116 105h2v1h-2zM120 105h2v1h-2zM128 105h1v1h-1zM130 105h1v1h-1zM136 105h1v1h-1zM151 105h1v1h-1zM166 105h1v1h-1zM172 105h1v1h-1zM187 105h1v1h-1zM189 105h1v1h-1zM199 105h1v1h-1zM211 105h1v1h-1zM224 105h1v1h-1zM246 105h1v1h-1zM264 105h1v1h-1zM287 105h1v1h-1zM302 105h1v1h-1zM350 105h1v1h-1zM353 105h1v1h-1zM368 105h1v1h-1zM105 106h1v1h-1zM107 106h1v1h-1zM162 106h1v1h-1zM299 106h1v1h-1zM337 106h1v1h-1zM364 106h1v1h-1zM106 107h1v1h-1zM117 107h1v1h-1zM144 107h1v1h-1zM174 107h1v1h-1zM370 107h1v1h-1zM9 108h1v1h-1zM39 108h1v1h-1zM221 108h1v1h-1zM305 108h1v1h-1zM350 108h1v1h-1zM59 109h1v1h-1zM71 109h1v1h-1zM94 109h1v1h-1zM105 109h1v1h-1zM115 109h1v1h-1zM117 109h1v1h-1zM120 109h1v1h-1zM141 109h1v1h-1zM150 109h1v1h-1zM224 109h1v1h-1zM235 109h1v1h-1zM250 109h1v1h-1zM318 109h1v1h-1zM327 109h1v1h-1zM77 110h1v1h-1zM94 110h1v1h-1zM134 110h1v1h-1zM143 110h1v1h-1zM235 110h1v1h-1zM64 111h1v1h-1zM82 111h1v1h-1zM105 111h1v1h-1zM144 111h1v1h-1zM299 111h1v1h-1zM337 111h1v1h-1zM78 112h1v1h-1zM87 112h1v1h-1zM390 112h1v1h-1zM45 113h1v1h-1zM71 113h1v1h-1zM105 113h1v1h-1zM150 113h1v1h-1zM153 113h1v1h-1zM156 113h1v1h-1zM160 113h1v1h-1zM167 113h1v1h-1zM187 113h1v1h-1zM192 113h1v1h-1zM260 113h1v1h-1zM296 113h1v1h-1zM299 113h1v1h-1zM141 114h1v1h-1zM194 114h1v1h-1zM109 115h1v1h-1zM129 115h1v1h-1zM187 115h1v1h-1zM245 115h1v1h-1zM297 115h1v1h-1zM19 116h1v1h-1zM28 116h1v1h-1zM62 116h1v1h-1zM70 116h1v1h-1zM79 116h1v1h-1zM81 116h1v1h-1zM105 116h1v1h-1zM120 116h1v1h-1zM167 116h1v1h-1zM251 116h1v1h-1zM257 116h1v1h-1zM273 116h1v1h-1zM70 117h1v1h-1zM73 117h1v1h-1zM78 117h1v1h-1zM85 117h1v1h-1zM103 117h1v1h-1zM105 117h1v1h-1zM107 117h1v1h-1zM109 117h1v1h-1zM120 117h1v1h-1zM129 117h1v1h-1zM132 117h1v1h-1zM138 117h1v1h-1zM149 117h2v1h-2zM160 117h1v1h-1zM164 117h2v1h-2zM178 117h1v1h-1zM186 117h3v1h-3zM225 117h1v1h-1zM298 117h1v1h-1zM307 117h1v1h-1zM315 117h1v1h-1zM319 117h2v1h-2zM364 117h1v1h-1zM390 117h1v1h-1zM29 119h1v1h-1zM78 119h1v1h-1zM91 119h1v1h-1zM104 119h1v1h-1zM121 119h1v1h-1zM127 119h1v1h-1zM133 119h1v1h-1zM183 119h1v1h-1zM30 120h1v1h-1zM48 120h1v1h-1zM68 120h1v1h-1zM82 120h1v1h-1zM85 120h1v1h-1zM105 120h1v1h-1zM109 120h1v1h-1zM116 120h2v1h-2zM122 120h1v1h-1zM130 120h1v1h-1zM145 120h1v1h-1zM150 120h1v1h-1zM174 120h1v1h-1zM183 120h1v1h-1zM207 120h1v1h-1zM280 120h1v1h-1zM294 120h1v1h-1zM328 120h1v1h-1zM10 121h1v1h-1zM99 121h1v1h-1zM105 121h1v1h-1zM119 121h1v1h-1zM134 121h1v1h-1zM150 121h1v1h-1zM224 121h1v1h-1zM229 121h1v1h-1zM256 121h1v1h-1zM286 121h1v1h-1zM320 121h1v1h-1zM344 121h1v1h-1zM390 121h1v1h-1zM27 122h1v1h-1zM34 122h1v1h-1zM68 122h1v1h-1zM73 122h1v1h-1zM94 122h1v1h-1zM120 122h1v1h-1zM129 122h1v1h-1zM154 122h1v1h-1zM211 122h1v1h-1zM227 122h1v1h-1zM320 122h1v1h-1zM358 122h1v1h-1zM390 122h1v1h-1zM55 123h1v1h-1zM224 123h1v1h-1zM303 123h1v1h-1zM36 124h1v1h-1zM150 124h1v1h-1zM181 124h1v1h-1zM203 124h1v1h-1zM172 125h1v1h-1zM55 126h1v1h-1zM74 126h1v1h-1zM94 126h1v1h-1zM129 126h1v1h-1zM150 126h1v1h-1zM375 126h1v1h-1zM80 127h1v1h-1zM119 127h1v1h-1zM150 127h1v1h-1zM71 128h1v1h-1zM105 128h1v1h-1zM171 128h1v1h-1zM187 128h1v1h-1zM343 128h2v1h-2zM346 128h1v1h-1zM0 129h1v1h-1zM9 129h1v1h-1zM16 129h1v1h-1zM35 129h1v1h-1zM49 129h1v1h-1zM59 129h1v1h-1zM68 129h1v1h-1zM70 129h1v1h-1zM82 129h1v1h-1zM87 129h1v1h-1zM92 129h1v1h-1zM94 129h1v1h-1zM115 129h1v1h-1zM117 129h1v1h-1zM122 129h1v1h-1zM126 129h1v1h-1zM135 129h1v1h-1zM142 129h1v1h-1zM150 129h1v1h-1zM156 129h1v1h-1zM162 129h1v1h-1zM173 129h1v1h-1zM178 129h2v1h-2zM181 129h1v1h-1zM207 129h1v1h-1zM211 129h1v1h-1zM220 129h1v1h-1zM249 129h1v1h-1zM273 129h1v1h-1zM303 129h1v1h-1zM305 129h1v1h-1zM312 129h1v1h-1zM318 129h1v1h-1zM327 129h1v1h-1zM342 129h1v1h-1zM385 129h1v1h-1zM390 129h1v1h-1zM5 130h1v1h-1zM14 130h1v1h-1zM18 130h1v1h-1zM59 130h1v1h-1zM72 130h1v1h-1zM78 130h1v1h-1zM88 130h1v1h-1zM94 130h1v1h-1zM105 130h1v1h-1zM120 130h1v1h-1zM141 130h1v1h-1zM173 130h1v1h-1zM176 130h1v1h-1zM181 130h1v1h-1zM207 130h1v1h-1zM248 130h1v1h-1zM256 130h1v1h-1zM273 130h1v1h-1zM320 130h1v1h-1zM327 130h1v1h-1zM365 130h1v1h-1zM149 131h1v1h-1zM224 131h1v1h-1zM227 131h1v1h-1zM344 131h1v1h-1zM353 131h1v1h-1zM380 131h1v1h-1zM55 132h1v1h-1zM77 132h1v1h-1zM80 132h1v1h-1zM94 132h1v1h-1zM103 132h1v1h-1zM117 132h1v1h-1zM143 132h1v1h-1zM148 132h1v1h-1zM153 132h1v1h-1zM199 132h1v1h-1zM235 132h1v1h-1zM250 132h1v1h-1zM287 132h1v1h-1zM320 132h1v1h-1zM334 132h1v1h-1zM337 132h1v1h-1zM343 132h1v1h-1zM359 132h1v1h-1zM70 133h1v1h-1zM119 133h1v1h-1zM137 133h1v1h-1zM193 133h1v1h-1zM233 133h1v1h-1zM244 133h1v1h-1zM331 133h1v1h-1zM110 134h1v1h-1zM121 134h1v1h-1zM146 134h1v1h-1zM160 134h1v1h-1zM313 134h1v1h-1zM320 134h1v1h-1zM77 135h1v1h-1zM85 135h1v1h-1zM129 135h1v1h-1zM149 135h1v1h-1zM196 135h1v1h-1zM224 135h1v1h-1zM248 135h1v1h-1zM268 135h2v1h-2zM329 135h1v1h-1zM337 135h1v1h-1zM85 136h1v1h-1zM94 136h1v1h-1zM103 136h1v1h-1zM105 136h1v1h-1zM150 136h1v1h-1zM157 136h1v1h-1zM247 136h1v1h-1zM254 136h1v1h-1zM293 136h1v1h-1zM347 136h1v1h-1zM133 137h1v1h-1zM188 137h1v1h-1zM224 137h1v1h-1zM94 138h1v1h-1zM117 138h1v1h-1zM281 138h1v1h-1zM337 138h1v1h-1zM167 139h1v1h-1zM196 139h1v1h-1zM6 141h1v1h-1zM36 141h1v1h-1zM39 141h1v1h-1zM68 141h1v1h-1zM109 141h1v1h-1zM114 141h1v1h-1zM130 141h1v1h-1zM156 141h1v1h-1zM172 141h1v1h-1zM176 141h1v1h-1zM188 141h1v1h-1zM224 141h3v1h-3zM238 141h1v1h-1zM247 141h1v1h-1zM256 141h1v1h-1zM290 141h1v1h-1zM306 141h1v1h-1zM335 141h1v1h-1zM337 141h1v1h-1zM349 141h1v1h-1zM351 141h1v1h-1zM39 142h1v1h-1zM89 142h1v1h-1zM98 142h1v1h-1zM129 142h1v1h-1zM147 142h1v1h-1zM160 142h1v1h-1zM225 142h1v1h-1zM230 142h1v1h-1zM244 142h1v1h-1zM265 142h1v1h-1zM274 142h1v1h-1zM340 142h1v1h-1zM373 142h1v1h-1zM4 143h1v1h-1zM50 143h1v1h-1zM60 143h1v1h-1zM68 143h1v1h-1zM73 143h1v1h-1zM94 143h1v1h-1zM110 143h1v1h-1zM132 143h1v1h-1zM150 143h1v1h-1zM157 143h1v1h-1zM172 143h1v1h-1zM187 143h1v1h-1zM273 143h1v1h-1zM311 143h1v1h-1zM327 143h1v1h-1zM351 143h1v1h-1zM82 144h1v1h-1zM107 144h1v1h-1zM111 144h1v1h-1zM224 144h1v1h-1zM244 144h1v1h-1zM37 145h1v1h-1zM68 145h1v1h-1zM120 145h1v1h-1zM223 145h2v1h-2zM230 145h1v1h-1zM258 145h1v1h-1zM335 145h1v1h-1zM363 145h1v1h-1zM3 146h1v1h-1zM84 146h2v1h-2zM134 146h1v1h-1zM173 146h1v1h-1zM203 146h1v1h-1zM4 147h1v1h-1zM142 147h1v1h-1zM214 147h1v1h-1zM28 148h1v1h-1zM132 148h1v1h-1zM156 148h1v1h-1zM36 149h1v1h-1zM78 149h1v1h-1zM80 149h1v1h-1zM117 149h1v1h-1zM131 149h1v1h-1zM135 149h1v1h-1zM224 149h1v1h-1zM246 149h1v1h-1zM291 149h1v1h-1zM358 149h1v1h-1zM18 150h1v1h-1zM27 150h1v1h-1zM31 150h1v1h-1zM34 150h1v1h-1zM37 150h1v1h-1zM39 150h1v1h-1zM60 150h1v1h-1zM68 150h1v1h-1zM72 150h1v1h-1zM75 150h1v1h-1zM77 150h1v1h-1zM85 150h1v1h-1zM88 150h1v1h-1zM91 150h1v1h-1zM94 150h1v1h-1zM99 150h2v1h-2zM109 150h1v1h-1zM113 150h1v1h-1zM117 150h1v1h-1zM120 150h2v1h-2zM124 150h1v1h-1zM126 150h2v1h-2zM129 150h1v1h-1zM136 150h1v1h-1zM143 150h1v1h-1zM151 150h1v1h-1zM156 150h2v1h-2zM166 150h3v1h-3zM180 150h1v1h-1zM183 150h2v1h-2zM186 150h1v1h-1zM197 150h1v1h-1zM205 150h1v1h-1zM224 150h1v1h-1zM226 150h1v1h-1zM234 150h1v1h-1zM256 150h1v1h-1zM290 150h1v1h-1zM293 150h1v1h-1zM297 150h1v1h-1zM304 150h2v1h-2zM308 150h1v1h-1zM326 150h1v1h-1zM340 150h1v1h-1zM346 150h1v1h-1zM351 150h1v1h-1zM364 150h1v1h-1zM369 150h1v1h-1zM3 151h1v1h-1zM85 151h1v1h-1zM91 151h1v1h-1zM102 151h1v1h-1zM105 151h1v1h-1zM150 151h1v1h-1zM172 151h1v1h-1zM198 151h1v1h-1zM203 151h1v1h-1zM388 151h1v1h-1zM78 152h1v1h-1zM188 152h1v1h-1zM303 152h1v1h-1zM390 152h1v1h-1zM28 153h1v1h-1zM70 153h1v1h-1zM81 153h1v1h-1zM91 153h1v1h-1zM113 153h1v1h-1zM132 153h1v1h-1zM253 153h1v1h-1zM265 153h1v1h-1zM359 153h1v1h-1zM19 154h1v1h-1zM66 154h1v1h-1zM122 154h1v1h-1zM156 154h1v1h-1zM176 154h1v1h-1zM224 154h1v1h-1zM256 154h1v1h-1zM94 155h1v1h-1zM98 155h1v1h-1zM204 155h1v1h-1zM274 155h1v1h-1zM382 155h1v1h-1zM27 156h1v1h-1zM30 156h1v1h-1zM47 156h1v1h-1zM60 156h1v1h-1zM68 156h1v1h-1zM78 156h1v1h-1zM91 156h2v1h-2zM103 156h1v1h-1zM113 156h1v1h-1zM129 156h1v1h-1zM141 156h1v1h-1zM148 156h1v1h-1zM150 156h1v1h-1zM154 156h1v1h-1zM188 156h1v1h-1zM203 156h1v1h-1zM224 156h1v1h-1zM244 156h1v1h-1zM247 156h1v1h-1zM250 156h1v1h-1zM257 156h2v1h-2zM290 156h1v1h-1zM308 156h1v1h-1zM340 156h1v1h-1zM358 156h1v1h-1zM364 156h1v1h-1zM39 157h1v1h-1zM136 157h1v1h-1zM143 157h1v1h-1zM150 157h1v1h-1zM293 157h1v1h-1zM311 157h1v1h-1zM367 157h1v1h-1zM62 158h1v1h-1zM85 158h1v1h-1zM90 158h1v1h-1zM172 158h1v1h-1zM181 158h1v1h-1zM185 158h1v1h-1zM246 158h1v1h-1zM285 158h1v1h-1zM322 158h1v1h-1zM358 158h1v1h-1zM8 159h1v1h-1zM161 159h1v1h-1zM19 160h1v1h-1zM78 160h1v1h-1zM113 160h1v1h-1zM117 160h1v1h-1zM134 160h1v1h-1zM142 160h1v1h-1zM370 160h1v1h-1zM1 161h1v1h-1zM19 161h1v1h-1zM84 161h1v1h-1zM159 161h1v1h-1zM235 161h1v1h-1zM30 162h1v1h-1zM32 162h1v1h-1zM68 162h1v1h-1zM94 162h1v1h-1zM106 162h1v1h-1zM129 162h1v1h-1zM173 162h1v1h-1zM331 162h1v1h-1zM39 163h1v1h-1zM164 163h1v1h-1zM172 163h1v1h-1zM203 163h1v1h-1zM224 163h1v1h-1zM281 163h1v1h-1zM290 163h1v1h-1zM347 163h1v1h-1zM363 163h1v1h-1zM81 164h1v1h-1zM101 164h1v1h-1zM117 164h1v1h-1zM163 164h1v1h-1zM235 164h1v1h-1zM318 164h1v1h-1zM350 164h1v1h-1zM40 165h1v1h-1zM117 165h1v1h-1zM187 165h1v1h-1zM284 165h1v1h-1zM1 166h1v1h-1zM63 166h1v1h-1zM82 166h1v1h-1zM99 166h1v1h-1zM105 166h1v1h-1zM150 166h1v1h-1zM180 166h1v1h-1zM205 166h1v1h-1zM271 166h1v1h-1zM327 166h1v1h-1zM365 166h1v1h-1zM51 167h1v1h-1zM78 167h1v1h-1zM113 167h1v1h-1zM116 167h1v1h-1zM139 167h1v1h-1zM150 167h1v1h-1zM175 167h1v1h-1zM328 167h1v1h-1zM150 168h1v1h-1zM176 168h1v1h-1zM94 169h1v1h-1zM197 169h1v1h-1zM1 170h1v1h-1zM50 170h1v1h-1zM177 170h1v1h-1zM364 170h1v1h-1zM72 171h1v1h-1zM128 171h1v1h-1zM32 172h1v1h-1zM49 172h1v1h-1zM62 172h1v1h-1zM104 172h2v1h-2zM125 172h1v1h-1zM141 172h1v1h-1zM143 172h1v1h-1zM151 172h1v1h-1zM158 172h1v1h-1zM163 172h1v1h-1zM176 172h1v1h-1zM224 172h1v1h-1zM226 172h1v1h-1zM249 172h1v1h-1zM253 172h2v1h-2zM256 172h1v1h-1zM282 172h1v1h-1zM296 172h1v1h-1zM326 172h1v1h-1zM337 172h1v1h-1zM129 173h2v1h-2zM146 173h1v1h-1zM162 173h1v1h-1zM180 173h1v1h-1zM261 173h1v1h-1zM312 173h1v1h-1zM334 173h1v1h-1zM369 173h1v1h-1zM27 174h2v1h-2zM107 174h1v1h-1zM120 174h1v1h-1zM201 174h1v1h-1zM334 174h1v1h-1zM380 174h1v1h-1zM167 175h1v1h-1zM203 175h1v1h-1zM382 175h1v1h-1zM50 176h1v1h-1zM70 176h1v1h-1zM82 176h1v1h-1zM85 176h1v1h-1zM130 176h1v1h-1zM141 176h1v1h-1zM154 176h1v1h-1zM168 176h1v1h-1zM172 176h1v1h-1zM190 176h1v1h-1zM340 176h1v1h-1zM66 177h1v1h-1zM170 177h1v1h-1zM89 178h1v1h-1zM117 178h1v1h-1zM129 178h1v1h-1zM188 178h1v1h-1zM320 178h1v1h-1zM57 179h1v1h-1zM89 179h1v1h-1zM129 179h1v1h-1zM200 179h1v1h-1zM273 179h1v1h-1zM52 180h1v1h-1zM85 180h1v1h-1zM150 180h1v1h-1zM166 180h1v1h-1zM173 180h1v1h-1zM203 180h1v1h-1zM254 180h1v1h-1zM315 180h1v1h-1zM334 180h1v1h-1zM368 180h1v1h-1zM19 181h1v1h-1zM72 181h1v1h-1zM124 181h1v1h-1zM129 181h2v1h-2zM158 181h1v1h-1zM305 181h1v1h-1zM328 181h1v1h-1zM339 181h1v1h-1zM370 181h1v1h-1zM50 182h1v1h-1zM68 182h1v1h-1zM261 182h1v1h-1zM300 182h1v1h-1zM350 182h1v1h-1zM3 183h1v1h-1zM119 183h2v1h-2zM150 183h1v1h-1zM203 183h1v1h-1zM224 183h1v1h-1zM246 183h1v1h-1zM320 183h1v1h-1zM343 183h1v1h-1zM16 184h1v1h-1zM70 184h1v1h-1zM92 184h1v1h-1zM101 184h1v1h-1zM150 184h1v1h-1zM298 184h1v1h-1zM343 184h1v1h-1zM362 184h1v1h-1zM33 185h1v1h-1zM39 185h1v1h-1zM60 185h1v1h-1zM158 185h1v1h-1zM188 185h1v1h-1zM285 185h1v1h-1zM368 185h1v1h-1zM35 186h1v1h-1zM50 186h1v1h-1zM76 186h1v1h-1zM78 186h1v1h-1zM85 186h1v1h-1zM102 186h1v1h-1zM117 186h1v1h-1zM150 186h1v1h-1zM211 186h1v1h-1zM235 186h1v1h-1zM249 186h1v1h-1zM270 186h1v1h-1zM322 186h1v1h-1zM328 186h1v1h-1zM369 186h1v1h-1zM390 186h1v1h-1zM64 187h1v1h-1zM105 187h1v1h-1zM113 187h1v1h-1zM115 187h1v1h-1zM117 187h1v1h-1zM128 187h1v1h-1zM143 187h1v1h-1zM165 187h1v1h-1zM189 187h1v1h-1zM257 187h1v1h-1zM320 187h1v1h-1zM21 188h1v1h-1zM30 188h1v1h-1zM50 188h1v1h-1zM78 188h1v1h-1zM89 188h1v1h-1zM94 188h1v1h-1zM117 188h1v1h-1zM137 188h1v1h-1zM141 188h1v1h-1zM152 188h1v1h-1zM156 188h1v1h-1zM178 188h1v1h-1zM185 188h1v1h-1zM274 188h1v1h-1zM290 188h1v1h-1zM364 188h1v1h-1zM374 188h1v1h-1zM105 189h1v1h-1zM187 189h1v1h-1zM226 189h1v1h-1zM259 189h1v1h-1zM33 190h1v1h-1zM37 190h1v1h-1zM176 190h1v1h-1zM242 190h1v1h-1zM334 190h1v1h-1zM377 190h1v1h-1zM235 191h1v1h-1zM50 192h1v1h-1zM78 192h1v1h-1zM85 192h1v1h-1zM113 192h1v1h-1zM199 192h1v1h-1zM258 192h1v1h-1zM274 192h1v1h-1zM321 192h1v1h-1zM364 192h1v1h-1zM99 193h1v1h-1zM133 193h1v1h-1zM220 193h1v1h-1zM390 193h1v1h-1zM78 194h1v1h-1zM114 194h1v1h-1zM201 194h1v1h-1zM224 195h1v1h-1zM264 195h1v1h-1zM316 195h1v1h-1zM98 196h1v1h-1zM135 196h1v1h-1zM139 196h1v1h-1zM200 196h1v1h-1zM224 196h1v1h-1zM230 196h1v1h-1zM150 197h1v1h-1zM169 197h1v1h-1zM258 197h1v1h-1zM276 197h1v1h-1zM298 197h1v1h-1zM384 197h1v1h-1zM151 198h1v1h-1zM82 199h1v1h-1zM105 199h1v1h-1zM132 199h1v1h-1zM192 199h1v1h-1zM261 199h1v1h-1zM326 199h1v1h-1zM179 200h1v1h-1zM196 200h1v1h-1zM224 200h1v1h-1zM370 200h1v1h-1zM380 200h1v1h-1zM6 201h1v1h-1zM25 201h1v1h-1zM174 201h1v1h-1zM194 201h1v1h-1zM203 201h1v1h-1zM230 201h1v1h-1zM234 201h1v1h-1zM247 201h1v1h-1zM294 201h1v1h-1zM39 202h1v1h-1zM69 202h1v1h-1zM306 202h1v1h-1zM37 203h1v1h-1zM39 203h1v1h-1zM48 203h1v1h-1zM70 203h1v1h-1zM82 203h1v1h-1zM124 203h1v1h-1zM146 203h1v1h-1zM151 203h1v1h-1zM156 203h1v1h-1zM163 203h1v1h-1zM175 203h1v1h-1zM180 203h1v1h-1zM183 203h1v1h-1zM201 203h1v1h-1zM204 203h1v1h-1zM237 203h1v1h-1zM289 203h1v1h-1zM359 203h1v1h-1zM81 204h1v1h-1zM99 204h1v1h-1zM155 204h1v1h-1zM203 204h1v1h-1zM224 204h1v1h-1zM354 204h1v1h-1zM364 204h1v1h-1zM70 205h1v1h-1zM82 205h1v1h-1zM89 205h1v1h-1zM91 205h1v1h-1zM150 205h1v1h-1zM166 205h1v1h-1zM74 206h1v1h-1zM234 206h1v1h-1zM361 206h1v1h-1zM12 207h1v1h-1zM35 207h1v1h-1zM98 207h1v1h-1zM120 207h1v1h-1zM129 207h2v1h-2zM211 207h1v1h-1zM232 207h1v1h-1zM235 207h1v1h-1zM353 207h1v1h-1zM314 208h1v1h-1zM226 210h1v1h-1zM33 211h1v1h-1zM50 211h1v1h-1zM68 211h1v1h-1zM84 211h1v1h-1zM105 211h1v1h-1zM122 211h1v1h-1zM129 211h1v1h-1zM186 211h1v1h-1zM207 211h1v1h-1zM214 211h1v1h-1zM311 211h1v1h-1zM344 211h1v1h-1zM390 211h1v1h-1zM258 212h1v1h-1zM271 212h1v1h-1zM71 213h1v1h-1zM280 213h1v1h-1zM380 213h1v1h-1zM35 214h1v1h-1zM38 214h1v1h-1zM53 214h1v1h-1zM147 214h1v1h-1zM211 214h1v1h-1zM88 216h1v1h-1zM390 216h1v1h-1zM344 218h1v1h-1zM19 219h1v1h-1zM62 219h1v1h-1zM235 219h1v1h-1zM364 219h1v1h-1zM34 220h1v1h-1zM129 220h1v1h-1zM193 220h1v1h-1zM224 220h1v1h-1zM324 220h1v1h-1zM348 220h1v1h-1zM108 221h1v1h-1zM224 222h1v1h-1zM145 223h1v1h-1zM19 224h1v1h-1zM27 224h1v1h-1zM36 224h1v1h-1zM50 224h2v1h-2zM57 224h1v1h-1zM64 224h1v1h-1zM68 224h1v1h-1zM74 224h1v1h-1zM77 224h2v1h-2zM80 224h1v1h-1zM103 224h1v1h-1zM105 224h1v1h-1zM109 224h1v1h-1zM121 224h1v1h-1zM123 224h1v1h-1zM131 224h1v1h-1zM135 224h1v1h-1zM137 224h1v1h-1zM141 224h1v1h-1zM144 224h2v1h-2zM149 224h2v1h-2zM154 224h1v1h-1zM156 224h1v1h-1zM163 224h1v1h-1zM172 224h1v1h-1zM183 224h1v1h-1zM195 224h2v1h-2zM200 224h1v1h-1zM204 224h1v1h-1zM220 224h1v1h-1zM222 224h1v1h-1zM230 224h1v1h-1zM237 224h1v1h-1zM244 224h1v1h-1zM246 224h1v1h-1zM258 224h1v1h-1zM264 224h1v1h-1zM273 224h1v1h-1zM276 224h1v1h-1zM281 224h1v1h-1zM305 224h1v1h-1zM322 224h1v1h-1zM332 224h1v1h-1zM334 224h1v1h-1zM373 224h2v1h-2zM385 224h1v1h-1zM76 225h1v1h-1zM117 225h1v1h-1zM141 225h2v1h-2zM327 225h1v1h-1zM82 226h1v1h-1zM141 226h1v1h-1zM150 226h1v1h-1zM172 226h1v1h-1zM189 226h1v1h-1zM210 226h1v1h-1zM238 226h1v1h-1zM283 226h1v1h-1zM81 227h1v1h-1zM89 227h1v1h-1zM92 227h1v1h-1zM122 227h1v1h-1zM131 227h1v1h-1zM251 228h1v1h-1zM277 228h1v1h-1zM296 228h1v1h-1zM311 228h1v1h-1zM73 229h1v1h-1zM121 229h1v1h-1zM24 230h1v1h-1zM39 230h1v1h-1zM50 230h1v1h-1zM78 230h1v1h-1zM82 230h1v1h-1zM142 230h1v1h-1zM145 230h1v1h-1zM196 230h1v1h-1zM201 230h1v1h-1zM224 230h1v1h-1zM237 230h1v1h-1zM274 230h1v1h-1zM39 232h1v1h-1zM78 232h1v1h-1zM207 232h1v1h-1zM133 233h1v1h-1zM26 234h1v1h-1zM55 234h1v1h-1zM150 234h1v1h-1zM201 234h1v1h-1zM206 234h1v1h-1zM16 235h2v1h-2zM28 235h1v1h-1zM33 235h1v1h-1zM70 235h1v1h-1zM78 235h1v1h-1zM80 235h1v1h-1zM85 235h1v1h-1zM109 235h2v1h-2zM132 235h1v1h-1zM161 235h1v1h-1zM164 235h1v1h-1zM186 235h1v1h-1zM191 235h1v1h-1zM207 235h1v1h-1zM219 235h1v1h-1zM240 235h1v1h-1zM244 235h1v1h-1zM295 235h1v1h-1zM303 235h1v1h-1zM331 235h1v1h-1zM340 235h1v1h-1zM368 235h1v1h-1zM382 235h1v1h-1zM251 236h1v1h-1zM35 237h1v1h-1zM52 237h1v1h-1zM203 237h1v1h-1zM224 237h1v1h-1zM230 237h1v1h-1zM258 237h1v1h-1zM316 237h1v1h-1zM351 237h1v1h-1zM390 237h1v1h-1zM19 238h1v1h-1zM95 238h1v1h-1zM141 238h1v1h-1zM226 238h1v1h-1zM51 239h1v1h-1zM19 240h1v1h-1zM50 240h1v1h-1zM63 240h1v1h-1zM89 240h1v1h-1zM235 240h1v1h-1zM190 242h1v1h-1zM305 242h1v1h-1zM1 244h1v1h-1zM49 244h1v1h-1zM76 244h1v1h-1zM133 244h1v1h-1zM142 244h1v1h-1zM144 244h1v1h-1zM156 244h1v1h-1zM224 244h1v1h-1zM235 244h1v1h-1zM303 244h1v1h-1zM355 244h1v1h-1zM100 245h1v1h-1zM115 245h1v1h-1zM5 246h1v1h-1zM14 246h1v1h-1zM39 246h1v1h-1zM82 246h1v1h-1zM87 246h1v1h-1zM94 246h1v1h-1zM105 246h1v1h-1zM149 246h1v1h-1zM158 246h1v1h-1zM183 246h1v1h-1zM224 246h1v1h-1zM27 247h1v1h-1zM37 247h1v1h-1zM78 247h1v1h-1zM136 247h1v1h-1zM141 247h1v1h-1zM156 247h1v1h-1zM201 247h1v1h-1zM255 247h1v1h-1zM290 247h1v1h-1zM130 248h1v1h-1zM135 248h1v1h-1zM249 248h1v1h-1zM268 248h1v1h-1zM274 248h1v1h-1zM89 249h1v1h-1zM129 249h1v1h-1zM172 249h1v1h-1zM186 249h1v1h-1zM248 249h1v1h-1zM285 249h1v1h-1zM1 250h1v1h-1zM36 250h1v1h-1zM41 250h1v1h-1zM71 250h1v1h-1zM109 250h1v1h-1zM132 250h1v1h-1zM156 250h1v1h-1zM257 250h1v1h-1zM260 250h1v1h-1zM288 250h1v1h-1zM299 250h1v1h-1zM390 250h1v1h-1zM90 251h1v1h-1zM116 251h1v1h-1zM228 251h1v1h-1zM236 251h1v1h-1zM311 251h1v1h-1zM346 251h1v1h-1zM363 251h1v1h-1zM153 253h1v1h-1zM172 253h1v1h-1zM136 254h1v1h-1zM172 254h1v1h-1zM180 254h1v1h-1zM277 254h1v1h-1zM346 254h1v1h-1zM39 255h1v1h-1zM247 255h1v1h-1zM274 255h1v1h-1zM50 256h1v1h-1zM85 256h1v1h-1zM97 256h1v1h-1zM121 256h1v1h-1zM130 256h1v1h-1zM141 256h1v1h-1zM150 256h1v1h-1zM154 256h1v1h-1zM172 256h1v1h-1zM39 257h1v1h-1zM44 257h1v1h-1zM78 257h1v1h-1zM116 257h1v1h-1zM156 257h1v1h-1zM187 257h1v1h-1zM250 257h1v1h-1zM305 257h1v1h-1zM308 257h1v1h-1zM348 257h1v1h-1zM390 257h1v1h-1zM3 258h1v1h-1zM19 258h1v1h-1zM28 258h1v1h-1zM35 258h1v1h-1zM68 258h1v1h-1zM76 258h1v1h-1zM78 258h1v1h-1zM80 258h1v1h-1zM145 258h1v1h-1zM156 258h1v1h-1zM192 258h1v1h-1zM197 258h1v1h-1zM212 258h1v1h-1zM224 258h1v1h-1zM237 258h1v1h-1zM261 258h1v1h-1zM265 258h1v1h-1zM189 259h1v1h-1zM308 259h1v1h-1zM103 260h1v1h-1zM113 260h1v1h-1zM250 260h1v1h-1zM265 260h1v1h-1zM37 261h1v1h-1zM173 261h1v1h-1zM182 261h1v1h-1zM199 261h1v1h-1zM258 261h1v1h-1zM294 261h1v1h-1zM304 261h1v1h-1zM373 261h1v1h-1zM61 264h1v1h-1zM105 264h1v1h-1zM195 264h1v1h-1zM224 264h1v1h-1zM31 265h1v1h-1zM67 265h1v1h-1zM94 265h1v1h-1zM142 265h1v1h-1zM153 265h1v1h-1zM258 265h1v1h-1zM260 265h1v1h-1zM362 265h1v1h-1zM135 268h1v1h-1zM248 268h1v1h-1zM303 268h1v1h-1zM135 269h1v1h-1zM8 270h1v1h-1zM186 270h1v1h-1zM166 271h1v1h-1zM212 271h1v1h-1zM288 272h1v1h-1zM6 273h1v1h-1zM59 273h1v1h-1zM77 273h1v1h-1zM89 273h1v1h-1zM116 273h1v1h-1zM129 273h2v1h-2zM143 273h1v1h-1zM179 273h1v1h-1zM224 273h1v1h-1zM322 273h1v1h-1zM50 274h1v1h-1zM78 274h1v1h-1zM94 274h1v1h-1zM142 274h1v1h-1zM155 274h1v1h-1zM188 274h1v1h-1zM192 274h1v1h-1zM230 274h1v1h-1zM248 274h1v1h-1zM255 274h1v1h-1zM305 274h1v1h-1zM346 274h1v1h-1zM354 274h1v1h-1zM364 274h1v1h-1zM390 274h1v1h-1zM315 275h1v1h-1zM72 276h1v1h-1zM197 276h1v1h-1zM224 276h1v1h-1zM307 276h1v1h-1zM67 277h1v1h-1zM89 277h1v1h-1zM228 277h1v1h-1zM254 277h1v1h-1zM318 277h1v1h-1zM368 277h1v1h-1zM344 278h1v1h-1zM75 279h1v1h-1zM76 280h2v1h-2zM120 280h1v1h-1zM213 280h1v1h-1zM294 280h1v1h-1zM318 280h1v1h-1zM369 280h1v1h-1zM85 281h1v1h-1zM138 281h1v1h-1zM163 281h1v1h-1zM224 281h1v1h-1zM336 281h1v1h-1zM37 282h1v1h-1zM172 282h1v1h-1zM81 283h1v1h-1zM226 283h1v1h-1zM27 284h1v1h-1zM36 284h1v1h-1zM76 284h2v1h-2zM165 284h1v1h-1zM368 284h1v1h-1zM380 284h1v1h-1zM88 285h1v1h-1zM158 285h1v1h-1zM185 285h1v1h-1zM249 285h1v1h-1zM355 285h1v1h-1zM121 286h1v1h-1zM70 287h1v1h-1zM78 287h2v1h-2zM105 287h1v1h-1zM132 287h1v1h-1zM250 288h1v1h-1zM272 288h1v1h-1zM353 288h1v1h-1zM203 289h1v1h-1zM332 289h1v1h-1zM364 289h1v1h-1zM63 290h1v1h-1zM72 290h1v1h-1zM99 290h1v1h-1zM141 290h1v1h-1zM150 290h1v1h-1zM156 290h1v1h-1zM163 290h1v1h-1zM188 290h1v1h-1zM247 290h1v1h-1zM299 290h1v1h-1zM303 290h1v1h-1zM379 290h1v1h-1zM0 291h1v1h-1zM6 291h1v1h-1zM55 291h1v1h-1zM149 291h1v1h-1zM70 292h1v1h-1zM30 293h1v1h-1zM64 293h1v1h-1zM70 293h1v1h-1zM136 293h1v1h-1zM150 293h1v1h-1zM157 293h1v1h-1zM365 293h1v1h-1zM27 294h1v1h-1zM120 294h1v1h-1zM201 294h1v1h-1zM261 294h1v1h-1zM280 294h1v1h-1zM91 295h1v1h-1zM235 295h1v1h-1zM113 296h1v1h-1zM172 296h1v1h-1zM228 296h1v1h-1zM310 296h1v1h-1zM350 296h1v1h-1zM115 297h1v1h-1zM150 297h1v1h-1zM85 298h1v1h-1zM117 298h1v1h-1zM184 298h1v1h-1zM197 298h1v1h-1zM349 298h1v1h-1zM106 299h1v1h-1zM111 299h1v1h-1zM113 299h1v1h-1zM250 299h1v1h-1zM290 299h1v1h-1zM303 299h1v1h-1zM320 299h1v1h-1zM182 300h1v1h-1zM389 300h1v1h-1zM19 301h1v1h-1zM103 301h1v1h-1zM105 302h1v1h-1zM48 303h1v1h-1zM70 303h1v1h-1zM91 303h1v1h-1zM100 303h1v1h-1zM123 303h1v1h-1zM129 303h1v1h-1zM152 303h1v1h-1zM235 303h1v1h-1zM244 303h1v1h-1zM268 303h1v1h-1zM290 303h1v1h-1zM299 303h1v1h-1zM371 303h1v1h-1zM15 304h1v1h-1zM150 304h1v1h-1zM261 304h1v1h-1zM390 304h1v1h-1zM16 305h1v1h-1zM59 305h1v1h-1zM65 305h2v1h-2zM70 305h1v1h-1zM78 305h1v1h-1zM82 305h1v1h-1zM85 305h1v1h-1zM93 305h1v1h-1zM108 305h1v1h-1zM129 305h1v1h-1zM150 305h1v1h-1zM181 305h1v1h-1zM224 305h1v1h-1zM242 305h1v1h-1zM257 305h1v1h-1zM274 305h1v1h-1zM308 305h1v1h-1zM320 305h1v1h-1zM141 306h1v1h-1zM202 306h1v1h-1zM117 307h1v1h-1zM276 307h1v1h-1zM320 307h1v1h-1zM62 308h1v1h-1zM150 308h1v1h-1zM156 308h1v1h-1zM257 308h1v1h-1zM259 308h1v1h-1zM305 308h1v1h-1zM46 309h1v1h-1zM94 309h1v1h-1zM28 310h1v1h-1zM296 310h1v1h-1zM37 311h1v1h-1zM39 311h1v1h-1zM44 311h1v1h-1zM51 311h1v1h-1zM143 311h1v1h-1zM157 311h1v1h-1zM211 311h1v1h-1zM228 311h1v1h-1zM251 311h1v1h-1zM28 312h1v1h-1zM129 312h1v1h-1zM173 312h1v1h-1zM42 313h1v1h-1zM89 313h1v1h-1zM134 313h1v1h-1zM208 314h1v1h-1zM320 314h1v1h-1zM340 314h1v1h-1zM19 315h1v1h-1zM53 315h1v1h-1zM55 315h1v1h-1zM103 315h1v1h-1zM117 315h1v1h-1zM180 315h1v1h-1zM275 315h1v1h-1zM195 316h1v1h-1zM237 316h1v1h-1zM51 318h1v1h-1zM62 318h1v1h-1zM89 318h1v1h-1zM109 318h1v1h-1zM129 318h1v1h-1zM164 318h1v1h-1zM277 318h1v1h-1zM280 318h1v1h-1zM117 319h1v1h-1zM320 319h1v1h-1zM344 319h1v1h-1zM377 319h1v1h-1zM1 320h1v1h-1zM19 320h1v1h-1zM27 320h1v1h-1zM34 320h1v1h-1zM54 320h1v1h-1zM57 320h1v1h-1zM94 320h1v1h-1zM117 320h1v1h-1zM121 320h2v1h-2zM130 320h1v1h-1zM132 320h1v1h-1zM134 320h1v1h-1zM178 320h1v1h-1zM183 320h1v1h-1zM187 320h1v1h-1zM299 320h1v1h-1zM305 320h1v1h-1zM307 320h1v1h-1zM314 320h1v1h-1zM319 320h1v1h-1zM375 320h1v1h-1zM50 321h1v1h-1zM192 321h1v1h-1zM335 321h1v1h-1zM85 322h1v1h-1zM158 322h1v1h-1zM186 322h1v1h-1zM224 322h1v1h-1zM273 322h1v1h-1zM53 323h1v1h-1zM220 324h1v1h-1zM62 326h1v1h-1zM150 326h1v1h-1zM172 326h1v1h-1zM199 326h1v1h-1zM47 327h1v1h-1zM94 327h1v1h-1zM103 327h1v1h-1zM109 327h1v1h-1zM129 327h2v1h-2zM143 327h1v1h-1zM166 327h1v1h-1zM225 327h1v1h-1zM390 327h1v1h-1zM94 328h1v1h-1zM120 328h1v1h-1zM167 328h1v1h-1zM181 328h1v1h-1zM186 328h1v1h-1zM342 328h1v1h-1zM365 328h1v1h-1zM376 328h1v1h-1zM27 329h1v1h-1zM135 329h1v1h-1zM333 329h1v1h-1zM133 331h1v1h-1zM162 331h1v1h-1zM235 331h1v1h-1zM359 331h1v1h-1zM68 332h1v1h-1zM88 332h1v1h-1zM224 332h1v1h-1zM289 332h1v1h-1zM329 333h1v1h-1zM132 334h1v1h-1zM173 334h2v1h-2zM180 334h1v1h-1zM190 334h1v1h-1zM224 334h1v1h-1zM84 335h1v1h-1zM141 335h1v1h-1zM145 335h1v1h-1zM321 335h1v1h-1zM354 335h1v1h-1zM368 335h1v1h-1zM85 336h1v1h-1zM281 336h1v1h-1zM49 337h1v1h-1zM94 337h1v1h-1zM106 337h1v1h-1zM111 337h1v1h-1zM132 337h1v1h-1zM135 337h1v1h-1zM138 337h1v1h-1zM141 337h1v1h-1zM172 337h1v1h-1zM358 337h1v1h-1zM18 338h1v1h-1zM364 338h1v1h-1zM390 338h1v1h-1zM84 339h1v1h-1zM181 339h1v1h-1zM0 340h1v1h-1zM89 340h1v1h-1zM142 340h1v1h-1zM150 340h1v1h-1zM156 340h1v1h-1zM176 340h1v1h-1zM235 340h1v1h-1zM314 340h1v1h-1zM365 340h1v1h-1zM129 342h1v1h-1zM328 342h1v1h-1zM68 343h1v1h-1zM85 343h1v1h-1zM128 343h1v1h-1zM132 343h1v1h-1zM183 343h2v1h-2zM16 344h1v1h-1zM19 344h1v1h-1zM39 344h1v1h-1zM50 344h1v1h-1zM70 344h1v1h-1zM76 344h1v1h-1zM85 344h1v1h-1zM121 344h1v1h-1zM128 344h1v1h-1zM131 344h1v1h-1zM211 344h1v1h-1zM218 344h1v1h-1zM278 344h1v1h-1zM319 344h1v1h-1zM347 344h1v1h-1zM376 344h1v1h-1zM387 344h1v1h-1zM128 346h1v1h-1zM150 346h1v1h-1zM251 346h1v1h-1zM254 346h1v1h-1zM274 346h1v1h-1zM86 347h1v1h-1zM136 347h1v1h-1zM163 347h1v1h-1zM344 347h1v1h-1zM27 348h1v1h-1zM220 348h1v1h-1zM257 348h1v1h-1zM141 349h1v1h-1zM298 349h1v1h-1zM365 349h1v1h-1zM87 350h1v1h-1zM94 350h1v1h-1zM105 350h1v1h-1zM108 350h1v1h-1zM164 350h1v1h-1zM182 350h1v1h-1zM296 350h1v1h-1zM36 351h1v1h-1zM94 351h1v1h-1zM141 351h1v1h-1zM143 351h1v1h-1zM150 351h1v1h-1zM237 351h1v1h-1zM77 353h1v1h-1zM94 353h1v1h-1zM105 353h1v1h-1zM131 353h1v1h-1zM207 353h1v1h-1zM288 353h1v1h-1zM8 354h1v1h-1zM204 354h1v1h-1zM274 354h1v1h-1zM335 354h1v1h-1zM244 355h1v1h-1zM285 355h1v1h-1zM364 356h1v1h-1zM11 358h1v1h-1zM15 358h1v1h-1zM122 358h1v1h-1zM149 358h1v1h-1zM156 358h1v1h-1zM158 358h1v1h-1zM337 358h1v1h-1zM361 358h1v1h-1zM60 359h1v1h-1zM72 359h1v1h-1zM101 359h1v1h-1zM132 359h1v1h-1zM153 359h1v1h-1zM203 359h1v1h-1zM331 359h1v1h-1zM206 361h1v1h-1zM358 361h1v1h-1zM3 362h1v1h-1zM15 362h1v1h-1zM19 362h1v1h-1zM50 362h1v1h-1zM184 362h1v1h-1zM265 362h1v1h-1zM21 363h1v1h-1zM145 363h1v1h-1zM163 363h1v1h-1zM251 363h1v1h-1zM9 364h1v1h-1zM16 364h1v1h-1zM19 364h1v1h-1zM70 364h1v1h-1zM78 364h1v1h-1zM94 364h1v1h-1zM106 364h1v1h-1zM117 364h1v1h-1zM150 364h1v1h-1zM156 364h1v1h-1zM170 364h1v1h-1zM188 364h1v1h-1zM192 364h1v1h-1zM204 364h1v1h-1zM219 364h1v1h-1zM274 364h1v1h-1zM289 364h1v1h-1zM338 364h1v1h-1zM356 364h1v1h-1zM365 364h1v1h-1zM388 364h1v1h-1zM50 365h1v1h-1zM52 365h1v1h-1zM74 365h1v1h-1zM76 365h1v1h-1zM130 365h1v1h-1zM166 365h1v1h-1zM293 365h1v1h-1zM328 365h1v1h-1zM340 365h1v1h-1zM349 365h1v1h-1zM364 365h1v1h-1zM85 366h1v1h-1zM72 367h1v1h-1zM157 367h1v1h-1zM55 368h1v1h-1zM105 368h1v1h-1zM180 368h1v1h-1zM185 368h1v1h-1zM235 368h1v1h-1zM277 368h1v1h-1zM284 368h1v1h-1zM335 368h1v1h-1zM373 368h1v1h-1zM30 369h2v1h-2zM67 369h1v1h-1zM94 369h1v1h-1zM150 369h1v1h-1zM173 369h1v1h-1zM186 369h1v1h-1zM280 369h1v1h-1zM370 369h1v1h-1zM27 370h1v1h-1zM40 370h1v1h-1zM84 370h1v1h-1zM107 370h1v1h-1zM160 370h1v1h-1zM181 370h1v1h-1zM200 370h1v1h-1zM369 370h1v1h-1zM19 371h1v1h-1zM303 371h1v1h-1zM19 373h1v1h-1zM22 373h1v1h-1zM27 373h1v1h-1zM34 373h1v1h-1zM142 373h1v1h-1zM224 373h1v1h-1zM261 373h1v1h-1zM368 373h1v1h-1zM85 374h1v1h-1zM188 374h1v1h-1zM224 374h1v1h-1zM20 375h1v1h-1zM26 375h1v1h-1zM126 375h1v1h-1zM320 375h1v1h-1zM28 376h1v1h-1zM61 376h1v1h-1zM94 376h1v1h-1zM328 376h1v1h-1zM344 376h1v1h-1zM68 377h1v1h-1zM190 377h1v1h-1zM319 377h1v1h-1zM290 379h1v1h-1zM93 380h1v1h-1zM131 380h1v1h-1zM174 380h1v1h-1zM200 380h1v1h-1zM213 380h1v1h-1zM284 380h1v1h-1zM39 382h1v1h-1zM59 382h1v1h-1zM63 382h1v1h-1zM155 382h1v1h-1zM175 382h1v1h-1zM235 382h1v1h-1zM390 382h1v1h-1zM84 383h1v1h-1zM197 384h1v1h-1zM103 385h1v1h-1zM129 385h1v1h-1zM224 385h1v1h-1zM344 387h1v1h-1zM37 388h1v1h-1zM74 388h1v1h-1zM151 388h1v1h-1zM364 388h1v1h-1zM300 389h1v1h-1zM27 390h1v1h-1zM48 390h1v1h-1zM62 390h1v1h-1zM72 390h2v1h-2zM81 390h1v1h-1zM85 390h1v1h-1zM90 390h1v1h-1zM96 390h1v1h-1zM112 390h1v1h-1zM117 390h1v1h-1zM121 390h2v1h-2zM129 390h1v1h-1zM152 390h1v1h-1zM186 390h1v1h-1zM193 390h1v1h-1zM211 390h1v1h-1zM216 390h1v1h-1zM237 390h1v1h-1zM250 390h1v1h-1zM257 390h1v1h-1zM274 390h1v1h-1zM304 390h1v1h-1zM327 390h1v1h-1zM338 390h1v1h-1zM382 390h1v1h-1z"/>
<path fill="#00f" d="M126 0h1v1h-1zM188 0h1v1h-1zM376 0h1v1h-1zM135 1h1v1h-1zM311 1h1v1h-1zM121 3h1v1h-1zM380 4h1v1h-1zM94 6h1v1h-1zM99 6h1v1h-1zM198 7h1v1h-1zM74 10h1v1h-1zM364 10h1v1h-1zM64 14h1v1h-1zM294 14h1v1h-1zM138 15h1v1h-1zM151 15h1v1h-1zM224 15h1v1h-1zM258 15h1v1h-1zM307 15h1v1h-1zM141 16h1v1h-1zM290 16h1v1h-1zM44 18h1v1h-1zM85 18h1v1h-1zM284 18h1v1h-1zM78 19h1v1h-1zM113 19h1v1h-1zM117 19h1v1h-1zM143 19h1v1h-1zM247 19h1v1h-1zM254 19h1v1h-1zM274 19h1v1h-1zM369 19h1v1h-1zM390 21h1v1h-1zM78 24h1v1h-1zM84 24h1v1h-1zM117 24h1v1h-1zM37 27h1v1h-1zM84 27h1v1h-1zM244 27h1v1h-1zM298 27h1v1h-1zM346 27h1v1h-1zM353 27h1v1h-1zM68 28h1v1h-1zM195 28h1v1h-1zM265 28h1v1h-1zM303 28h1v1h-1zM305 28h1v1h-1zM218 29h1v1h-1zM259 29h1v1h-1zM39 30h1v1h-1zM71 30h1v1h-1zM224 30h1v1h-1zM258 30h1v1h-1zM333 30h1v1h-1zM377 30h1v1h-1zM290 31h1v1h-1zM320 31h1v1h-1zM390 31h1v1h-1zM77 32h1v1h-1zM315 34h1v1h-1zM63 35h1v1h-1zM175 35h1v1h-1zM224 35h1v1h-1zM257 35h1v1h-1zM62 36h1v1h-1zM98 36h1v1h-1zM237 36h1v1h-1zM27 37h1v1h-1zM154 37h1v1h-1zM185 37h1v1h-1zM85 38h1v1h-1zM258 38h1v1h-1zM356 38h1v1h-1zM30 39h1v1h-1zM94 39h1v1h-1zM117 39h1v1h-1zM151 39h1v1h-1zM305 39h1v1h-1zM334 39h1v1h-1zM355 39h1v1h-1zM94 41h1v1h-1zM98 41h1v1h-1zM281 42h1v1h-1zM344 43h1v1h-1zM18 44h1v1h-1zM259 44h1v1h-1zM327 44h1v1h-1zM364 44h1v1h-1zM368 45h1v1h-1zM246 47h1v1h-1zM289 47h1v1h-1zM364 48h1v1h-1zM105 50h1v1h-1zM164 50h1v1h-1zM246 50h1v1h-1zM111 51h1v1h-1zM131 51h1v1h-1zM244 51h1v1h-1zM284 51h1v1h-1zM235 53h1v1h-1zM287 53h1v1h-1zM224 54h1v1h-1zM331 54h1v1h-1zM373 55h1v1h-1zM156 57h1v1h-1zM344 57h1v1h-1zM363 57h1v1h-1zM331 58h1v1h-1zM344 59h1v1h-1zM195 60h1v1h-1zM274 60h1v1h-1zM290 60h1v1h-1zM318 60h1v1h-1zM369 60h1v1h-1zM377 61h1v1h-1zM36 62h1v1h-1zM129 62h1v1h-1zM254 62h1v1h-1zM267 62h1v1h-1zM35 63h1v1h-1zM14 64h1v1h-1zM274 64h1v1h-1zM311 64h1v1h-1zM117 67h1v1h-1zM160 67h1v1h-1zM28 68h1v1h-1zM196 68h1v1h-1zM274 68h1v1h-1zM276 68h1v1h-1zM298 68h1v1h-1zM172 69h1v1h-1zM88 70h1v1h-1zM112 70h1v1h-1zM115 70h1v1h-1zM126 70h1v1h-1zM156 70h1v1h-1zM252 70h1v1h-1zM315 70h1v1h-1zM322 70h1v1h-1zM333 70h1v1h-1zM30 71h1v1h-1zM73 71h1v1h-1zM88 71h1v1h-1zM303 71h1v1h-1zM320 71h1v1h-1zM115 72h1v1h-1zM71 73h1v1h-1zM156 73h1v1h-1zM178 73h1v1h-1zM298 73h1v1h-1zM359 73h1v1h-1zM10 74h1v1h-1zM91 74h1v1h-1zM97 74h1v1h-1zM305 74h1v1h-1zM105 76h1v1h-1zM351 76h1v1h-1zM32 77h1v1h-1zM172 77h1v1h-1zM275 77h1v1h-1zM19 78h1v1h-1zM24 78h1v1h-1zM85 78h1v1h-1zM99 78h1v1h-1zM126 78h1v1h-1zM129 78h1v1h-1zM150 78h1v1h-1zM340 78h1v1h-1zM354 78h1v1h-1zM383 78h1v1h-1zM390 78h1v1h-1zM172 79h1v1h-1zM94 80h1v1h-1zM307 80h1v1h-1zM346 80h1v1h-1zM94 81h1v1h-1zM150 81h1v1h-1zM327 81h1v1h-1zM85 82h1v1h-1zM123 82h1v1h-1zM146 82h1v1h-1zM261 82h1v1h-1zM327 82h1v1h-1zM343 82h1v1h-1zM390 82h1v1h-1zM24 84h1v1h-1zM27 84h1v1h-1zM105 84h1v1h-1zM119 84h2v1h-2zM122 84h1v1h-1zM129 84h1v1h-1zM362 84h1v1h-1zM18 85h1v1h-1zM38 85h1v1h-1zM78 85h1v1h-1zM82 85h1v1h-1zM88 85h1v1h-1zM156 85h1v1h-1zM224 85h1v1h-1zM250 85h1v1h-1zM273 85h1v1h-1zM284 85h1v1h-1zM291 85h1v1h-1zM311 85h1v1h-1zM369 85h1v1h-1zM344 86h1v1h-1zM303 87h1v1h-1zM351 87h1v1h-1zM70 88h2v1h-2zM85 88h1v1h-1zM168 89h1v1h-1zM364 89h1v1h-1zM389 89h1v1h-1zM74 91h1v1h-1zM284 91h1v1h-1zM327 91h1v1h-1zM211 92h1v1h-1zM303 92h1v1h-1zM244 93h1v1h-1zM6 94h1v1h-1zM39 94h1v1h-1zM41 94h1v1h-1zM80 94h2v1h-2zM95 94h1v1h-1zM140 94h1v1h-1zM194 94h1v1h-1zM224 94h1v1h-1zM244 94h1v1h-1zM247 94h1v1h-1zM258 94h1v1h-1zM280 94h1v1h-1zM284 94h1v1h-1zM290 94h1v1h-1zM308 94h1v1h-1zM318 94h1v1h-1zM357 94h1v1h-1zM94 95h1v1h-1zM74 97h1v1h-1zM36 98h1v1h-1zM41 98h1v1h-1zM124 98h1v1h-1zM141 98h1v1h-1zM6 99h1v1h-1zM78 99h1v1h-1zM183 100h1v1h-1zM281 101h1v1h-1zM178 103h1v1h-1zM294 103h1v1h-1zM322 103h1v1h-1zM338 103h1v1h-1zM299 104h1v1h-1zM50 105h1v1h-1zM76 105h1v1h-1zM84 105h1v1h-1zM129 105h1v1h-1zM150 105h1v1h-1zM157 105h1v1h-1zM258 105h1v1h-1zM277 105h1v1h-1zM280 105h1v1h-1zM284 105h1v1h-1zM354 105h1v1h-1zM390 105h1v1h-1zM142 106h1v1h-1zM319 108h1v1h-1zM116 109h1v1h-1zM129 109h1v1h-1zM166 110h1v1h-1zM344 110h1v1h-1zM51 111h1v1h-1zM232 111h1v1h-1zM319 111h1v1h-1zM70 112h1v1h-1zM19 113h1v1h-1zM116 113h1v1h-1zM157 113h1v1h-1zM300 113h1v1h-1zM70 115h1v1h-1zM72 115h1v1h-1zM138 115h1v1h-1zM290 115h1v1h-1zM320 115h1v1h-1zM109 116h1v1h-1zM113 116h1v1h-1zM183 116h1v1h-1zM210 116h1v1h-1zM19 117h1v1h-1zM24 117h1v1h-1zM39 117h1v1h-1zM67 117h1v1h-1zM151 117h1v1h-1zM211 117h1v1h-1zM213 117h1v1h-1zM273 117h1v1h-1zM341 117h1v1h-1zM84 119h1v1h-1zM84 120h1v1h-1zM126 120h1v1h-1zM190 120h1v1h-1zM204 120h1v1h-1zM320 120h1v1h-1zM365 120h1v1h-1zM3 121h1v1h-1zM84 122h1v1h-1zM207 122h1v1h-1zM230 122h1v1h-1zM278 122h1v1h-1zM284 122h1v1h-1zM339 122h1v1h-1zM82 123h1v1h-1zM98 124h1v1h-1zM141 124h1v1h-1zM127 125h1v1h-1zM197 125h1v1h-1zM290 125h1v1h-1zM0 126h1v1h-1zM70 126h1v1h-1zM78 126h1v1h-1zM120 126h1v1h-1zM153 126h1v1h-1zM172 126h1v1h-1zM261 126h1v1h-1zM385 126h1v1h-1zM125 127h1v1h-1zM206 127h1v1h-1zM364 128h1v1h-1zM62 129h1v1h-1zM78 129h1v1h-1zM84 129h1v1h-1zM105 129h1v1h-1zM109 129h1v1h-1zM203 129h1v1h-1zM244 129h1v1h-1zM258 129h1v1h-1zM298 129h1v1h-1zM313 129h1v1h-1zM343 129h1v1h-1zM369 129h1v1h-1zM373 129h1v1h-1zM277 130h1v1h-1zM364 130h1v1h-1zM369 130h1v1h-1zM51 131h1v1h-1zM134 131h1v1h-1zM145 131h1v1h-1zM193 132h1v1h-1zM319 132h1v1h-1zM381 132h1v1h-1zM173 133h1v1h-1zM131 134h1v1h-1zM164 134h1v1h-1zM1 135h1v1h-1zM265 136h1v1h-1zM369 136h1v1h-1zM380 136h1v1h-1zM248 137h1v1h-1zM15 138h1v1h-1zM115 138h1v1h-1zM94 140h1v1h-1zM16 141h1v1h-1zM98 141h1v1h-1zM124 141h1v1h-1zM150 141h1v1h-1zM276 141h2v1h-2zM347 141h1v1h-1zM369 141h2v1h-2zM106 142h1v1h-1zM179 142h1v1h-1zM224 142h1v1h-1zM247 142h1v1h-1zM19 143h1v1h-1zM131 145h1v1h-1zM166 145h1v1h-1zM362 145h1v1h-1zM82 146h1v1h-1zM308 147h1v1h-1zM298 148h1v1h-1zM254 149h1v1h-1zM284 149h1v1h-1zM320 149h1v1h-1zM78 150h1v1h-1zM81 150h1v1h-1zM105 150h1v1h-1zM141 150h1v1h-1zM162 150h1v1h-1zM164 150h1v1h-1zM172 150h1v1h-1zM191 150h1v1h-1zM203 150h1v1h-1zM235 150h1v1h-1zM258 150h1v1h-1zM268 150h1v1h-1zM309 150h1v1h-1zM313 150h1v1h-1zM331 150h1v1h-1zM339 150h1v1h-1zM368 150h1v1h-1zM15 151h1v1h-1zM39 151h1v1h-1zM117 151h1v1h-1zM181 151h1v1h-1zM207 151h1v1h-1zM305 151h1v1h-1zM311 152h1v1h-1zM126 153h1v1h-1zM340 153h1v1h-1zM367 153h1v1h-1zM37 154h1v1h-1zM289 154h1v1h-1zM351 154h1v1h-1zM358 154h1v1h-1zM224 155h1v1h-1zM256 155h1v1h-1zM57 156h1v1h-1zM70 156h1v1h-1zM73 156h1v1h-1zM85 156h1v1h-1zM175 156h1v1h-1zM285 156h1v1h-1zM297 156h1v1h-1zM368 156h1v1h-1zM389 156h1v1h-1zM105 157h1v1h-1zM113 157h1v1h-1zM302 157h1v1h-1zM233 158h1v1h-1zM67 160h1v1h-1zM175 160h1v1h-1zM343 160h1v1h-1zM247 161h1v1h-1zM343 161h1v1h-1zM150 162h1v1h-1zM50 164h1v1h-1zM134 164h1v1h-1zM150 164h1v1h-1zM340 164h1v1h-1zM369 164h1v1h-1zM257 165h1v1h-1zM110 166h1v1h-1zM145 166h1v1h-1zM181 166h1v1h-1zM316 166h1v1h-1zM318 166h1v1h-1zM89 168h1v1h-1zM247 168h1v1h-1zM69 172h1v1h-1zM77 172h1v1h-1zM79 172h1v1h-1zM126 172h1v1h-1zM150 172h1v1h-1zM232 172h1v1h-1zM244 172h1v1h-1zM302 172h1v1h-1zM387 172h1v1h-1zM390 172h1v1h-1zM133 173h1v1h-1zM288 174h1v1h-1zM35 175h1v1h-1zM156 175h1v1h-1zM160 175h1v1h-1zM193 175h2v1h-2zM244 175h1v1h-1zM290 175h1v1h-1zM179 176h1v1h-1zM344 176h1v1h-1zM73 178h1v1h-1zM103 178h1v1h-1zM370 178h1v1h-1zM142 179h1v1h-1zM176 179h1v1h-1zM205 180h1v1h-1zM286 180h1v1h-1zM151 181h1v1h-1zM166 181h1v1h-1zM256 182h1v1h-1zM272 182h1v1h-1zM100 183h1v1h-1zM116 183h1v1h-1zM344 183h1v1h-1zM354 183h1v1h-1zM382 183h1v1h-1zM244 184h1v1h-1zM342 184h1v1h-1zM364 184h1v1h-1zM371 184h1v1h-1zM37 185h1v1h-1zM224 185h1v1h-1zM284 186h1v1h-1zM355 186h1v1h-1zM0 188h1v1h-1zM224 188h1v1h-1zM375 188h1v1h-1zM390 188h1v1h-1zM257 189h1v1h-1zM341 189h1v1h-1zM120 190h1v1h-1zM276 190h1v1h-1zM150 191h1v1h-1zM235 192h1v1h-1zM132 193h1v1h-1zM175 193h1v1h-1zM224 193h2v1h-2zM306 193h1v1h-1zM94 194h1v1h-1zM175 194h1v1h-1zM244 194h1v1h-1zM28 195h1v1h-1zM60 195h1v1h-1zM68 196h1v1h-1zM125 197h1v1h-1zM7 198h1v1h-1zM217 199h1v1h-1zM245 199h1v1h-1zM129 203h1v1h-1zM150 203h1v1h-1zM224 203h1v1h-1zM277 203h1v1h-1zM287 203h1v1h-1zM290 203h1v1h-1zM369 203h2v1h-2zM390 203h1v1h-1zM120 204h1v1h-1zM180 205h1v1h-1zM254 205h1v1h-1zM359 205h1v1h-1zM127 206h1v1h-1zM122 207h1v1h-1zM151 207h1v1h-1zM257 207h1v1h-1zM363 209h1v1h-1zM116 210h1v1h-1zM92 211h1v1h-1zM117 211h1v1h-1zM244 211h1v1h-1zM249 211h1v1h-1zM287 212h1v1h-1zM117 213h1v1h-1zM235 213h1v1h-1zM290 213h1v1h-1zM224 214h1v1h-1zM354 214h1v1h-1zM199 217h1v1h-1zM29 218h1v1h-1zM282 220h1v1h-1zM15 224h1v1h-1zM30 224h1v1h-1zM35 224h1v1h-1zM54 224h1v1h-1zM85 224h1v1h-1zM94 224h1v1h-1zM142 224h1v1h-1zM155 224h1v1h-1zM185 224h1v1h-1zM188 224h1v1h-1zM193 224h1v1h-1zM203 224h1v1h-1zM214 224h1v1h-1zM235 224h1v1h-1zM248 224h1v1h-1zM285 224h1v1h-1zM320 224h1v1h-1zM344 224h1v1h-1zM359 224h1v1h-1zM390 224h1v1h-1zM193 225h1v1h-1zM307 225h1v1h-1zM268 226h1v1h-1zM235 227h1v1h-1zM276 227h1v1h-1zM340 228h1v1h-1zM122 230h1v1h-1zM111 232h1v1h-1zM172 232h1v1h-1zM158 233h1v1h-1zM390 233h1v1h-1zM246 234h1v1h-1zM337 234h1v1h-1zM369 234h1v1h-1zM53 235h1v1h-1zM150 235h1v1h-1zM192 235h1v1h-1zM213 235h1v1h-1zM224 235h1v1h-1zM227 235h1v1h-1zM261 235h1v1h-1zM280 235h1v1h-1zM282 235h1v1h-1zM320 235h1v1h-1zM361 235h1v1h-1zM36 237h1v1h-1zM373 237h1v1h-1zM274 242h1v1h-1zM27 244h1v1h-1zM51 244h1v1h-1zM93 244h2v1h-2zM129 244h1v1h-1zM172 244h1v1h-1zM175 244h1v1h-1zM184 244h1v1h-1zM194 244h1v1h-1zM211 244h1v1h-1zM271 244h1v1h-1zM305 244h1v1h-1zM320 244h1v1h-1zM358 244h1v1h-1zM199 245h1v1h-1zM47 246h1v1h-1zM50 246h1v1h-1zM234 246h1v1h-1zM252 246h1v1h-1zM320 246h1v1h-1zM324 246h1v1h-1zM378 246h1v1h-1zM19 247h1v1h-1zM94 247h1v1h-1zM142 247h1v1h-1zM161 247h1v1h-1zM168 247h1v1h-1zM254 247h1v1h-1zM256 247h1v1h-1zM314 247h1v1h-1zM370 247h1v1h-1zM137 248h1v1h-1zM224 248h1v1h-1zM290 248h1v1h-1zM211 249h1v1h-1zM254 249h1v1h-1zM85 250h1v1h-1zM327 250h1v1h-1zM259 251h1v1h-1zM70 252h1v1h-1zM246 252h1v1h-1zM265 252h1v1h-1zM355 252h1v1h-1zM319 253h1v1h-1zM19 254h1v1h-1zM62 254h1v1h-1zM149 254h1v1h-1zM205 254h1v1h-1zM247 254h1v1h-1zM249 254h1v1h-1zM274 254h1v1h-1zM290 254h1v1h-1zM155 256h1v1h-1zM182 256h1v1h-1zM247 256h1v1h-1zM259 256h1v1h-1zM347 256h1v1h-1zM35 257h1v1h-1zM165 257h1v1h-1zM189 257h1v1h-1zM207 257h1v1h-1zM320 257h1v1h-1zM15 258h1v1h-1zM30 258h1v1h-1zM38 258h1v1h-1zM94 258h1v1h-1zM105 258h1v1h-1zM129 258h1v1h-1zM150 258h1v1h-1zM268 258h1v1h-1zM303 258h1v1h-1zM320 258h1v1h-1zM348 258h1v1h-1zM29 259h1v1h-1zM44 259h1v1h-1zM251 259h1v1h-1zM256 259h1v1h-1zM277 259h1v1h-1zM283 259h1v1h-1zM273 260h1v1h-1zM82 261h1v1h-1zM126 261h1v1h-1zM235 261h1v1h-1zM299 261h1v1h-1zM305 261h1v1h-1zM337 262h1v1h-1zM318 264h1v1h-1zM28 265h1v1h-1zM136 265h1v1h-1zM252 265h1v1h-1zM267 265h1v1h-1zM373 266h1v1h-1zM62 267h1v1h-1zM265 267h1v1h-1zM362 267h1v1h-1zM373 267h1v1h-1zM380 267h1v1h-1zM150 268h1v1h-1zM226 268h1v1h-1zM258 268h1v1h-1zM278 268h1v1h-1zM280 268h1v1h-1zM244 271h1v1h-1zM182 272h1v1h-1zM85 273h1v1h-1zM117 273h1v1h-1zM260 273h1v1h-1zM332 273h1v1h-1zM19 274h1v1h-1zM60 274h1v1h-1zM64 274h1v1h-1zM68 274h1v1h-1zM242 274h1v1h-1zM254 274h1v1h-1zM376 274h1v1h-1zM77 275h1v1h-1zM304 275h1v1h-1zM363 275h1v1h-1zM68 276h1v1h-1zM141 276h1v1h-1zM190 276h1v1h-1zM227 276h1v1h-1zM294 276h1v1h-1zM305 276h1v1h-1zM105 277h1v1h-1zM130 277h1v1h-1zM141 277h1v1h-1zM203 277h1v1h-1zM259 277h1v1h-1zM307 277h1v1h-1zM362 277h1v1h-1zM122 278h1v1h-1zM268 278h1v1h-1zM390 278h1v1h-1zM94 280h1v1h-1zM105 280h1v1h-1zM235 280h1v1h-1zM268 280h1v1h-1zM326 280h1v1h-1zM42 281h1v1h-1zM101 281h1v1h-1zM320 281h2v1h-2zM220 282h1v1h-1zM235 282h1v1h-1zM259 283h1v1h-1zM348 283h1v1h-1zM18 284h1v1h-1zM51 284h1v1h-1zM85 284h1v1h-1zM91 284h1v1h-1zM94 284h1v1h-1zM105 284h1v1h-1zM122 284h1v1h-1zM149 284h1v1h-1zM186 284h1v1h-1zM156 285h1v1h-1zM224 285h1v1h-1zM180 286h1v1h-1zM53 287h1v1h-1zM203 287h1v1h-1zM212 287h1v1h-1zM343 287h1v1h-1zM174 288h1v1h-1zM47 289h1v1h-1zM154 289h1v1h-1zM355 289h1v1h-1zM16 290h1v1h-1zM31 290h1v1h-1zM60 290h1v1h-1zM94 290h1v1h-1zM115 290h1v1h-1zM125 290h1v1h-1zM175 290h1v1h-1zM203 290h1v1h-1zM213 290h1v1h-1zM248 290h1v1h-1zM254 290h1v1h-1zM320 290h1v1h-1zM363 290h1v1h-1zM85 291h1v1h-1zM292 291h1v1h-1zM291 292h1v1h-1zM320 293h1v1h-1zM14 294h1v1h-1zM103 294h1v1h-1zM276 294h1v1h-1zM300 294h1v1h-1zM307 294h1v1h-1zM156 297h1v1h-1zM27 298h1v1h-1zM68 298h1v1h-1zM73 298h1v1h-1zM129 298h1v1h-1zM148 298h1v1h-1zM334 298h1v1h-1zM344 298h1v1h-1zM104 299h1v1h-1zM261 299h1v1h-1zM113 300h1v1h-1zM294 300h1v1h-1zM157 302h1v1h-1zM172 302h1v1h-1zM28 303h1v1h-1zM71 303h1v1h-1zM87 303h1v1h-1zM92 303h1v1h-1zM258 303h1v1h-1zM344 303h1v1h-1zM373 303h1v1h-1zM275 304h1v1h-1zM28 305h1v1h-1zM39 305h1v1h-1zM74 305h1v1h-1zM151 305h1v1h-1zM244 305h1v1h-1zM261 305h1v1h-1zM276 305h1v1h-1zM356 305h1v1h-1zM390 305h1v1h-1zM193 306h1v1h-1zM15 307h1v1h-1zM80 307h1v1h-1zM225 307h1v1h-1zM277 307h1v1h-1zM294 307h1v1h-1zM94 308h1v1h-1zM147 308h1v1h-1zM150 309h1v1h-1zM359 309h1v1h-1zM354 310h1v1h-1zM1 311h1v1h-1zM64 311h1v1h-1zM85 311h1v1h-1zM152 311h1v1h-1zM129 313h1v1h-1zM150 313h1v1h-1zM247 314h1v1h-1zM370 314h1v1h-1zM34 315h1v1h-1zM70 315h1v1h-1zM166 316h1v1h-1zM60 318h1v1h-1zM94 318h1v1h-1zM166 318h1v1h-1zM264 318h1v1h-1zM108 319h1v1h-1zM111 319h1v1h-1zM132 319h1v1h-1zM253 319h1v1h-1zM31 320h1v1h-1zM71 320h1v1h-1zM115 320h1v1h-1zM120 320h1v1h-1zM149 320h1v1h-1zM224 320h1v1h-1zM235 320h1v1h-1zM244 320h1v1h-1zM246 320h1v1h-1zM257 320h2v1h-2zM281 320h1v1h-1zM290 320h1v1h-1zM293 320h1v1h-1zM340 320h1v1h-1zM364 320h1v1h-1zM368 320h1v1h-1zM370 320h1v1h-1zM281 321h1v1h-1zM70 322h1v1h-1zM103 322h1v1h-1zM329 322h1v1h-1zM390 322h1v1h-1zM374 323h1v1h-1zM246 324h1v1h-1zM344 325h1v1h-1zM280 326h1v1h-1zM44 327h1v1h-1zM81 327h2v1h-2zM91 327h1v1h-1zM250 327h1v1h-1zM347 328h1v1h-1zM322 329h1v1h-1zM54 331h1v1h-1zM58 331h1v1h-1zM150 331h1v1h-1zM333 331h1v1h-1zM273 332h1v1h-1zM30 333h1v1h-1zM70 333h1v1h-1zM331 333h1v1h-1zM344 333h1v1h-1zM39 334h1v1h-1zM298 334h1v1h-1zM362 335h1v1h-1zM234 337h1v1h-1zM262 337h1v1h-1zM359 337h1v1h-1zM103 338h1v1h-1zM122 339h1v1h-1zM150 339h1v1h-1zM78 340h1v1h-1zM153 340h1v1h-1zM164 340h1v1h-1zM228 340h1v1h-1zM320 340h1v1h-1zM364 340h1v1h-1zM117 341h1v1h-1zM189 341h1v1h-1zM184 342h1v1h-1zM355 342h1v1h-1zM82 343h1v1h-1zM129 343h1v1h-1zM160 343h2v1h-2zM287 343h1v1h-1zM43 344h1v1h-1zM57 344h1v1h-1zM59 344h1v1h-1zM86 344h1v1h-1zM110 344h1v1h-1zM176 344h1v1h-1zM183 344h1v1h-1zM224 344h1v1h-1zM298 344h1v1h-1zM303 344h1v1h-1zM325 344h1v1h-1zM333 344h1v1h-1zM373 344h1v1h-1zM390 344h1v1h-1zM384 345h1v1h-1zM27 346h1v1h-1zM80 346h1v1h-1zM141 347h1v1h-1zM256 347h1v1h-1zM328 347h1v1h-1zM258 348h1v1h-1zM283 348h1v1h-1zM350 348h1v1h-1zM359 348h1v1h-1zM363 348h1v1h-1zM348 350h1v1h-1zM368 350h1v1h-1zM76 351h1v1h-1zM87 351h1v1h-1zM154 351h1v1h-1zM27 353h1v1h-1zM78 354h1v1h-1zM105 354h1v1h-1zM183 354h1v1h-1zM214 354h1v1h-1zM310 354h1v1h-1zM39 355h1v1h-1zM186 355h1v1h-1zM252 355h1v1h-1zM289 355h1v1h-1zM342 355h1v1h-1zM364 355h1v1h-1zM38 356h1v1h-1zM305 356h1v1h-1zM94 357h1v1h-1zM154 358h1v1h-1zM244 358h1v1h-1zM73 359h1v1h-1zM205 359h1v1h-1zM224 359h1v1h-1zM309 359h1v1h-1zM337 359h1v1h-1zM348 359h1v1h-1zM235 361h1v1h-1zM84 362h1v1h-1zM145 362h1v1h-1zM267 362h1v1h-1zM277 362h1v1h-1zM335 362h1v1h-1zM57 363h1v1h-1zM209 363h1v1h-1zM275 363h1v1h-1zM290 363h1v1h-1zM348 363h1v1h-1zM380 363h1v1h-1zM10 364h1v1h-1zM44 364h1v1h-1zM48 364h1v1h-1zM89 364h1v1h-1zM128 364h1v1h-1zM130 364h1v1h-1zM184 364h1v1h-1zM320 364h1v1h-1zM340 364h1v1h-1zM355 364h1v1h-1zM390 364h1v1h-1zM120 365h1v1h-1zM390 366h1v1h-1zM153 367h1v1h-1zM368 367h1v1h-1zM45 368h1v1h-1zM150 368h1v1h-1zM156 368h1v1h-1zM320 368h1v1h-1zM350 368h1v1h-1zM367 368h1v1h-1zM19 369h1v1h-1zM60 369h1v1h-1zM85 369h1v1h-1zM129 369h2v1h-2zM136 369h1v1h-1zM141 369h1v1h-1zM164 369h1v1h-1zM203 369h1v1h-1zM234 369h1v1h-1zM141 370h1v1h-1zM178 370h1v1h-1zM203 370h1v1h-1zM247 370h1v1h-1zM314 370h1v1h-1zM320 370h1v1h-1zM184 371h1v1h-1zM55 373h1v1h-1zM129 373h1v1h-1zM237 373h1v1h-1zM266 373h2v1h-2zM303 373h1v1h-1zM344 373h1v1h-1zM323 374h1v1h-1zM188 375h1v1h-1zM0 376h1v1h-1zM274 376h1v1h-1zM30 377h1v1h-1zM61 377h1v1h-1zM246 378h1v1h-1zM4 380h1v1h-1zM136 380h1v1h-1zM267 380h1v1h-1zM363 380h1v1h-1zM132 381h1v1h-1zM183 382h1v1h-1zM78 383h1v1h-1zM345 384h1v1h-1zM126 385h1v1h-1zM386 385h1v1h-1zM385 386h1v1h-1zM172 387h1v1h-1zM89 389h1v1h-1zM156 389h1v1h-1zM21 390h1v1h-1zM31 390h1v1h-1zM78 390h1v1h-1zM82 390h1v1h-1zM105 390h1v1h-1zM172 390h1v1h-1zM188 390h1v1h-1zM203 390h1v1h-1zM224 390h1v1h-1zM233 390h1v1h-1zM278 390h1v1h-1zM305 390h1v1h-1zM322 390h1v1h-1zM344 390h1v1h-1zM364 390h1v1h-1zM366 390h1v1h-1z"/>
</g>
<g transform="translate(917.90 1344.30) scale(2.6038)">
<path fill="#000" d="M1 0h7v1h-7zM9 0h1v1h-1zM11 0h1v1h-1zM13 0h2v1h-2zM41 0h1v1h-1zM83 0h1v1h-1zM103 0h1v1h-1zM111 0h1v1h-1zM149 0h1v1h-1zM200 0h1v1h-1zM205 0h1v1h-1zM0 1h1v1h-1zM2 1h1v1h-1zM8 1h3v1h-3zM12 1h2v1h-2zM22 1h1v1h-1zM69 1h1v1h-1zM80 1h1v1h-1zM85 1h1v1h-1zM95 1h1v1h-1zM101 1h1v1h-1zM105 1h1v1h-1zM118 1h1v1h-1zM122 1h1v1h-1zM146 1h1v1h-1zM152 1h1v1h-1zM163 1h1v1h-1zM200 1h1v1h-1zM210 1h1v1h-1zM0 2h2v1h-2zM3 2h6v1h-6zM10 2h4v1h-4zM20 2h1v1h-1zM27 2h1v1h-1zM71 2h1v1h-1zM83 2h1v1h-1zM97 2h1v1h-1zM162 2h1v1h-1zM169 2h1v1h-1zM178 2h1v1h-1zM198 2h1v1h-1zM207 2h1v1h-1zM210 2h2v1h-2zM0 3h1v1h-1zM2 3h1v1h-1zM5 3h5v1h-5zM12 3h1v1h-1zM70 3h1v1h-1zM88 3h1v1h-1zM100 3h1v1h-1zM109 3h1v1h-1zM120 3h1v1h-1zM123 3h1v1h-1zM149 3h1v1h-1zM202 3h1v1h-1zM0 4h1v1h-1zM2 4h1v1h-1zM6 4h1v1h-1zM8 4h1v1h-1zM12 4h1v1h-1zM14 4h1v1h-1zM99 4h1v1h-1zM118 4h1v1h-1zM155 4h1v1h-1zM210 4h1v1h-1zM0 5h1v1h-1zM2 5h2v1h-2zM7 5h1v1h-1zM11 5h4v1h-4zM52 5h1v1h-1zM76 5h1v1h-1zM120 5h1v1h-1zM170 5h1v1h-1zM179 5h1v1h-1zM202 5h1v1h-1zM0 6h1v1h-1zM2 6h3v1h-3zM7 6h1v1h-1zM10 6h2v1h-2zM15 6h1v1h-1zM27 6h1v1h-1zM35 6h1v1h-1zM56 6h1v1h-1zM70 6h2v1h-2zM82 6h1v1h-1zM84 6h1v1h-1zM87 6h1v1h-1zM90 6h1v1h-1zM97 6h1v1h-1zM101 6h1v1h-1zM121 6h1v1h-1zM131 6h1v1h-1zM142 6h1v1h-1zM148 6h1v1h-1zM152 6h2v1h-2zM156 6h1v1h-1zM160 6h1v1h-1zM162 6h1v1h-1zM165 6h1v1h-1zM170 6h1v1h-1zM191 6h1v1h-1zM202 6h1v1h-1zM210 6h1v1h-1zM0 7h1v1h-1zM2 7h2v1h-2zM5 7h2v1h-2zM8 7h4v1h-4zM13 7h2v1h-2zM85 7h1v1h-1zM121 7h1v1h-1zM152 7h1v1h-1zM174 7h1v1h-1zM178 7h1v1h-1zM201 7h1v1h-1zM1 8h4v1h-4zM7 8h1v1h-1zM9 8h5v1h-5zM103 8h1v1h-1zM115 8h1v1h-1zM130 8h1v1h-1zM135 8h1v1h-1zM145 8h1v1h-1zM151 8h2v1h-2zM156 8h1v1h-1zM170 8h1v1h-1zM176 8h1v1h-1zM184 8h1v1h-1zM0 9h2v1h-2zM3 9h1v1h-1zM7 9h2v1h-2zM10 9h3v1h-3zM14 9h1v1h-1zM20 9h1v1h-1zM31 9h1v1h-1zM39 9h1v1h-1zM77 9h1v1h-1zM80 9h1v1h-1zM109 9h1v1h-1zM150 9h1v1h-1zM165 9h1v1h-1zM169 9h1v1h-1zM191 9h1v1h-1zM204 9h1v1h-1zM1 10h2v1h-2zM6 10h4v1h-4zM12 10h1v1h-1zM15 10h1v1h-1zM20 10h1v1h-1zM42 10h1v1h-1zM89 10h1v1h-1zM95 10h1v1h-1zM103 10h1v1h-1zM110 10h1v1h-1zM114 10h1v1h-1zM153 10h1v1h-1zM156 10h1v1h-1zM163 10h1v1h-1zM184 10h1v1h-1zM192 10h2v1h-2zM0 11h1v1h-1zM2 11h1v1h-1zM5 11h5v1h-5zM12 11h3v1h-3zM63 11h1v1h-1zM79 11h1v1h-1zM83 11h1v1h-1zM113 11h1v1h-1zM130 11h1v1h-1zM148 11h1v1h-1zM188 11h1v1h-1zM1 12h5v1h-5zM8 12h4v1h-4zM13 12h2v1h-2zM99 12h1v1h-1zM0 13h3v1h-3zM5 13h1v1h-1zM7 13h2v1h-2zM11 13h2v1h-2zM14 13h1v1h-1zM24 13h1v1h-1zM29 13h1v1h-1zM79 13h1v1h-1zM88 13h1v1h-1zM92 13h1v1h-1zM97 13h1v1h-1zM100 13h1v1h-1zM107 13h1v1h-1zM110 13h1v1h-1zM182 13h2v1h-2zM200 13h2v1h-2zM0 14h1v1h-1zM4 14h2v1h-2zM7 14h1v1h-1zM9 14h1v1h-1zM11 14h3v1h-3zM22 14h1v1h-1zM97 14h1v1h-1zM134 14h1v1h-1zM207 14h1v1h-1zM209 14h1v1h-1zM6 15h1v1h-1zM10 15h1v1h-1zM16 15h8v1h-8zM25 15h1v1h-1zM27 15h6v1h-6zM77 15h1v1h-1zM98 15h1v1h-1zM108 15h1v1h-1zM111 15h1v1h-1zM150 15h1v1h-1zM162 15h1v1h-1zM172 15h1v1h-1zM184 15h1v1h-1zM196 15h1v1h-1zM15 16h1v1h-1zM18 16h3v1h-3zM23 16h2v1h-2zM26 16h2v1h-2zM60 16h1v1h-1zM141 16h1v1h-1zM15 17h1v1h-1zM18 17h1v1h-1zM20 17h13v1h-13zM56 17h1v1h-1zM79 17h1v1h-1zM202 17h1v1h-1zM206 17h1v1h-1zM208 17h1v1h-1zM15 18h3v1h-3zM19 18h1v1h-1zM22 18h7v1h-7zM30 18h2v1h-2zM186 18h1v1h-1zM15 19h2v1h-2zM18 19h1v1h-1zM20 19h5v1h-5zM27 19h1v1h-1zM31 19h2v1h-2zM42 19h1v1h-1zM45 19h1v1h-1zM116 19h1v1h-1zM134 19h1v1h-1zM152 19h1v1h-1zM199 19h1v1h-1zM2 20h1v1h-1zM9 20h2v1h-2zM15 20h3v1h-3zM19 20h1v1h-1zM21 20h1v1h-1zM23 20h4v1h-4zM28 20h3v1h-3zM32 20h1v1h-1zM51 20h1v1h-1zM56 20h1v1h-1zM78 20h1v1h-1zM103 20h1v1h-1zM119 20h1v1h-1zM122 20h1v1h-1zM160 20h1v1h-1zM170 20h1v1h-1zM201 20h1v1h-1zM15 21h1v1h-1zM17 21h1v1h-1zM19 21h2v1h-2zM22 21h1v1h-1zM24 21h6v1h-6zM71 21h1v1h-1zM91 21h1v1h-1zM102 21h1v1h-1zM107 21h1v1h-1zM111 21h1v1h-1zM154 21h1v1h-1zM210 21h1v1h-1zM1 22h1v1h-1zM14 22h2v1h-2zM17 22h3v1h-3zM21 22h1v1h-1zM23 22h7v1h-7zM32 22h1v1h-1zM54 22h1v1h-1zM63 22h1v1h-1zM73 22h1v1h-1zM133 22h1v1h-1zM176 22h1v1h-1zM182 22h1v1h-1zM192 22h1v1h-1zM209 22h1v1h-1zM15 23h6v1h-6zM22 23h1v1h-1zM25 23h3v1h-3zM30 23h1v1h-1zM32 23h1v1h-1zM39 23h1v1h-1zM135 23h1v1h-1zM188 23h1v1h-1zM13 24h1v1h-1zM16 24h7v1h-7zM25 24h2v1h-2zM28 24h2v1h-2zM31 24h2v1h-2zM56 24h1v1h-1zM58 24h1v1h-1zM70 24h1v1h-1zM78 24h1v1h-1zM91 24h1v1h-1zM97 24h1v1h-1zM125 24h1v1h-1zM153 24h1v1h-1zM174 24h1v1h-1zM188 24h1v1h-1zM202 24h1v1h-1zM15 25h1v1h-1zM17 25h2v1h-2zM20 25h5v1h-5zM26 25h4v1h-4zM31 25h2v1h-2zM130 25h1v1h-1zM132 25h1v1h-1zM134 25h1v1h-1zM150 25h1v1h-1zM16 26h3v1h-3zM20 26h6v1h-6zM27 26h3v1h-3zM32 26h2v1h-2zM42 26h1v1h-1zM45 26h1v1h-1zM78 26h1v1h-1zM88 26h1v1h-1zM141 26h1v1h-1zM2 27h1v1h-1zM6 27h1v1h-1zM15 27h5v1h-5zM21 27h3v1h-3zM25 27h2v1h-2zM28 27h1v1h-1zM30 27h2v1h-2zM41 27h1v1h-1zM55 27h1v1h-1zM60 27h1v1h-1zM71 27h1v1h-1zM81 27h1v1h-1zM100 27h1v1h-1zM109 27h1v1h-1zM116 27h1v1h-1zM121 27h1v1h-1zM142 27h1v1h-1zM145 27h1v1h-1zM152 27h1v1h-1zM160 27h2v1h-2zM165 27h1v1h-1zM169 27h3v1h-3zM207 27h1v1h-1zM15 28h1v1h-1zM17 28h2v1h-2zM20 28h3v1h-3zM24 28h4v1h-4zM29 28h2v1h-2zM32 28h1v1h-1zM53 28h1v1h-1zM55 28h1v1h-1zM106 28h1v1h-1zM113 28h1v1h-1zM125 28h1v1h-1zM130 28h1v1h-1zM132 28h1v1h-1zM143 28h1v1h-1zM150 28h1v1h-1zM169 28h1v1h-1zM13 29h1v1h-1zM15 29h1v1h-1zM17 29h1v1h-1zM20 29h3v1h-3zM24 29h3v1h-3zM28 29h1v1h-1zM30 29h2v1h-2zM33 29h1v1h-1zM40 29h1v1h-1zM45 29h1v1h-1zM57 29h1v1h-1zM62 29h1v1h-1zM70 29h1v1h-1zM94 29h1v1h-1zM140 29h1v1h-1zM142 29h1v1h-1zM157 29h1v1h-1zM167 29h1v1h-1zM170 29h1v1h-1zM184 29h1v1h-1zM207 29h1v1h-1zM15 30h1v1h-1zM17 30h2v1h-2zM20 30h1v1h-1zM23 30h1v1h-1zM27 30h3v1h-3zM31 30h1v1h-1zM116 30h1v1h-1zM184 30h1v1h-1zM9 31h1v1h-1zM15 31h1v1h-1zM17 31h3v1h-3zM24 31h2v1h-2zM27 31h1v1h-1zM29 31h2v1h-2zM32 31h1v1h-1zM45 31h1v1h-1zM55 31h1v1h-1zM109 31h1v1h-1zM117 31h1v1h-1zM185 31h2v1h-2zM199 31h1v1h-1zM15 32h1v1h-1zM17 32h1v1h-1zM19 32h2v1h-2zM22 32h5v1h-5zM28 32h1v1h-1zM31 32h1v1h-1zM48 32h1v1h-1zM54 32h1v1h-1zM61 32h1v1h-1zM69 32h1v1h-1zM136 32h1v1h-1zM145 32h1v1h-1zM148 32h1v1h-1zM154 32h1v1h-1zM157 32h1v1h-1zM174 32h1v1h-1zM26 33h1v1h-1zM29 33h1v1h-1zM34 33h1v1h-1zM36 33h1v1h-1zM39 33h2v1h-2zM44 33h1v1h-1zM55 33h1v1h-1zM57 33h2v1h-2zM95 33h1v1h-1zM33 34h1v1h-1zM37 34h1v1h-1zM42 34h2v1h-2zM48 34h1v1h-1zM53 34h2v1h-2zM57 34h1v1h-1zM62 34h1v1h-1zM66 34h1v1h-1zM142 34h1v1h-1zM150 34h1v1h-1zM175 34h1v1h-1zM186 34h1v1h-1zM6 35h1v1h-1zM37 35h1v1h-1zM42 35h1v1h-1zM45 35h1v1h-1zM50 35h2v1h-2zM59 35h2v1h-2zM120 35h1v1h-1zM33 36h1v1h-1zM38 36h3v1h-3zM44 36h2v1h-2zM47 36h1v1h-1zM53 36h1v1h-1zM57 36h1v1h-1zM62 36h1v1h-1zM139 36h1v1h-1zM179 36h1v1h-1zM34 37h2v1h-2zM39 37h1v1h-1zM43 37h3v1h-3zM47 37h1v1h-1zM49 37h2v1h-2zM52 37h2v1h-2zM56 37h1v1h-1zM58 37h1v1h-1zM61 37h2v1h-2zM36 38h1v1h-1zM49 38h1v1h-1zM51 38h1v1h-1zM55 38h1v1h-1zM58 38h1v1h-1zM127 38h1v1h-1zM174 38h1v1h-1zM9 39h1v1h-1zM23 39h1v1h-1zM33 39h1v1h-1zM36 39h2v1h-2zM43 39h2v1h-2zM46 39h2v1h-2zM49 39h1v1h-1zM51 39h1v1h-1zM54 39h1v1h-1zM56 39h1v1h-1zM59 39h1v1h-1zM62 39h1v1h-1zM110 39h1v1h-1zM163 39h2v1h-2zM170 39h1v1h-1zM186 39h1v1h-1zM202 39h1v1h-1zM29 40h1v1h-1zM33 40h1v1h-1zM36 40h1v1h-1zM42 40h1v1h-1zM44 40h2v1h-2zM54 40h3v1h-3zM58 40h2v1h-2zM0 41h1v1h-1zM27 41h1v1h-1zM42 41h1v1h-1zM51 41h1v1h-1zM53 41h1v1h-1zM60 41h1v1h-1zM80 41h1v1h-1zM109 41h1v1h-1zM182 41h1v1h-1zM207 41h1v1h-1zM10 42h1v1h-1zM19 42h1v1h-1zM26 42h1v1h-1zM34 42h2v1h-2zM40 42h2v1h-2zM48 42h1v1h-1zM51 42h1v1h-1zM55 42h2v1h-2zM59 42h1v1h-1zM87 42h1v1h-1zM89 42h1v1h-1zM160 42h1v1h-1zM193 42h1v1h-1zM211 42h1v1h-1zM34 43h1v1h-1zM37 43h1v1h-1zM39 43h1v1h-1zM49 43h1v1h-1zM53 43h4v1h-4zM58 43h1v1h-1zM183 43h1v1h-1zM33 44h1v1h-1zM36 44h2v1h-2zM39 44h2v1h-2zM45 44h3v1h-3zM51 44h2v1h-2zM55 44h1v1h-1zM57 44h1v1h-1zM59 44h1v1h-1zM179 44h1v1h-1zM19 45h1v1h-1zM26 45h1v1h-1zM29 45h1v1h-1zM31 45h1v1h-1zM35 45h3v1h-3zM40 45h1v1h-1zM44 45h1v1h-1zM49 45h1v1h-1zM51 45h1v1h-1zM54 45h1v1h-1zM58 45h1v1h-1zM130 45h1v1h-1zM135 45h1v1h-1zM138 45h1v1h-1zM152 45h1v1h-1zM160 45h1v1h-1zM201 45h1v1h-1zM208 45h1v1h-1zM210 45h1v1h-1zM39 46h1v1h-1zM44 46h1v1h-1zM48 46h1v1h-1zM50 46h1v1h-1zM53 46h3v1h-3zM58 46h1v1h-1zM60 46h1v1h-1zM146 46h1v1h-1zM36 47h2v1h-2zM39 47h1v1h-1zM44 47h1v1h-1zM49 47h1v1h-1zM51 47h2v1h-2zM55 47h1v1h-1zM57 47h1v1h-1zM141 47h1v1h-1zM32 48h1v1h-1zM34 48h1v1h-1zM42 48h1v1h-1zM46 48h1v1h-1zM50 48h1v1h-1zM55 48h3v1h-3zM59 48h1v1h-1zM62 48h1v1h-1zM37 49h3v1h-3zM43 49h1v1h-1zM45 49h1v1h-1zM47 49h1v1h-1zM51 49h1v1h-1zM54 49h1v1h-1zM57 49h1v1h-1zM61 49h1v1h-1zM98 49h1v1h-1zM119 49h1v1h-1zM35 50h1v1h-1zM37 50h1v1h-1zM46 50h1v1h-1zM48 50h1v1h-1zM51 50h2v1h-2zM55 50h1v1h-1zM59 50h1v1h-1zM62 50h1v1h-1zM64 50h1v1h-1zM124 50h1v1h-1zM206 50h1v1h-1zM20 51h1v1h-1zM35 51h1v1h-1zM38 51h2v1h-2zM41 51h2v1h-2zM44 51h2v1h-2zM47 51h1v1h-1zM49 51h2v1h-2zM53 51h1v1h-1zM55 51h1v1h-1zM60 51h1v1h-1zM188 51h1v1h-1zM5 52h1v1h-1zM37 52h1v1h-1zM44 52h1v1h-1zM47 52h1v1h-1zM50 52h1v1h-1zM53 52h1v1h-1zM132 52h1v1h-1zM157 52h1v1h-1zM28 53h1v1h-1zM34 53h1v1h-1zM36 53h2v1h-2zM41 53h1v1h-1zM43 53h1v1h-1zM46 53h1v1h-1zM51 53h2v1h-2zM62 53h1v1h-1zM127 53h1v1h-1zM151 53h1v1h-1zM200 53h1v1h-1zM209 53h1v1h-1zM22 54h1v1h-1zM32 54h1v1h-1zM34 54h1v1h-1zM39 54h2v1h-2zM43 54h1v1h-1zM45 54h2v1h-2zM49 54h1v1h-1zM55 54h1v1h-1zM58 54h3v1h-3zM62 54h1v1h-1zM142 54h1v1h-1zM162 54h1v1h-1zM165 54h1v1h-1zM181 54h1v1h-1zM27 55h2v1h-2zM31 55h1v1h-1zM33 55h1v1h-1zM38 55h1v1h-1zM40 55h1v1h-1zM42 55h3v1h-3zM46 55h3v1h-3zM50 55h2v1h-2zM54 55h1v1h-1zM56 55h1v1h-1zM58 55h2v1h-2zM61 55h2v1h-2zM176 55h1v1h-1zM6 56h1v1h-1zM17 56h1v1h-1zM20 56h1v1h-1zM24 56h1v1h-1zM37 56h1v1h-1zM39 56h2v1h-2zM42 56h2v1h-2zM48 56h1v1h-1zM55 56h1v1h-1zM59 56h1v1h-1zM62 56h1v1h-1zM138 56h1v1h-1zM141 56h1v1h-1zM149 56h1v1h-1zM165 56h1v1h-1zM174 56h3v1h-3zM183 56h1v1h-1zM29 57h1v1h-1zM33 57h2v1h-2zM36 57h1v1h-1zM44 57h1v1h-1zM47 57h3v1h-3zM113 57h1v1h-1zM156 57h1v1h-1zM160 57h1v1h-1zM190 57h1v1h-1zM24 58h1v1h-1zM33 58h1v1h-1zM37 58h2v1h-2zM40 58h1v1h-1zM43 58h1v1h-1zM45 58h2v1h-2zM54 58h2v1h-2zM61 58h1v1h-1zM77 58h1v1h-1zM131 58h1v1h-1zM155 58h1v1h-1zM157 58h1v1h-1zM169 58h1v1h-1zM35 59h1v1h-1zM39 59h2v1h-2zM42 59h1v1h-1zM44 59h1v1h-1zM48 59h1v1h-1zM50 59h1v1h-1zM54 59h3v1h-3zM180 59h1v1h-1zM16 60h1v1h-1zM27 60h1v1h-1zM35 60h1v1h-1zM41 60h1v1h-1zM46 60h1v1h-1zM51 60h1v1h-1zM54 60h1v1h-1zM97 60h1v1h-1zM134 60h1v1h-1zM149 60h1v1h-1zM152 60h1v1h-1zM181 60h1v1h-1zM32 61h1v1h-1zM37 61h1v1h-1zM49 61h1v1h-1zM55 61h1v1h-1zM58 61h1v1h-1zM116 61h1v1h-1zM133 61h1v1h-1zM170 61h1v1h-1zM177 61h1v1h-1zM29 62h1v1h-1zM34 62h1v1h-1zM36 62h2v1h-2zM39 62h1v1h-1zM48 62h1v1h-1zM50 62h1v1h-1zM53 62h4v1h-4zM134 62h1v1h-1zM11 63h1v1h-1zM22 63h1v1h-1zM65 63h1v1h-1zM71 63h1v1h-1zM78 63h1v1h-1zM84 63h2v1h-2zM89 63h1v1h-1zM94 63h2v1h-2zM107 63h1v1h-1zM112 63h2v1h-2zM209 63h1v1h-1zM50 64h1v1h-1zM68 64h3v1h-3zM77 64h1v1h-1zM82 64h1v1h-1zM90 64h1v1h-1zM92 64h3v1h-3zM98 64h1v1h-1zM100 64h1v1h-1zM107 64h2v1h-2zM63 65h1v1h-1zM71 65h1v1h-1zM80 65h1v1h-1zM82 65h1v1h-1zM94 65h2v1h-2zM98 65h1v1h-1zM101 65h2v1h-2zM105 65h1v1h-1zM107 65h2v1h-2zM110 65h2v1h-2zM114 65h2v1h-2zM159 65h1v1h-1zM163 65h1v1h-1zM201 65h1v1h-1zM34 66h1v1h-1zM68 66h3v1h-3zM75 66h1v1h-1zM77 66h1v1h-1zM79 66h1v1h-1zM82 66h1v1h-1zM85 66h1v1h-1zM91 66h1v1h-1zM97 66h1v1h-1zM101 66h2v1h-2zM104 66h1v1h-1zM111 66h1v1h-1zM114 66h1v1h-1zM146 66h1v1h-1zM152 66h1v1h-1zM162 66h1v1h-1zM71 67h1v1h-1zM74 67h1v1h-1zM79 67h1v1h-1zM98 67h1v1h-1zM101 67h2v1h-2zM107 67h1v1h-1zM112 67h1v1h-1zM115 67h1v1h-1zM64 68h1v1h-1zM66 68h1v1h-1zM69 68h1v1h-1zM75 68h1v1h-1zM89 68h1v1h-1zM92 68h1v1h-1zM104 68h2v1h-2zM107 68h1v1h-1zM110 68h1v1h-1zM193 68h1v1h-1zM1 69h1v1h-1zM32 69h1v1h-1zM64 69h1v1h-1zM66 69h1v1h-1zM68 69h1v1h-1zM70 69h1v1h-1zM74 69h1v1h-1zM76 69h1v1h-1zM78 69h1v1h-1zM84 69h2v1h-2zM93 69h1v1h-1zM98 69h2v1h-2zM101 69h1v1h-1zM104 69h1v1h-1zM107 69h1v1h-1zM113 69h3v1h-3zM118 69h1v1h-1zM127 69h1v1h-1zM207 69h1v1h-1zM3 70h1v1h-1zM6 70h1v1h-1zM24 70h1v1h-1zM29 70h1v1h-1zM64 70h1v1h-1zM66 70h1v1h-1zM69 70h1v1h-1zM81 70h1v1h-1zM88 70h1v1h-1zM90 70h1v1h-1zM92 70h1v1h-1zM110 70h1v1h-1zM157 70h1v1h-1zM160 70h1v1h-1zM181 70h1v1h-1zM183 70h1v1h-1zM207 70h1v1h-1zM2 71h1v1h-1zM6 71h1v1h-1zM21 71h1v1h-1zM27 71h1v1h-1zM63 71h1v1h-1zM65 71h1v1h-1zM67 71h1v1h-1zM74 71h1v1h-1zM80 71h1v1h-1zM83 71h2v1h-2zM88 71h4v1h-4zM95 71h1v1h-1zM99 71h1v1h-1zM103 71h1v1h-1zM109 71h2v1h-2zM113 71h1v1h-1zM115 71h1v1h-1zM157 71h1v1h-1zM170 71h1v1h-1zM183 71h1v1h-1zM74 72h2v1h-2zM79 72h2v1h-2zM84 72h3v1h-3zM95 72h2v1h-2zM109 72h1v1h-1zM22 73h1v1h-1zM74 73h1v1h-1zM78 73h1v1h-1zM93 73h1v1h-1zM98 73h1v1h-1zM116 73h1v1h-1zM186 73h1v1h-1zM67 74h1v1h-1zM69 74h1v1h-1zM71 74h3v1h-3zM75 74h1v1h-1zM80 74h2v1h-2zM84 74h2v1h-2zM88 74h2v1h-2zM91 74h2v1h-2zM97 74h2v1h-2zM103 74h1v1h-1zM107 74h2v1h-2zM113 74h5v1h-5zM155 74h1v1h-1zM66 75h1v1h-1zM68 75h1v1h-1zM72 75h1v1h-1zM74 75h1v1h-1zM83 75h1v1h-1zM88 75h1v1h-1zM90 75h2v1h-2zM104 75h4v1h-4zM116 75h1v1h-1zM142 75h1v1h-1zM160 75h1v1h-1zM5 76h1v1h-1zM69 76h1v1h-1zM77 76h1v1h-1zM80 76h1v1h-1zM86 76h1v1h-1zM89 76h1v1h-1zM92 76h4v1h-4zM99 76h1v1h-1zM101 76h1v1h-1zM104 76h1v1h-1zM114 76h1v1h-1zM139 76h1v1h-1zM197 76h1v1h-1zM9 77h1v1h-1zM15 77h1v1h-1zM58 77h1v1h-1zM64 77h1v1h-1zM66 77h1v1h-1zM76 77h1v1h-1zM83 77h1v1h-1zM89 77h1v1h-1zM103 77h1v1h-1zM108 77h1v1h-1zM113 77h2v1h-2zM169 77h1v1h-1zM181 77h2v1h-2zM186 77h1v1h-1zM193 77h1v1h-1zM20 78h1v1h-1zM24 78h1v1h-1zM26 78h1v1h-1zM63 78h1v1h-1zM69 78h1v1h-1zM73 78h1v1h-1zM81 78h1v1h-1zM84 78h2v1h-2zM87 78h1v1h-1zM92 78h2v1h-2zM101 78h1v1h-1zM108 78h1v1h-1zM112 78h3v1h-3zM132 78h1v1h-1zM156 78h1v1h-1zM160 78h1v1h-1zM184 78h1v1h-1zM190 78h2v1h-2zM201 78h1v1h-1zM11 79h1v1h-1zM13 79h1v1h-1zM17 79h1v1h-1zM66 79h2v1h-2zM72 79h1v1h-1zM80 79h2v1h-2zM83 79h3v1h-3zM95 79h1v1h-1zM97 79h1v1h-1zM104 79h1v1h-1zM110 79h1v1h-1zM117 79h1v1h-1zM188 79h1v1h-1zM1 80h1v1h-1zM9 80h1v1h-1zM41 80h1v1h-1zM65 80h1v1h-1zM71 80h2v1h-2zM74 80h1v1h-1zM76 80h1v1h-1zM79 80h1v1h-1zM82 80h2v1h-2zM85 80h1v1h-1zM92 80h1v1h-1zM95 80h1v1h-1zM97 80h3v1h-3zM101 80h1v1h-1zM103 80h1v1h-1zM110 80h1v1h-1zM112 80h1v1h-1zM114 80h2v1h-2zM164 80h1v1h-1zM27 81h1v1h-1zM70 81h1v1h-1zM74 81h1v1h-1zM78 81h2v1h-2zM86 81h1v1h-1zM89 81h1v1h-1zM96 81h1v1h-1zM100 81h4v1h-4zM108 81h1v1h-1zM112 81h2v1h-2zM116 81h1v1h-1zM152 81h1v1h-1zM155 81h1v1h-1zM6 82h1v1h-1zM64 82h3v1h-3zM80 82h1v1h-1zM83 82h1v1h-1zM92 82h1v1h-1zM94 82h3v1h-3zM98 82h1v1h-1zM104 82h1v1h-1zM110 82h1v1h-1zM131 82h1v1h-1zM149 82h1v1h-1zM183 82h1v1h-1zM210 82h1v1h-1zM0 83h1v1h-1zM2 83h1v1h-1zM11 83h1v1h-1zM71 83h1v1h-1zM75 83h1v1h-1zM77 83h1v1h-1zM79 83h2v1h-2zM82 83h1v1h-1zM85 83h2v1h-2zM88 83h1v1h-1zM92 83h1v1h-1zM96 83h2v1h-2zM100 83h2v1h-2zM103 83h1v1h-1zM106 83h1v1h-1zM112 83h1v1h-1zM114 83h1v1h-1zM116 83h1v1h-1zM121 83h1v1h-1zM133 83h1v1h-1zM179 83h1v1h-1zM6 84h1v1h-1zM63 84h1v1h-1zM69 84h1v1h-1zM71 84h2v1h-2zM74 84h1v1h-1zM78 84h2v1h-2zM88 84h2v1h-2zM91 84h2v1h-2zM96 84h1v1h-1zM98 84h1v1h-1zM100 84h2v1h-2zM111 84h2v1h-2zM114 84h1v1h-1zM157 84h1v1h-1zM167 84h1v1h-1zM181 84h1v1h-1zM187 84h1v1h-1zM200 84h1v1h-1zM1 85h1v1h-1zM7 85h1v1h-1zM63 85h1v1h-1zM66 85h1v1h-1zM69 85h1v1h-1zM72 85h1v1h-1zM74 85h1v1h-1zM78 85h3v1h-3zM83 85h1v1h-1zM88 85h2v1h-2zM91 85h2v1h-2zM98 85h1v1h-1zM100 85h1v1h-1zM108 85h1v1h-1zM111 85h1v1h-1zM113 85h2v1h-2zM116 85h1v1h-1zM162 85h1v1h-1zM165 85h1v1h-1zM174 85h1v1h-1zM196 85h1v1h-1zM72 86h1v1h-1zM76 86h1v1h-1zM81 86h1v1h-1zM83 86h1v1h-1zM89 86h1v1h-1zM91 86h1v1h-1zM94 86h2v1h-2zM97 86h2v1h-2zM107 86h1v1h-1zM110 86h2v1h-2zM115 86h1v1h-1zM117 86h1v1h-1zM6 87h1v1h-1zM42 87h1v1h-1zM78 87h1v1h-1zM90 87h1v1h-1zM98 87h1v1h-1zM101 87h1v1h-1zM104 87h2v1h-2zM149 87h1v1h-1zM184 87h1v1h-1zM3 88h1v1h-1zM13 88h1v1h-1zM26 88h1v1h-1zM70 88h2v1h-2zM74 88h2v1h-2zM83 88h3v1h-3zM89 88h5v1h-5zM95 88h1v1h-1zM97 88h3v1h-3zM104 88h4v1h-4zM109 88h1v1h-1zM114 88h2v1h-2zM147 88h1v1h-1zM153 88h1v1h-1zM170 88h1v1h-1zM174 88h1v1h-1zM190 88h1v1h-1zM206 88h1v1h-1zM10 89h1v1h-1zM42 89h1v1h-1zM63 89h1v1h-1zM68 89h1v1h-1zM71 89h1v1h-1zM74 89h1v1h-1zM76 89h2v1h-2zM81 89h1v1h-1zM84 89h3v1h-3zM88 89h1v1h-1zM94 89h2v1h-2zM98 89h2v1h-2zM106 89h2v1h-2zM115 89h1v1h-1zM186 89h1v1h-1zM6 90h1v1h-1zM64 90h1v1h-1zM70 90h2v1h-2zM75 90h1v1h-1zM87 90h2v1h-2zM95 90h1v1h-1zM105 90h1v1h-1zM112 90h1v1h-1zM114 90h1v1h-1zM21 91h1v1h-1zM24 91h1v1h-1zM66 91h1v1h-1zM71 91h1v1h-1zM74 91h2v1h-2zM84 91h3v1h-3zM88 91h1v1h-1zM92 91h1v1h-1zM98 91h2v1h-2zM101 91h1v1h-1zM115 91h1v1h-1zM117 91h2v1h-2zM13 92h1v1h-1zM64 92h1v1h-1zM68 92h1v1h-1zM70 92h1v1h-1zM74 92h1v1h-1zM76 92h1v1h-1zM78 92h1v1h-1zM80 92h1v1h-1zM82 92h4v1h-4zM88 92h1v1h-1zM91 92h1v1h-1zM95 92h1v1h-1zM97 92h2v1h-2zM100 92h3v1h-3zM106 92h1v1h-1zM109 92h1v1h-1zM113 92h2v1h-2zM116 92h1v1h-1zM173 92h1v1h-1zM180 92h1v1h-1zM192 92h1v1h-1zM204 92h1v1h-1zM64 93h1v1h-1zM69 93h1v1h-1zM73 93h1v1h-1zM76 93h1v1h-1zM78 93h1v1h-1zM88 93h1v1h-1zM94 93h1v1h-1zM98 93h1v1h-1zM106 93h1v1h-1zM112 93h1v1h-1zM116 93h1v1h-1zM29 94h1v1h-1zM63 94h3v1h-3zM76 94h1v1h-1zM82 94h1v1h-1zM86 94h1v1h-1zM89 94h1v1h-1zM93 94h1v1h-1zM95 94h1v1h-1zM97 94h1v1h-1zM105 94h1v1h-1zM108 94h1v1h-1zM113 94h1v1h-1zM115 94h2v1h-2zM156 94h1v1h-1zM165 94h1v1h-1zM1 95h1v1h-1zM10 95h1v1h-1zM33 95h1v1h-1zM63 95h1v1h-1zM65 95h1v1h-1zM71 95h2v1h-2zM76 95h1v1h-1zM79 95h2v1h-2zM82 95h1v1h-1zM86 95h1v1h-1zM88 95h3v1h-3zM92 95h1v1h-1zM94 95h1v1h-1zM97 95h1v1h-1zM100 95h2v1h-2zM105 95h1v1h-1zM107 95h1v1h-1zM109 95h1v1h-1zM112 95h1v1h-1zM134 95h1v1h-1zM169 95h1v1h-1zM172 95h1v1h-1zM205 95h1v1h-1zM72 96h1v1h-1zM81 96h4v1h-4zM101 96h2v1h-2zM105 96h1v1h-1zM108 96h1v1h-1zM112 96h1v1h-1zM168 96h1v1h-1zM193 96h1v1h-1zM2 97h1v1h-1zM6 97h1v1h-1zM13 97h2v1h-2zM24 97h1v1h-1zM60 97h1v1h-1zM66 97h1v1h-1zM74 97h1v1h-1zM79 97h2v1h-2zM83 97h1v1h-1zM86 97h1v1h-1zM88 97h1v1h-1zM92 97h1v1h-1zM94 97h2v1h-2zM103 97h1v1h-1zM110 97h1v1h-1zM117 97h1v1h-1zM127 97h1v1h-1zM149 97h1v1h-1zM197 97h1v1h-1zM15 98h1v1h-1zM49 98h1v1h-1zM64 98h2v1h-2zM67 98h1v1h-1zM69 98h1v1h-1zM73 98h2v1h-2zM80 98h1v1h-1zM82 98h1v1h-1zM84 98h6v1h-6zM91 98h3v1h-3zM99 98h3v1h-3zM104 98h1v1h-1zM108 98h1v1h-1zM110 98h2v1h-2zM115 98h1v1h-1zM188 98h1v1h-1zM4 99h1v1h-1zM12 99h1v1h-1zM69 99h1v1h-1zM71 99h1v1h-1zM76 99h1v1h-1zM80 99h1v1h-1zM88 99h2v1h-2zM91 99h1v1h-1zM98 99h1v1h-1zM101 99h1v1h-1zM104 99h1v1h-1zM106 99h1v1h-1zM110 99h2v1h-2zM114 99h3v1h-3zM3 100h1v1h-1zM13 100h1v1h-1zM27 100h1v1h-1zM64 100h1v1h-1zM81 100h1v1h-1zM83 100h3v1h-3zM92 100h1v1h-1zM95 100h1v1h-1zM98 100h1v1h-1zM101 100h1v1h-1zM103 100h1v1h-1zM111 100h1v1h-1zM115 100h1v1h-1zM152 100h1v1h-1zM1 101h1v1h-1zM6 101h1v1h-1zM65 101h3v1h-3zM69 101h1v1h-1zM76 101h1v1h-1zM78 101h1v1h-1zM80 101h2v1h-2zM83 101h2v1h-2zM87 101h1v1h-1zM91 101h2v1h-2zM95 101h2v1h-2zM98 101h3v1h-3zM102 101h1v1h-1zM104 101h1v1h-1zM107 101h2v1h-2zM110 101h1v1h-1zM112 101h1v1h-1zM170 101h1v1h-1zM21 102h1v1h-1zM65 102h3v1h-3zM81 102h1v1h-1zM92 102h1v1h-1zM96 102h1v1h-1zM101 102h1v1h-1zM109 102h1v1h-1zM112 102h1v1h-1zM115 102h2v1h-2zM163 102h1v1h-1zM0 103h1v1h-1zM8 103h1v1h-1zM10 103h1v1h-1zM20 103h1v1h-1zM71 103h1v1h-1zM74 103h1v1h-1zM77 103h1v1h-1zM80 103h2v1h-2zM83 103h1v1h-1zM97 103h1v1h-1zM100 103h1v1h-1zM106 103h1v1h-1zM109 103h1v1h-1zM111 103h1v1h-1zM117 103h1v1h-1zM141 103h1v1h-1zM156 103h1v1h-1zM181 103h1v1h-1zM190 103h1v1h-1zM66 104h1v1h-1zM68 104h2v1h-2zM75 104h2v1h-2zM79 104h1v1h-1zM82 104h1v1h-1zM87 104h2v1h-2zM98 104h2v1h-2zM101 104h1v1h-1zM105 104h1v1h-1zM111 104h1v1h-1zM113 104h3v1h-3zM154 104h1v1h-1zM1 105h1v1h-1zM65 105h1v1h-1zM68 105h1v1h-1zM75 105h1v1h-1zM87 105h2v1h-2zM90 105h1v1h-1zM94 105h3v1h-3zM104 105h1v1h-1zM107 105h1v1h-1zM110 105h1v1h-1zM116 105h1v1h-1zM172 105h1v1h-1zM28 106h1v1h-1zM75 106h1v1h-1zM83 106h1v1h-1zM88 106h2v1h-2zM92 106h2v1h-2zM99 106h1v1h-1zM103 106h1v1h-1zM109 106h1v1h-1zM114 106h1v1h-1zM116 106h2v1h-2zM120 106h1v1h-1zM125 106h1v1h-1zM127 106h1v1h-1zM134 106h1v1h-1zM165 106h1v1h-1zM183 106h1v1h-1zM196 106h1v1h-1zM13 107h1v1h-1zM21 107h1v1h-1zM63 107h3v1h-3zM67 107h3v1h-3zM74 107h2v1h-2zM86 107h1v1h-1zM88 107h2v1h-2zM95 107h1v1h-1zM101 107h1v1h-1zM105 107h1v1h-1zM110 107h1v1h-1zM114 107h1v1h-1zM169 107h1v1h-1zM15 108h1v1h-1zM64 108h2v1h-2zM74 108h1v1h-1zM77 108h2v1h-2zM81 108h1v1h-1zM85 108h1v1h-1zM94 108h1v1h-1zM96 108h1v1h-1zM98 108h1v1h-1zM101 108h1v1h-1zM116 108h1v1h-1zM169 108h1v1h-1zM176 108h1v1h-1zM185 108h1v1h-1zM210 108h1v1h-1zM3 109h1v1h-1zM9 109h1v1h-1zM27 109h1v1h-1zM31 109h1v1h-1zM41 109h1v1h-1zM71 109h2v1h-2zM88 109h1v1h-1zM92 109h1v1h-1zM95 109h1v1h-1zM102 109h2v1h-2zM106 109h1v1h-1zM111 109h1v1h-1zM147 109h1v1h-1zM152 109h1v1h-1zM160 109h1v1h-1zM164 109h2v1h-2zM172 109h1v1h-1zM10 110h1v1h-1zM13 110h1v1h-1zM39 110h1v1h-1zM65 110h1v1h-1zM68 110h1v1h-1zM70 110h2v1h-2zM79 110h2v1h-2zM82 110h1v1h-1zM86 110h1v1h-1zM97 110h3v1h-3zM101 110h1v1h-1zM105 110h1v1h-1zM107 110h1v1h-1zM111 110h2v1h-2zM114 110h2v1h-2zM124 110h1v1h-1zM145 110h1v1h-1zM152 110h2v1h-2zM170 110h1v1h-1zM172 110h1v1h-1zM192 110h1v1h-1zM205 110h1v1h-1zM0 111h1v1h-1zM15 111h1v1h-1zM21 111h1v1h-1zM65 111h2v1h-2zM84 111h3v1h-3zM98 111h3v1h-3zM103 111h2v1h-2zM109 111h2v1h-2zM113 111h1v1h-1zM117 111h1v1h-1zM191 111h1v1h-1zM63 112h1v1h-1zM67 112h1v1h-1zM78 112h1v1h-1zM80 112h2v1h-2zM83 112h2v1h-2zM90 112h1v1h-1zM93 112h1v1h-1zM95 112h2v1h-2zM101 112h2v1h-2zM110 112h1v1h-1zM115 112h1v1h-1zM197 112h1v1h-1zM11 113h1v1h-1zM28 113h1v1h-1zM57 113h1v1h-1zM63 113h1v1h-1zM69 113h1v1h-1zM71 113h1v1h-1zM74 113h1v1h-1zM77 113h2v1h-2zM81 113h1v1h-1zM85 113h1v1h-1zM92 113h1v1h-1zM94 113h1v1h-1zM104 113h1v1h-1zM111 113h1v1h-1zM115 113h1v1h-1zM118 113h1v1h-1zM10 114h1v1h-1zM65 114h2v1h-2zM69 114h1v1h-1zM74 114h1v1h-1zM76 114h3v1h-3zM80 114h1v1h-1zM83 114h3v1h-3zM88 114h1v1h-1zM90 114h1v1h-1zM92 114h1v1h-1zM99 114h1v1h-1zM104 114h1v1h-1zM106 114h2v1h-2zM110 114h1v1h-1zM115 114h3v1h-3zM135 114h1v1h-1zM189 114h1v1h-1zM202 114h1v1h-1zM8 115h1v1h-1zM65 115h1v1h-1zM67 115h1v1h-1zM69 115h1v1h-1zM71 115h1v1h-1zM74 115h1v1h-1zM80 115h1v1h-1zM86 115h1v1h-1zM88 115h2v1h-2zM91 115h1v1h-1zM94 115h1v1h-1zM98 115h3v1h-3zM102 115h1v1h-1zM104 115h1v1h-1zM110 115h1v1h-1zM112 115h3v1h-3zM149 115h1v1h-1zM160 115h1v1h-1zM19 116h1v1h-1zM27 116h1v1h-1zM30 116h1v1h-1zM61 116h1v1h-1zM73 116h3v1h-3zM81 116h1v1h-1zM83 116h1v1h-1zM85 116h1v1h-1zM92 116h3v1h-3zM99 116h1v1h-1zM102 116h1v1h-1zM105 116h2v1h-2zM108 116h1v1h-1zM114 116h1v1h-1zM118 116h1v1h-1zM127 116h1v1h-1zM162 116h1v1h-1zM164 116h1v1h-1zM167 116h1v1h-1zM173 116h1v1h-1zM186 116h1v1h-1zM210 116h1v1h-1zM31 117h1v1h-1zM74 117h1v1h-1zM79 117h1v1h-1zM86 117h1v1h-1zM91 117h1v1h-1zM97 117h1v1h-1zM103 117h1v1h-1zM106 117h1v1h-1zM111 117h1v1h-1zM114 117h1v1h-1zM1 118h1v1h-1zM4 118h1v1h-1zM69 118h1v1h-1zM91 118h1v1h-1zM113 118h1v1h-1zM116 118h1v1h-1zM119 118h1v1h-1zM121 118h1v1h-1zM123 118h1v1h-1zM125 118h1v1h-1zM127 118h1v1h-1zM131 118h2v1h-2zM135 118h2v1h-2zM140 118h3v1h-3zM145 118h1v1h-1zM147 118h2v1h-2zM160 118h1v1h-1zM184 118h1v1h-1zM211 118h1v1h-1zM20 119h1v1h-1zM49 119h1v1h-1zM118 119h1v1h-1zM120 119h2v1h-2zM123 119h1v1h-1zM125 119h3v1h-3zM136 119h5v1h-5zM143 119h1v1h-1zM146 119h1v1h-1zM3 120h1v1h-1zM5 120h1v1h-1zM35 120h1v1h-1zM106 120h1v1h-1zM119 120h1v1h-1zM122 120h2v1h-2zM125 120h1v1h-1zM128 120h2v1h-2zM136 120h8v1h-8zM145 120h1v1h-1zM147 120h2v1h-2zM181 120h1v1h-1zM6 121h2v1h-2zM27 121h1v1h-1zM83 121h1v1h-1zM118 121h2v1h-2zM122 121h1v1h-1zM125 121h2v1h-2zM133 121h6v1h-6zM140 121h4v1h-4zM145 121h1v1h-1zM148 121h1v1h-1zM152 121h1v1h-1zM165 121h1v1h-1zM179 121h1v1h-1zM209 121h1v1h-1zM1 122h1v1h-1zM20 122h1v1h-1zM120 122h2v1h-2zM126 122h1v1h-1zM135 122h3v1h-3zM140 122h1v1h-1zM144 122h1v1h-1zM177 122h1v1h-1zM202 122h1v1h-1zM3 123h1v1h-1zM118 123h3v1h-3zM124 123h2v1h-2zM127 123h3v1h-3zM131 123h1v1h-1zM133 123h1v1h-1zM138 123h1v1h-1zM140 123h4v1h-4zM147 123h2v1h-2zM183 123h1v1h-1zM190 123h1v1h-1zM208 123h1v1h-1zM50 124h1v1h-1zM110 124h1v1h-1zM123 124h1v1h-1zM131 124h2v1h-2zM134 124h3v1h-3zM160 124h1v1h-1zM176 124h1v1h-1zM24 125h1v1h-1zM28 125h1v1h-1zM106 125h1v1h-1zM118 125h4v1h-4zM123 125h1v1h-1zM126 125h1v1h-1zM129 125h1v1h-1zM131 125h4v1h-4zM136 125h1v1h-1zM138 125h3v1h-3zM142 125h2v1h-2zM145 125h2v1h-2zM185 125h1v1h-1zM119 126h1v1h-1zM121 126h2v1h-2zM125 126h1v1h-1zM130 126h2v1h-2zM134 126h4v1h-4zM141 126h2v1h-2zM144 126h2v1h-2zM147 126h2v1h-2zM162 126h1v1h-1zM171 126h1v1h-1zM191 126h1v1h-1zM201 126h1v1h-1zM211 126h1v1h-1zM38 127h1v1h-1zM53 127h1v1h-1zM69 127h1v1h-1zM97 127h1v1h-1zM106 127h1v1h-1zM116 127h1v1h-1zM118 127h2v1h-2zM123 127h1v1h-1zM128 127h1v1h-1zM132 127h1v1h-1zM143 127h2v1h-2zM148 127h1v1h-1zM196 127h1v1h-1zM120 128h1v1h-1zM123 128h1v1h-1zM127 128h1v1h-1zM129 128h1v1h-1zM131 128h1v1h-1zM133 128h1v1h-1zM136 128h1v1h-1zM140 128h6v1h-6zM147 128h2v1h-2zM120 129h1v1h-1zM123 129h1v1h-1zM125 129h1v1h-1zM128 129h1v1h-1zM131 129h2v1h-2zM134 129h5v1h-5zM140 129h1v1h-1zM142 129h1v1h-1zM144 129h4v1h-4zM165 129h1v1h-1zM8 130h1v1h-1zM11 130h1v1h-1zM25 130h1v1h-1zM28 130h1v1h-1zM45 130h1v1h-1zM126 130h1v1h-1zM131 130h1v1h-1zM133 130h4v1h-4zM138 130h1v1h-1zM140 130h2v1h-2zM168 130h1v1h-1zM204 130h1v1h-1zM6 131h1v1h-1zM58 131h1v1h-1zM82 131h1v1h-1zM118 131h1v1h-1zM123 131h4v1h-4zM128 131h3v1h-3zM132 131h2v1h-2zM137 131h1v1h-1zM139 131h2v1h-2zM143 131h1v1h-1zM145 131h3v1h-3zM25 132h1v1h-1zM28 132h1v1h-1zM52 132h1v1h-1zM78 132h1v1h-1zM118 132h1v1h-1zM124 132h2v1h-2zM127 132h1v1h-1zM129 132h1v1h-1zM131 132h1v1h-1zM133 132h4v1h-4zM138 132h1v1h-1zM141 132h2v1h-2zM145 132h3v1h-3zM157 132h1v1h-1zM207 132h1v1h-1zM22 133h1v1h-1zM61 133h1v1h-1zM83 133h1v1h-1zM121 133h1v1h-1zM123 133h1v1h-1zM125 133h1v1h-1zM128 133h1v1h-1zM130 133h3v1h-3zM134 133h1v1h-1zM136 133h3v1h-3zM140 133h1v1h-1zM143 133h1v1h-1zM146 133h2v1h-2zM195 133h1v1h-1zM207 133h1v1h-1zM14 134h1v1h-1zM19 134h1v1h-1zM25 134h1v1h-1zM60 134h1v1h-1zM62 134h1v1h-1zM95 134h1v1h-1zM106 134h1v1h-1zM121 134h1v1h-1zM124 134h3v1h-3zM129 134h2v1h-2zM132 134h2v1h-2zM138 134h1v1h-1zM143 134h1v1h-1zM148 134h1v1h-1zM181 134h1v1h-1zM187 134h1v1h-1zM201 134h1v1h-1zM203 134h1v1h-1zM8 135h1v1h-1zM23 135h1v1h-1zM45 135h1v1h-1zM114 135h1v1h-1zM118 135h1v1h-1zM121 135h2v1h-2zM124 135h1v1h-1zM126 135h1v1h-1zM129 135h2v1h-2zM132 135h1v1h-1zM136 135h2v1h-2zM139 135h1v1h-1zM141 135h2v1h-2zM145 135h2v1h-2zM32 136h1v1h-1zM118 136h5v1h-5zM124 136h3v1h-3zM128 136h3v1h-3zM132 136h2v1h-2zM135 136h1v1h-1zM137 136h7v1h-7zM145 136h4v1h-4zM177 136h1v1h-1zM119 137h4v1h-4zM126 137h1v1h-1zM129 137h1v1h-1zM131 137h1v1h-1zM133 137h1v1h-1zM135 137h2v1h-2zM140 137h7v1h-7zM148 137h1v1h-1zM45 138h1v1h-1zM56 138h1v1h-1zM119 138h3v1h-3zM123 138h1v1h-1zM125 138h1v1h-1zM129 138h2v1h-2zM132 138h3v1h-3zM136 138h1v1h-1zM148 138h1v1h-1zM196 138h1v1h-1zM201 138h1v1h-1zM36 139h1v1h-1zM76 139h1v1h-1zM119 139h2v1h-2zM125 139h1v1h-1zM131 139h1v1h-1zM135 139h2v1h-2zM140 139h1v1h-1zM144 139h1v1h-1zM29 140h1v1h-1zM118 140h6v1h-6zM125 140h1v1h-1zM128 140h4v1h-4zM133 140h1v1h-1zM136 140h2v1h-2zM139 140h1v1h-1zM141 140h3v1h-3zM148 140h1v1h-1zM192 140h1v1h-1zM16 141h1v1h-1zM26 141h1v1h-1zM47 141h1v1h-1zM56 141h1v1h-1zM103 141h1v1h-1zM118 141h1v1h-1zM120 141h2v1h-2zM123 141h1v1h-1zM126 141h1v1h-1zM128 141h1v1h-1zM130 141h1v1h-1zM132 141h1v1h-1zM135 141h3v1h-3zM140 141h1v1h-1zM142 141h4v1h-4zM148 141h1v1h-1zM150 141h1v1h-1zM170 141h1v1h-1zM196 141h1v1h-1zM6 142h1v1h-1zM27 142h1v1h-1zM29 142h1v1h-1zM34 142h1v1h-1zM54 142h1v1h-1zM75 142h1v1h-1zM118 142h1v1h-1zM120 142h2v1h-2zM123 142h1v1h-1zM125 142h2v1h-2zM128 142h2v1h-2zM132 142h1v1h-1zM135 142h3v1h-3zM140 142h2v1h-2zM143 142h1v1h-1zM146 142h1v1h-1zM148 142h1v1h-1zM154 142h1v1h-1zM180 142h1v1h-1zM188 142h1v1h-1zM207 142h1v1h-1zM28 143h1v1h-1zM119 143h3v1h-3zM123 143h1v1h-1zM125 143h1v1h-1zM127 143h2v1h-2zM131 143h1v1h-1zM133 143h2v1h-2zM136 143h2v1h-2zM140 143h3v1h-3zM144 143h4v1h-4zM177 143h1v1h-1zM122 144h1v1h-1zM126 144h4v1h-4zM137 144h1v1h-1zM139 144h1v1h-1zM141 144h1v1h-1zM143 144h1v1h-1zM145 144h1v1h-1zM148 144h1v1h-1zM204 144h1v1h-1zM8 145h1v1h-1zM27 145h1v1h-1zM32 145h1v1h-1zM110 145h1v1h-1zM118 145h1v1h-1zM120 145h2v1h-2zM125 145h2v1h-2zM128 145h2v1h-2zM131 145h2v1h-2zM135 145h3v1h-3zM141 145h1v1h-1zM143 145h2v1h-2zM147 145h2v1h-2zM152 145h1v1h-1zM181 145h1v1h-1zM209 145h1v1h-1zM1 146h1v1h-1zM46 146h1v1h-1zM66 146h1v1h-1zM119 146h1v1h-1zM125 146h1v1h-1zM129 146h1v1h-1zM131 146h3v1h-3zM135 146h3v1h-3zM142 146h2v1h-2zM148 146h1v1h-1zM164 146h1v1h-1zM196 146h1v1h-1zM88 147h1v1h-1zM109 147h1v1h-1zM118 147h1v1h-1zM120 147h1v1h-1zM123 147h1v1h-1zM126 147h1v1h-1zM128 147h2v1h-2zM131 147h3v1h-3zM136 147h1v1h-1zM143 147h1v1h-1zM145 147h1v1h-1zM149 147h1v1h-1zM6 148h1v1h-1zM11 148h1v1h-1zM32 148h1v1h-1zM118 148h1v1h-1zM120 148h2v1h-2zM123 148h1v1h-1zM126 148h3v1h-3zM134 148h1v1h-1zM136 148h3v1h-3zM140 148h3v1h-3zM144 148h3v1h-3zM189 148h1v1h-1zM198 148h1v1h-1zM0 149h1v1h-1zM3 149h1v1h-1zM56 149h1v1h-1zM60 149h1v1h-1zM82 149h1v1h-1zM87 149h1v1h-1zM97 149h1v1h-1zM115 149h1v1h-1zM147 149h1v1h-1zM153 149h1v1h-1zM156 149h4v1h-4zM161 149h2v1h-2zM165 149h3v1h-3zM170 149h2v1h-2zM209 149h1v1h-1zM9 150h1v1h-1zM15 150h1v1h-1zM25 150h1v1h-1zM28 150h1v1h-1zM34 150h1v1h-1zM141 150h1v1h-1zM151 150h2v1h-2zM154 150h1v1h-1zM156 150h5v1h-5zM162 150h1v1h-1zM164 150h1v1h-1zM166 150h1v1h-1zM168 150h1v1h-1zM170 150h2v1h-2zM174 150h2v1h-2zM8 151h1v1h-1zM53 151h1v1h-1zM150 151h1v1h-1zM152 151h2v1h-2zM156 151h1v1h-1zM158 151h2v1h-2zM161 151h1v1h-1zM164 151h1v1h-1zM166 151h1v1h-1zM169 151h1v1h-1zM207 151h1v1h-1zM1 152h1v1h-1zM6 152h3v1h-3zM19 152h1v1h-1zM27 152h1v1h-1zM45 152h1v1h-1zM60 152h1v1h-1zM66 152h1v1h-1zM81 152h1v1h-1zM100 152h1v1h-1zM109 152h2v1h-2zM121 152h1v1h-1zM145 152h1v1h-1zM150 152h2v1h-2zM153 152h6v1h-6zM161 152h1v1h-1zM165 152h2v1h-2zM168 152h2v1h-2zM171 152h1v1h-1zM180 152h1v1h-1zM182 152h2v1h-2zM200 152h1v1h-1zM6 153h1v1h-1zM10 153h1v1h-1zM24 153h1v1h-1zM88 153h1v1h-1zM110 153h1v1h-1zM149 153h1v1h-1zM151 153h2v1h-2zM154 153h1v1h-1zM159 153h2v1h-2zM162 153h1v1h-1zM165 153h3v1h-3zM179 153h1v1h-1zM200 153h1v1h-1zM202 153h1v1h-1zM21 154h1v1h-1zM32 154h1v1h-1zM104 154h1v1h-1zM142 154h1v1h-1zM150 154h1v1h-1zM152 154h2v1h-2zM156 154h1v1h-1zM158 154h1v1h-1zM160 154h3v1h-3zM166 154h2v1h-2zM169 154h1v1h-1zM171 154h1v1h-1zM4 155h1v1h-1zM58 155h1v1h-1zM74 155h1v1h-1zM81 155h1v1h-1zM152 155h1v1h-1zM156 155h1v1h-1zM160 155h1v1h-1zM162 155h1v1h-1zM165 155h5v1h-5zM196 155h1v1h-1zM211 155h1v1h-1zM6 156h1v1h-1zM8 156h1v1h-1zM10 156h1v1h-1zM57 156h1v1h-1zM78 156h1v1h-1zM94 156h1v1h-1zM103 156h1v1h-1zM149 156h4v1h-4zM154 156h2v1h-2zM157 156h2v1h-2zM160 156h5v1h-5zM166 156h1v1h-1zM171 156h1v1h-1zM29 157h1v1h-1zM32 157h1v1h-1zM52 157h1v1h-1zM58 157h1v1h-1zM70 157h2v1h-2zM84 157h1v1h-1zM132 157h1v1h-1zM149 157h2v1h-2zM152 157h1v1h-1zM156 157h1v1h-1zM158 157h1v1h-1zM160 157h2v1h-2zM164 157h2v1h-2zM167 157h4v1h-4zM180 157h1v1h-1zM149 158h4v1h-4zM154 158h1v1h-1zM156 158h2v1h-2zM159 158h1v1h-1zM162 158h6v1h-6zM170 158h2v1h-2zM65 159h1v1h-1zM149 159h3v1h-3zM153 159h1v1h-1zM158 159h1v1h-1zM160 159h2v1h-2zM163 159h1v1h-1zM166 159h3v1h-3zM171 159h1v1h-1zM6 160h1v1h-1zM20 160h1v1h-1zM27 160h1v1h-1zM42 160h1v1h-1zM45 160h1v1h-1zM57 160h1v1h-1zM70 160h1v1h-1zM75 160h1v1h-1zM78 160h1v1h-1zM109 160h1v1h-1zM115 160h1v1h-1zM118 160h1v1h-1zM124 160h1v1h-1zM150 160h1v1h-1zM153 160h5v1h-5zM159 160h1v1h-1zM161 160h1v1h-1zM164 160h3v1h-3zM171 160h1v1h-1zM181 160h1v1h-1zM189 160h1v1h-1zM202 160h1v1h-1zM27 161h1v1h-1zM149 161h1v1h-1zM151 161h2v1h-2zM154 161h1v1h-1zM156 161h2v1h-2zM159 161h2v1h-2zM163 161h5v1h-5zM169 161h3v1h-3zM2 162h1v1h-1zM6 162h1v1h-1zM15 162h1v1h-1zM54 162h1v1h-1zM66 162h1v1h-1zM85 162h1v1h-1zM116 162h1v1h-1zM126 162h1v1h-1zM149 162h2v1h-2zM153 162h4v1h-4zM158 162h1v1h-1zM163 162h1v1h-1zM165 162h4v1h-4zM170 162h2v1h-2zM180 162h1v1h-1zM205 162h1v1h-1zM1 163h1v1h-1zM10 163h1v1h-1zM39 163h1v1h-1zM65 163h1v1h-1zM102 163h1v1h-1zM156 163h1v1h-1zM158 163h2v1h-2zM161 163h2v1h-2zM165 163h1v1h-1zM167 163h2v1h-2zM170 163h3v1h-3zM198 163h1v1h-1zM39 164h1v1h-1zM80 164h1v1h-1zM109 164h1v1h-1zM116 164h1v1h-1zM146 164h1v1h-1zM150 164h2v1h-2zM156 164h3v1h-3zM160 164h2v1h-2zM165 164h2v1h-2zM169 164h3v1h-3zM184 164h1v1h-1zM207 164h1v1h-1zM6 165h1v1h-1zM9 165h1v1h-1zM27 165h1v1h-1zM54 165h1v1h-1zM56 165h1v1h-1zM85 165h1v1h-1zM94 165h1v1h-1zM106 165h1v1h-1zM109 165h1v1h-1zM121 165h1v1h-1zM129 165h1v1h-1zM149 165h1v1h-1zM152 165h2v1h-2zM155 165h1v1h-1zM157 165h2v1h-2zM160 165h5v1h-5zM166 165h3v1h-3zM170 165h3v1h-3zM176 165h1v1h-1zM179 165h2v1h-2zM189 165h1v1h-1zM197 165h1v1h-1zM202 165h1v1h-1zM204 165h1v1h-1zM149 166h8v1h-8zM158 166h5v1h-5zM164 166h2v1h-2zM167 166h2v1h-2zM170 166h2v1h-2zM29 167h1v1h-1zM84 167h1v1h-1zM116 167h1v1h-1zM149 167h1v1h-1zM153 167h3v1h-3zM157 167h3v1h-3zM161 167h3v1h-3zM165 167h2v1h-2zM168 167h1v1h-1zM170 167h2v1h-2zM96 168h1v1h-1zM130 168h1v1h-1zM150 168h1v1h-1zM152 168h1v1h-1zM155 168h1v1h-1zM157 168h1v1h-1zM159 168h1v1h-1zM162 168h2v1h-2zM165 168h3v1h-3zM169 168h1v1h-1zM2 169h1v1h-1zM9 169h1v1h-1zM27 169h2v1h-2zM58 169h1v1h-1zM77 169h1v1h-1zM95 169h1v1h-1zM107 169h2v1h-2zM151 169h2v1h-2zM154 169h2v1h-2zM157 169h1v1h-1zM161 169h1v1h-1zM164 169h1v1h-1zM168 169h1v1h-1zM171 169h1v1h-1zM202 169h1v1h-1zM5 170h2v1h-2zM8 170h1v1h-1zM20 170h1v1h-1zM27 170h1v1h-1zM29 170h1v1h-1zM39 170h1v1h-1zM61 170h1v1h-1zM71 170h1v1h-1zM88 170h1v1h-1zM101 170h1v1h-1zM110 170h1v1h-1zM141 170h1v1h-1zM149 170h2v1h-2zM157 170h2v1h-2zM161 170h7v1h-7zM171 170h1v1h-1zM182 170h1v1h-1zM192 170h1v1h-1zM202 170h1v1h-1zM210 170h1v1h-1zM27 171h1v1h-1zM126 171h1v1h-1zM149 171h2v1h-2zM152 171h1v1h-1zM154 171h1v1h-1zM156 171h1v1h-1zM158 171h10v1h-10zM169 171h2v1h-2zM176 171h1v1h-1zM15 172h1v1h-1zM95 172h1v1h-1zM105 172h1v1h-1zM109 172h2v1h-2zM163 172h1v1h-1zM165 172h1v1h-1zM173 172h2v1h-2zM176 172h1v1h-1zM178 172h1v1h-1zM192 172h1v1h-1zM205 172h1v1h-1zM92 173h1v1h-1zM116 173h1v1h-1zM172 173h1v1h-1zM174 173h5v1h-5zM7 174h1v1h-1zM24 174h1v1h-1zM32 174h1v1h-1zM38 174h1v1h-1zM56 174h1v1h-1zM85 174h1v1h-1zM88 174h1v1h-1zM150 174h1v1h-1zM172 174h2v1h-2zM175 174h2v1h-2zM178 174h1v1h-1zM181 174h1v1h-1zM183 174h1v1h-1zM34 175h1v1h-1zM56 175h1v1h-1zM150 175h1v1h-1zM173 175h2v1h-2zM176 175h3v1h-3zM180 175h1v1h-1zM8 176h1v1h-1zM22 176h1v1h-1zM55 176h2v1h-2zM108 176h1v1h-1zM124 176h1v1h-1zM165 176h1v1h-1zM171 176h5v1h-5zM178 176h1v1h-1zM181 176h1v1h-1zM61 177h1v1h-1zM122 177h1v1h-1zM136 177h1v1h-1zM143 177h1v1h-1zM173 177h1v1h-1zM175 177h1v1h-1zM178 177h1v1h-1zM182 177h1v1h-1zM197 177h1v1h-1zM206 177h1v1h-1zM2 178h1v1h-1zM7 178h1v1h-1zM172 178h6v1h-6zM179 178h2v1h-2zM185 178h1v1h-1zM5 179h1v1h-1zM36 179h1v1h-1zM44 179h1v1h-1zM83 179h1v1h-1zM121 179h1v1h-1zM153 179h1v1h-1zM165 179h1v1h-1zM178 179h1v1h-1zM181 179h2v1h-2zM202 179h1v1h-1zM206 179h1v1h-1zM59 180h1v1h-1zM92 180h1v1h-1zM142 180h1v1h-1zM152 180h1v1h-1zM157 180h1v1h-1zM162 180h1v1h-1zM165 180h1v1h-1zM175 180h1v1h-1zM178 180h1v1h-1zM182 180h1v1h-1zM184 180h1v1h-1zM188 180h1v1h-1zM54 181h1v1h-1zM60 181h1v1h-1zM70 181h1v1h-1zM77 181h1v1h-1zM84 181h1v1h-1zM103 181h1v1h-1zM120 181h1v1h-1zM134 181h1v1h-1zM145 181h1v1h-1zM160 181h1v1h-1zM174 181h1v1h-1zM176 181h1v1h-1zM179 181h1v1h-1zM186 181h1v1h-1zM190 181h1v1h-1zM193 181h1v1h-1zM13 182h1v1h-1zM22 182h1v1h-1zM41 182h1v1h-1zM77 182h1v1h-1zM152 182h1v1h-1zM170 182h1v1h-1zM177 182h1v1h-1zM179 182h2v1h-2zM192 182h1v1h-1zM13 183h1v1h-1zM43 183h1v1h-1zM56 183h1v1h-1zM70 183h2v1h-2zM82 183h1v1h-1zM106 183h1v1h-1zM123 183h1v1h-1zM152 183h1v1h-1zM174 183h1v1h-1zM184 183h3v1h-3zM189 183h4v1h-4zM198 183h1v1h-1zM8 184h1v1h-1zM10 184h1v1h-1zM15 184h1v1h-1zM29 184h2v1h-2zM78 184h1v1h-1zM87 184h1v1h-1zM118 184h1v1h-1zM164 184h1v1h-1zM180 184h1v1h-1zM183 184h1v1h-1zM185 184h3v1h-3zM189 184h1v1h-1zM191 184h1v1h-1zM196 184h1v1h-1zM31 185h1v1h-1zM108 185h1v1h-1zM125 185h1v1h-1zM178 185h1v1h-1zM183 185h2v1h-2zM189 185h1v1h-1zM191 185h1v1h-1zM207 185h1v1h-1zM18 186h1v1h-1zM31 186h1v1h-1zM34 186h1v1h-1zM39 186h1v1h-1zM73 186h1v1h-1zM77 186h1v1h-1zM89 186h1v1h-1zM116 186h1v1h-1zM181 186h1v1h-1zM183 186h2v1h-2zM187 186h1v1h-1zM189 186h2v1h-2zM193 186h1v1h-1zM209 186h1v1h-1zM84 187h1v1h-1zM134 187h1v1h-1zM184 187h1v1h-1zM186 187h1v1h-1zM189 187h1v1h-1zM191 187h1v1h-1zM11 188h1v1h-1zM23 188h2v1h-2zM51 188h1v1h-1zM79 188h1v1h-1zM98 188h1v1h-1zM142 188h1v1h-1zM180 188h1v1h-1zM189 188h1v1h-1zM114 189h1v1h-1zM148 189h1v1h-1zM160 189h1v1h-1zM165 189h1v1h-1zM183 189h6v1h-6zM193 189h1v1h-1zM57 190h1v1h-1zM78 190h1v1h-1zM88 190h1v1h-1zM103 190h1v1h-1zM123 190h1v1h-1zM181 190h1v1h-1zM183 190h1v1h-1zM186 190h1v1h-1zM191 190h1v1h-1zM6 191h1v1h-1zM9 191h1v1h-1zM78 191h1v1h-1zM111 191h1v1h-1zM126 191h1v1h-1zM183 191h3v1h-3zM187 191h1v1h-1zM190 191h1v1h-1zM196 191h1v1h-1zM202 191h1v1h-1zM210 191h1v1h-1zM10 192h1v1h-1zM22 192h1v1h-1zM92 192h1v1h-1zM110 192h1v1h-1zM140 192h1v1h-1zM170 192h1v1h-1zM172 192h1v1h-1zM182 192h2v1h-2zM193 192h1v1h-1zM10 193h1v1h-1zM42 193h1v1h-1zM68 193h1v1h-1zM77 193h1v1h-1zM96 193h1v1h-1zM181 193h1v1h-1zM186 193h1v1h-1zM189 193h1v1h-1zM192 193h1v1h-1zM194 193h1v1h-1zM200 193h1v1h-1zM202 193h1v1h-1zM193 194h1v1h-1zM195 194h1v1h-1zM133 195h1v1h-1zM194 195h1v1h-1zM15 196h1v1h-1zM85 196h1v1h-1zM106 196h1v1h-1zM127 196h1v1h-1zM138 196h1v1h-1zM141 196h1v1h-1zM146 196h1v1h-1zM155 196h1v1h-1zM184 196h1v1h-1zM191 196h1v1h-1zM197 196h1v1h-1zM199 196h2v1h-2zM202 196h2v1h-2zM207 196h1v1h-1zM209 196h1v1h-1zM76 197h1v1h-1zM97 197h1v1h-1zM112 197h1v1h-1zM165 197h1v1h-1zM177 197h1v1h-1zM196 197h1v1h-1zM198 197h1v1h-1zM200 197h1v1h-1zM211 197h1v1h-1zM2 198h1v1h-1zM148 198h1v1h-1zM163 198h1v1h-1zM183 198h1v1h-1zM197 198h1v1h-1zM200 198h3v1h-3zM209 198h1v1h-1zM19 199h1v1h-1zM31 199h1v1h-1zM196 199h1v1h-1zM202 199h2v1h-2zM0 200h2v1h-2zM13 200h1v1h-1zM53 200h1v1h-1zM84 200h1v1h-1zM152 200h2v1h-2zM193 200h1v1h-1zM196 200h3v1h-3zM202 200h1v1h-1zM204 200h1v1h-1zM7 201h1v1h-1zM13 201h1v1h-1zM20 201h1v1h-1zM45 201h1v1h-1zM65 201h1v1h-1zM78 201h1v1h-1zM126 201h1v1h-1zM134 201h1v1h-1zM138 201h1v1h-1zM198 201h1v1h-1zM202 201h1v1h-1zM204 201h1v1h-1zM3 202h1v1h-1zM5 202h2v1h-2zM17 202h1v1h-1zM24 202h1v1h-1zM39 202h1v1h-1zM114 202h1v1h-1zM122 202h1v1h-1zM153 202h1v1h-1zM160 202h1v1h-1zM165 202h1v1h-1zM169 202h2v1h-2zM179 202h1v1h-1zM191 202h1v1h-1zM193 202h1v1h-1zM196 202h1v1h-1zM198 202h4v1h-4zM203 202h2v1h-2zM134 203h1v1h-1zM196 203h1v1h-1zM199 203h1v1h-1zM202 203h1v1h-1zM9 204h1v1h-1zM92 204h1v1h-1zM130 204h1v1h-1zM144 204h1v1h-1zM165 204h1v1h-1zM200 204h3v1h-3zM0 205h1v1h-1zM95 205h1v1h-1zM110 205h1v1h-1zM162 205h1v1h-1zM172 205h1v1h-1zM209 205h1v1h-1zM17 206h1v1h-1zM50 206h1v1h-1zM88 206h1v1h-1zM177 206h1v1h-1zM179 206h1v1h-1zM207 206h3v1h-3zM211 206h1v1h-1zM2 207h1v1h-1zM14 207h1v1h-1zM27 207h1v1h-1zM29 207h1v1h-1zM41 207h1v1h-1zM69 207h2v1h-2zM132 207h2v1h-2zM142 207h1v1h-1zM151 207h1v1h-1zM164 207h1v1h-1zM185 207h1v1h-1zM196 207h1v1h-1zM206 207h1v1h-1zM210 207h2v1h-2zM17 208h1v1h-1zM45 208h1v1h-1zM123 208h1v1h-1zM206 208h1v1h-1zM210 208h2v1h-2zM14 209h1v1h-1zM22 209h1v1h-1zM53 209h1v1h-1zM63 209h1v1h-1zM121 209h1v1h-1zM145 209h1v1h-1zM149 209h1v1h-1zM186 209h1v1h-1zM196 209h1v1h-1zM198 209h1v1h-1zM205 209h2v1h-2zM1 210h2v1h-2zM4 210h1v1h-1zM6 210h1v1h-1zM21 210h1v1h-1zM45 210h1v1h-1zM82 210h1v1h-1zM108 210h1v1h-1zM116 210h1v1h-1zM170 210h1v1h-1zM191 210h1v1h-1zM207 210h2v1h-2zM2 211h1v1h-1zM42 211h1v1h-1zM118 211h1v1h-1zM126 211h1v1h-1zM155 211h1v1h-1zM197 211h1v1h-1zM206 211h3v1h-3z"/>
<path fill="#00f" d="M5 0h1v1h-1zM14 0h1v1h-1zM103 0h1v1h-1zM200 0h1v1h-1zM69 1h1v1h-1zM105 1h1v1h-1zM5 2h1v1h-1zM169 2h1v1h-1zM178 2h1v1h-1zM9 3h1v1h-1zM12 3h1v1h-1zM70 3h1v1h-1zM0 5h1v1h-1zM2 5h1v1h-1zM76 5h1v1h-1zM179 5h1v1h-1zM10 6h1v1h-1zM101 6h1v1h-1zM121 7h1v1h-1zM201 7h1v1h-1zM13 8h1v1h-1zM130 8h1v1h-1zM3 9h1v1h-1zM11 9h1v1h-1zM6 10h1v1h-1zM9 11h1v1h-1zM3 12h1v1h-1zM14 12h1v1h-1zM8 13h1v1h-1zM0 14h1v1h-1zM12 14h1v1h-1zM19 15h2v1h-2zM25 15h1v1h-1zM28 15h1v1h-1zM162 15h1v1h-1zM23 16h1v1h-1zM18 17h1v1h-1zM20 17h1v1h-1zM24 17h1v1h-1zM27 17h1v1h-1zM29 17h1v1h-1zM31 17h1v1h-1zM17 18h1v1h-1zM19 18h1v1h-1zM22 18h2v1h-2zM25 18h2v1h-2zM28 18h1v1h-1zM30 18h2v1h-2zM15 19h1v1h-1zM18 19h1v1h-1zM15 20h1v1h-1zM17 20h1v1h-1zM26 20h1v1h-1zM28 20h1v1h-1zM22 21h1v1h-1zM24 21h2v1h-2zM102 21h1v1h-1zM154 21h1v1h-1zM18 22h1v1h-1zM21 22h1v1h-1zM23 22h1v1h-1zM25 22h2v1h-2zM28 22h1v1h-1zM73 22h1v1h-1zM16 23h1v1h-1zM18 23h1v1h-1zM22 23h1v1h-1zM32 23h1v1h-1zM17 24h1v1h-1zM21 24h1v1h-1zM25 24h2v1h-2zM15 25h1v1h-1zM18 25h1v1h-1zM21 25h2v1h-2zM24 25h1v1h-1zM31 25h1v1h-1zM18 26h1v1h-1zM20 26h1v1h-1zM22 26h1v1h-1zM24 26h1v1h-1zM29 26h1v1h-1zM32 26h1v1h-1zM17 27h1v1h-1zM30 27h1v1h-1zM109 27h1v1h-1zM15 28h1v1h-1zM18 28h1v1h-1zM20 28h1v1h-1zM22 28h1v1h-1zM30 28h1v1h-1zM32 28h1v1h-1zM17 29h1v1h-1zM26 29h1v1h-1zM33 29h1v1h-1zM18 30h1v1h-1zM27 30h2v1h-2zM17 31h2v1h-2zM25 31h1v1h-1zM185 31h1v1h-1zM23 32h1v1h-1zM26 32h1v1h-1zM28 32h1v1h-1zM29 33h1v1h-1zM36 33h1v1h-1zM57 34h1v1h-1zM175 34h1v1h-1zM33 36h1v1h-1zM52 37h1v1h-1zM49 38h1v1h-1zM60 41h1v1h-1zM109 41h1v1h-1zM55 44h1v1h-1zM55 47h1v1h-1zM38 49h1v1h-1zM61 49h1v1h-1zM119 49h1v1h-1zM59 50h1v1h-1zM37 52h1v1h-1zM53 52h1v1h-1zM52 53h1v1h-1zM44 55h1v1h-1zM47 55h1v1h-1zM62 55h1v1h-1zM138 56h1v1h-1zM34 57h1v1h-1zM190 57h1v1h-1zM50 59h1v1h-1zM41 60h1v1h-1zM49 61h1v1h-1zM55 62h1v1h-1zM95 63h1v1h-1zM114 65h1v1h-1zM82 66h1v1h-1zM85 66h1v1h-1zM152 66h1v1h-1zM107 67h1v1h-1zM89 68h1v1h-1zM105 68h1v1h-1zM1 69h1v1h-1zM99 69h1v1h-1zM104 69h1v1h-1zM115 69h1v1h-1zM3 70h1v1h-1zM90 70h1v1h-1zM74 71h1v1h-1zM80 71h1v1h-1zM90 71h1v1h-1zM103 71h1v1h-1zM22 73h1v1h-1zM71 74h1v1h-1zM80 74h1v1h-1zM84 74h1v1h-1zM155 74h1v1h-1zM83 75h1v1h-1zM5 76h1v1h-1zM94 76h1v1h-1zM89 77h1v1h-1zM191 78h1v1h-1zM84 79h1v1h-1zM71 80h1v1h-1zM74 80h1v1h-1zM97 80h1v1h-1zM112 80h1v1h-1zM108 81h1v1h-1zM66 82h1v1h-1zM104 82h1v1h-1zM75 83h1v1h-1zM74 84h1v1h-1zM79 84h1v1h-1zM66 85h1v1h-1zM89 85h1v1h-1zM114 88h1v1h-1zM68 89h1v1h-1zM77 89h1v1h-1zM85 89h1v1h-1zM99 89h1v1h-1zM70 90h2v1h-2zM95 90h1v1h-1zM105 90h1v1h-1zM106 93h1v1h-1zM76 94h1v1h-1zM63 95h1v1h-1zM90 95h1v1h-1zM97 95h1v1h-1zM112 95h1v1h-1zM134 95h1v1h-1zM80 97h1v1h-1zM95 97h1v1h-1zM103 97h1v1h-1zM104 98h1v1h-1zM111 98h1v1h-1zM69 99h1v1h-1zM89 99h1v1h-1zM6 101h1v1h-1zM102 101h1v1h-1zM104 101h1v1h-1zM21 102h1v1h-1zM101 102h1v1h-1zM116 102h1v1h-1zM0 103h1v1h-1zM71 103h1v1h-1zM97 103h1v1h-1zM69 104h1v1h-1zM82 104h1v1h-1zM98 104h1v1h-1zM101 104h1v1h-1zM1 105h1v1h-1zM68 105h1v1h-1zM90 105h1v1h-1zM93 106h1v1h-1zM67 107h1v1h-1zM81 108h1v1h-1zM27 109h1v1h-1zM41 109h1v1h-1zM112 110h1v1h-1zM114 110h2v1h-2zM98 111h1v1h-1zM80 112h1v1h-1zM95 112h1v1h-1zM110 112h1v1h-1zM65 114h1v1h-1zM88 114h1v1h-1zM110 114h1v1h-1zM69 115h1v1h-1zM110 115h1v1h-1zM102 116h1v1h-1zM119 118h1v1h-1zM49 119h1v1h-1zM118 119h1v1h-1zM121 119h1v1h-1zM140 120h1v1h-1zM7 121h1v1h-1zM119 121h1v1h-1zM137 121h1v1h-1zM148 121h1v1h-1zM128 123h1v1h-1zM143 123h1v1h-1zM129 125h1v1h-1zM146 125h1v1h-1zM123 128h1v1h-1zM136 128h1v1h-1zM140 128h1v1h-1zM125 129h1v1h-1zM8 130h1v1h-1zM140 130h1v1h-1zM139 131h2v1h-2zM145 131h1v1h-1zM137 133h1v1h-1zM147 133h1v1h-1zM95 134h1v1h-1zM138 134h1v1h-1zM187 134h1v1h-1zM145 135h1v1h-1zM128 136h1v1h-1zM143 136h1v1h-1zM145 136h2v1h-2zM121 137h1v1h-1zM133 137h1v1h-1zM56 138h1v1h-1zM134 138h1v1h-1zM131 139h1v1h-1zM120 140h1v1h-1zM128 140h1v1h-1zM130 140h2v1h-2zM192 140h1v1h-1zM154 142h1v1h-1zM123 143h1v1h-1zM136 143h1v1h-1zM148 144h1v1h-1zM131 145h1v1h-1zM135 145h2v1h-2zM147 145h1v1h-1zM152 145h1v1h-1zM125 146h1v1h-1zM136 146h1v1h-1zM133 147h1v1h-1zM145 147h1v1h-1zM149 147h1v1h-1zM121 148h1v1h-1zM144 148h1v1h-1zM147 149h1v1h-1zM165 149h1v1h-1zM152 151h1v1h-1zM156 151h1v1h-1zM66 152h1v1h-1zM145 152h1v1h-1zM151 152h1v1h-1zM171 152h1v1h-1zM21 154h1v1h-1zM142 154h1v1h-1zM169 154h1v1h-1zM74 155h1v1h-1zM151 156h1v1h-1zM167 157h1v1h-1zM159 158h1v1h-1zM158 159h1v1h-1zM167 159h1v1h-1zM169 161h1v1h-1zM171 161h1v1h-1zM15 162h1v1h-1zM163 162h1v1h-1zM162 163h1v1h-1zM170 163h1v1h-1zM172 163h1v1h-1zM166 164h1v1h-1zM171 164h1v1h-1zM149 165h1v1h-1zM189 165h1v1h-1zM164 166h1v1h-1zM157 167h1v1h-1zM159 167h1v1h-1zM2 169h1v1h-1zM154 169h1v1h-1zM161 169h1v1h-1zM171 169h1v1h-1zM163 170h1v1h-1zM152 171h1v1h-1zM161 171h1v1h-1zM164 171h1v1h-1zM169 171h1v1h-1zM163 172h1v1h-1zM205 172h1v1h-1zM34 175h1v1h-1zM2 178h1v1h-1zM185 178h1v1h-1zM5 179h1v1h-1zM206 179h1v1h-1zM190 181h1v1h-1zM31 185h1v1h-1zM178 185h1v1h-1zM134 187h1v1h-1zM165 189h1v1h-1zM193 189h1v1h-1zM57 190h1v1h-1zM181 190h1v1h-1zM78 191h1v1h-1zM140 192h1v1h-1zM189 193h1v1h-1zM200 193h1v1h-1zM197 196h1v1h-1zM202 196h1v1h-1zM196 197h1v1h-1zM198 197h1v1h-1zM200 197h1v1h-1zM197 198h1v1h-1zM200 198h2v1h-2zM0 200h1v1h-1zM193 200h1v1h-1zM197 200h2v1h-2zM7 201h1v1h-1zM198 201h1v1h-1zM204 201h1v1h-1zM196 202h1v1h-1zM203 202h2v1h-2zM202 203h1v1h-1zM201 204h2v1h-2zM172 205h1v1h-1zM179 206h1v1h-1z"/>
</g>
<g transform="translate(917.90 2015.80) scale(3.1186)">
<path fill="#000" d="M1 0h1v1h-1zM4 0h4v1h-4zM10 0h1v1h-1zM14 0h2v1h-2zM17 0h4v1h-4zM33 0h1v1h-1zM56 0h1v1h-1zM163 0h1v1h-1zM0 1h1v1h-1zM2 1h1v1h-1zM4 1h2v1h-2zM8 1h1v1h-1zM10 1h1v1h-1zM15 1h1v1h-1zM20 1h3v1h-3zM32 1h1v1h-1zM39 1h1v1h-1zM85 1h1v1h-1zM89 1h1v1h-1zM1 2h1v1h-1zM3 2h1v1h-1zM7 2h3v1h-3zM13 2h3v1h-3zM17 2h1v1h-1zM19 2h3v1h-3zM24 2h2v1h-2zM2 3h1v1h-1zM4 3h4v1h-4zM13 3h1v1h-1zM15 3h1v1h-1zM17 3h2v1h-2zM20 3h2v1h-2zM24 3h1v1h-1zM26 3h1v1h-1zM29 3h1v1h-1zM32 3h1v1h-1zM35 3h2v1h-2zM74 3h1v1h-1zM166 3h1v1h-1zM0 4h2v1h-2zM3 4h1v1h-1zM6 4h1v1h-1zM9 4h1v1h-1zM14 4h1v1h-1zM17 4h5v1h-5zM25 4h1v1h-1zM28 4h1v1h-1zM30 4h1v1h-1zM37 4h1v1h-1zM0 5h2v1h-2zM3 5h1v1h-1zM7 5h3v1h-3zM13 5h2v1h-2zM17 5h1v1h-1zM19 5h2v1h-2zM24 5h1v1h-1zM27 5h1v1h-1zM32 5h1v1h-1zM35 5h1v1h-1zM107 5h2v1h-2zM134 5h1v1h-1zM0 6h1v1h-1zM3 6h2v1h-2zM7 6h1v1h-1zM11 6h2v1h-2zM14 6h2v1h-2zM18 6h1v1h-1zM22 6h1v1h-1zM24 6h1v1h-1zM30 6h1v1h-1zM33 6h1v1h-1zM35 6h1v1h-1zM88 6h1v1h-1zM113 6h1v1h-1zM0 7h1v1h-1zM2 7h2v1h-2zM5 7h2v1h-2zM8 7h3v1h-3zM12 7h2v1h-2zM15 7h1v1h-1zM19 7h3v1h-3zM34 7h3v1h-3zM44 7h1v1h-1zM130 7h1v1h-1zM1 8h2v1h-2zM5 8h1v1h-1zM7 8h1v1h-1zM11 8h1v1h-1zM16 8h1v1h-1zM19 8h3v1h-3zM27 8h1v1h-1zM30 8h2v1h-2zM33 8h1v1h-1zM2 9h1v1h-1zM4 9h2v1h-2zM7 9h1v1h-1zM10 9h1v1h-1zM13 9h1v1h-1zM15 9h1v1h-1zM17 9h1v1h-1zM21 9h1v1h-1zM24 9h1v1h-1zM29 9h1v1h-1zM34 9h1v1h-1zM69 9h1v1h-1zM92 9h1v1h-1zM99 9h1v1h-1zM0 10h2v1h-2zM7 10h1v1h-1zM9 10h1v1h-1zM15 10h1v1h-1zM18 10h1v1h-1zM21 10h1v1h-1zM28 10h2v1h-2zM33 10h1v1h-1zM36 10h1v1h-1zM93 10h1v1h-1zM99 10h1v1h-1zM122 10h1v1h-1zM131 10h1v1h-1zM6 11h1v1h-1zM8 11h1v1h-1zM12 11h1v1h-1zM14 11h1v1h-1zM18 11h1v1h-1zM26 11h1v1h-1zM28 11h1v1h-1zM36 11h1v1h-1zM102 11h1v1h-1zM150 11h1v1h-1zM6 12h2v1h-2zM11 12h1v1h-1zM14 12h1v1h-1zM16 12h1v1h-1zM20 12h1v1h-1zM24 12h1v1h-1zM27 12h1v1h-1zM29 12h1v1h-1zM32 12h1v1h-1zM36 12h1v1h-1zM145 12h1v1h-1zM2 13h2v1h-2zM5 13h1v1h-1zM7 13h1v1h-1zM9 13h1v1h-1zM16 13h1v1h-1zM20 13h1v1h-1zM23 13h2v1h-2zM29 13h1v1h-1zM32 13h4v1h-4zM0 14h1v1h-1zM2 14h1v1h-1zM4 14h3v1h-3zM11 14h2v1h-2zM16 14h1v1h-1zM20 14h1v1h-1zM23 14h3v1h-3zM27 14h1v1h-1zM29 14h1v1h-1zM33 14h2v1h-2zM0 15h4v1h-4zM6 15h2v1h-2zM9 15h2v1h-2zM17 15h1v1h-1zM19 15h2v1h-2zM22 15h1v1h-1zM24 15h1v1h-1zM26 15h1v1h-1zM30 15h2v1h-2zM34 15h1v1h-1zM87 15h1v1h-1zM137 15h1v1h-1zM8 16h1v1h-1zM12 16h3v1h-3zM17 16h1v1h-1zM22 16h1v1h-1zM31 16h1v1h-1zM34 16h1v1h-1zM37 16h1v1h-1zM126 16h1v1h-1zM0 17h1v1h-1zM2 17h4v1h-4zM9 17h1v1h-1zM15 17h2v1h-2zM19 17h1v1h-1zM21 17h1v1h-1zM24 17h1v1h-1zM27 17h1v1h-1zM52 17h1v1h-1zM0 18h1v1h-1zM3 18h2v1h-2zM6 18h1v1h-1zM10 18h2v1h-2zM19 18h1v1h-1zM21 18h1v1h-1zM28 18h1v1h-1zM32 18h1v1h-1zM34 18h1v1h-1zM0 19h1v1h-1zM2 19h1v1h-1zM4 19h2v1h-2zM7 19h2v1h-2zM15 19h1v1h-1zM17 19h2v1h-2zM21 19h1v1h-1zM24 19h1v1h-1zM28 19h1v1h-1zM31 19h1v1h-1zM89 19h1v1h-1zM0 20h6v1h-6zM7 20h2v1h-2zM12 20h4v1h-4zM21 20h2v1h-2zM26 20h4v1h-4zM31 20h1v1h-1zM33 20h1v1h-1zM35 20h1v1h-1zM1 21h4v1h-4zM7 21h4v1h-4zM17 21h4v1h-4zM22 21h1v1h-1zM24 21h1v1h-1zM29 21h1v1h-1zM31 21h1v1h-1zM33 21h1v1h-1zM35 21h1v1h-1zM37 21h1v1h-1zM83 21h1v1h-1zM131 21h1v1h-1zM1 22h1v1h-1zM6 22h1v1h-1zM15 22h2v1h-2zM20 22h2v1h-2zM23 22h1v1h-1zM30 22h1v1h-1zM32 22h2v1h-2zM36 22h1v1h-1zM13 23h2v1h-2zM22 23h1v1h-1zM25 23h1v1h-1zM29 23h3v1h-3zM36 23h1v1h-1zM2 24h2v1h-2zM5 24h2v1h-2zM9 24h1v1h-1zM12 24h4v1h-4zM17 24h1v1h-1zM19 24h1v1h-1zM21 24h1v1h-1zM26 24h1v1h-1zM32 24h1v1h-1zM92 24h1v1h-1zM130 24h1v1h-1zM2 25h1v1h-1zM4 25h1v1h-1zM14 25h1v1h-1zM23 25h1v1h-1zM35 25h1v1h-1zM111 25h1v1h-1zM3 26h1v1h-1zM11 26h1v1h-1zM15 26h1v1h-1zM20 26h1v1h-1zM24 26h1v1h-1zM30 26h1v1h-1zM34 26h1v1h-1zM5 27h1v1h-1zM8 27h1v1h-1zM12 27h1v1h-1zM14 27h1v1h-1zM17 27h1v1h-1zM20 27h1v1h-1zM32 27h2v1h-2zM37 27h1v1h-1zM92 27h1v1h-1zM4 28h1v1h-1zM10 28h2v1h-2zM18 28h3v1h-3zM32 28h1v1h-1zM35 28h1v1h-1zM3 29h1v1h-1zM9 29h2v1h-2zM12 29h3v1h-3zM20 29h2v1h-2zM23 29h1v1h-1zM34 29h1v1h-1zM36 29h1v1h-1zM4 30h1v1h-1zM6 30h1v1h-1zM8 30h1v1h-1zM15 30h1v1h-1zM22 30h2v1h-2zM26 30h1v1h-1zM88 30h1v1h-1zM102 30h1v1h-1zM8 31h1v1h-1zM15 31h2v1h-2zM19 31h3v1h-3zM23 31h1v1h-1zM36 31h1v1h-1zM1 32h1v1h-1zM3 32h1v1h-1zM5 32h1v1h-1zM12 32h2v1h-2zM18 32h1v1h-1zM22 32h1v1h-1zM24 32h1v1h-1zM27 32h2v1h-2zM37 32h1v1h-1zM0 33h1v1h-1zM6 33h1v1h-1zM8 33h1v1h-1zM10 33h1v1h-1zM13 33h2v1h-2zM20 33h3v1h-3zM27 33h1v1h-1zM34 33h3v1h-3zM130 33h1v1h-1zM167 33h1v1h-1zM7 34h1v1h-1zM9 34h1v1h-1zM13 34h4v1h-4zM18 34h1v1h-1zM26 34h1v1h-1zM29 34h1v1h-1zM33 34h1v1h-1zM37 34h1v1h-1zM3 35h1v1h-1zM5 35h3v1h-3zM13 35h1v1h-1zM20 35h2v1h-2zM25 35h1v1h-1zM28 35h1v1h-1zM33 35h1v1h-1zM39 35h1v1h-1zM74 35h1v1h-1zM80 35h1v1h-1zM102 35h1v1h-1zM3 36h1v1h-1zM7 36h1v1h-1zM10 36h3v1h-3zM22 36h2v1h-2zM29 36h1v1h-1zM31 36h1v1h-1zM33 36h1v1h-1zM37 36h1v1h-1zM4 37h1v1h-1zM16 37h1v1h-1zM21 37h1v1h-1zM27 37h1v1h-1zM32 37h1v1h-1zM34 37h1v1h-1zM36 37h1v1h-1zM119 37h1v1h-1zM46 38h1v1h-1zM48 38h1v1h-1zM55 38h2v1h-2zM60 38h1v1h-1zM71 38h1v1h-1zM148 38h2v1h-2zM161 38h1v1h-1zM166 38h1v1h-1zM1 39h1v1h-1zM35 39h1v1h-1zM46 39h1v1h-1zM56 39h1v1h-1zM68 39h1v1h-1zM88 39h1v1h-1zM105 39h1v1h-1zM116 39h1v1h-1zM163 39h1v1h-1zM176 39h1v1h-1zM47 40h1v1h-1zM53 40h1v1h-1zM57 40h1v1h-1zM69 40h1v1h-1zM78 40h1v1h-1zM46 41h1v1h-1zM50 41h1v1h-1zM52 41h1v1h-1zM70 41h2v1h-2zM161 41h1v1h-1zM176 41h1v1h-1zM53 42h1v1h-1zM64 42h1v1h-1zM159 42h1v1h-1zM44 43h1v1h-1zM56 43h1v1h-1zM62 43h2v1h-2zM67 43h1v1h-1zM69 43h1v1h-1zM71 43h1v1h-1zM146 43h1v1h-1zM7 44h1v1h-1zM43 44h1v1h-1zM46 44h2v1h-2zM52 44h1v1h-1zM55 44h1v1h-1zM57 44h1v1h-1zM60 44h1v1h-1zM62 44h2v1h-2zM68 44h1v1h-1zM47 45h1v1h-1zM62 45h1v1h-1zM69 45h1v1h-1zM78 45h1v1h-1zM166 45h1v1h-1zM38 46h2v1h-2zM41 46h1v1h-1zM44 46h1v1h-1zM47 46h1v1h-1zM50 46h1v1h-1zM56 46h1v1h-1zM59 46h1v1h-1zM67 46h1v1h-1zM40 47h1v1h-1zM44 47h3v1h-3zM52 47h1v1h-1zM54 47h1v1h-1zM60 47h1v1h-1zM65 47h1v1h-1zM69 47h2v1h-2zM74 47h1v1h-1zM153 47h1v1h-1zM156 47h1v1h-1zM160 47h1v1h-1zM38 48h1v1h-1zM49 48h1v1h-1zM51 48h1v1h-1zM54 48h1v1h-1zM60 48h1v1h-1zM64 48h1v1h-1zM67 48h1v1h-1zM70 48h1v1h-1zM153 48h1v1h-1zM48 49h1v1h-1zM51 49h1v1h-1zM60 49h1v1h-1zM67 49h1v1h-1zM41 50h1v1h-1zM46 50h1v1h-1zM51 50h4v1h-4zM56 50h1v1h-1zM60 50h2v1h-2zM163 50h1v1h-1zM48 51h3v1h-3zM54 51h2v1h-2zM59 51h4v1h-4zM66 51h1v1h-1zM17 52h1v1h-1zM41 52h1v1h-1zM44 52h1v1h-1zM47 52h1v1h-1zM50 52h1v1h-1zM53 52h3v1h-3zM59 52h2v1h-2zM63 52h1v1h-1zM68 52h2v1h-2zM71 52h1v1h-1zM148 52h2v1h-2zM164 52h1v1h-1zM174 52h1v1h-1zM40 53h1v1h-1zM42 53h1v1h-1zM50 53h1v1h-1zM52 53h1v1h-1zM56 53h1v1h-1zM58 53h1v1h-1zM61 53h1v1h-1zM69 53h1v1h-1zM71 53h1v1h-1zM47 54h2v1h-2zM50 54h3v1h-3zM56 54h2v1h-2zM62 54h3v1h-3zM66 54h1v1h-1zM174 54h1v1h-1zM38 55h1v1h-1zM44 55h1v1h-1zM51 55h2v1h-2zM56 55h1v1h-1zM63 55h1v1h-1zM160 55h1v1h-1zM169 55h1v1h-1zM0 56h1v1h-1zM38 56h2v1h-2zM43 56h1v1h-1zM46 56h1v1h-1zM50 56h1v1h-1zM53 56h3v1h-3zM63 56h1v1h-1zM71 56h1v1h-1zM90 56h1v1h-1zM166 56h1v1h-1zM40 57h1v1h-1zM44 57h1v1h-1zM54 57h1v1h-1zM58 57h1v1h-1zM60 57h2v1h-2zM65 57h1v1h-1zM157 57h1v1h-1zM53 58h1v1h-1zM57 58h1v1h-1zM64 58h1v1h-1zM69 58h1v1h-1zM149 58h1v1h-1zM160 58h2v1h-2zM165 58h1v1h-1zM46 59h1v1h-1zM51 59h2v1h-2zM60 59h1v1h-1zM67 59h1v1h-1zM146 59h1v1h-1zM148 59h1v1h-1zM38 60h1v1h-1zM44 60h1v1h-1zM47 60h6v1h-6zM57 60h1v1h-1zM59 60h1v1h-1zM68 60h1v1h-1zM88 60h1v1h-1zM159 60h1v1h-1zM50 61h2v1h-2zM53 61h1v1h-1zM57 61h1v1h-1zM75 61h1v1h-1zM165 61h1v1h-1zM43 62h3v1h-3zM51 62h1v1h-1zM54 62h1v1h-1zM70 62h1v1h-1zM163 62h1v1h-1zM43 63h2v1h-2zM52 63h1v1h-1zM54 63h3v1h-3zM69 63h1v1h-1zM93 63h1v1h-1zM113 63h1v1h-1zM153 63h1v1h-1zM42 64h1v1h-1zM48 64h1v1h-1zM54 64h1v1h-1zM58 64h1v1h-1zM109 64h1v1h-1zM158 64h1v1h-1zM160 64h1v1h-1zM47 65h1v1h-1zM57 65h1v1h-1zM148 65h1v1h-1zM51 66h1v1h-1zM54 66h1v1h-1zM67 66h1v1h-1zM74 66h1v1h-1zM122 66h1v1h-1zM124 66h1v1h-1zM151 66h1v1h-1zM172 66h1v1h-1zM43 67h1v1h-1zM46 67h1v1h-1zM48 67h2v1h-2zM59 67h1v1h-1zM66 67h1v1h-1zM69 67h1v1h-1zM39 68h1v1h-1zM44 68h1v1h-1zM52 68h1v1h-1zM60 68h1v1h-1zM70 68h1v1h-1zM73 68h1v1h-1zM153 68h1v1h-1zM169 68h2v1h-2zM172 68h1v1h-1zM175 68h1v1h-1zM9 69h1v1h-1zM40 69h1v1h-1zM43 69h1v1h-1zM45 69h1v1h-1zM47 69h1v1h-1zM52 69h2v1h-2zM58 69h1v1h-1zM63 69h1v1h-1zM67 69h1v1h-1zM71 69h1v1h-1zM80 69h1v1h-1zM131 69h1v1h-1zM153 69h1v1h-1zM155 69h1v1h-1zM41 70h1v1h-1zM47 70h2v1h-2zM62 70h1v1h-1zM68 70h1v1h-1zM92 70h1v1h-1zM38 71h1v1h-1zM41 71h1v1h-1zM43 71h1v1h-1zM52 71h2v1h-2zM56 71h1v1h-1zM69 71h1v1h-1zM153 71h1v1h-1zM173 71h1v1h-1zM76 72h1v1h-1zM78 72h2v1h-2zM81 72h1v1h-1zM93 72h1v1h-1zM96 72h1v1h-1zM101 72h1v1h-1zM108 72h1v1h-1zM68 73h1v1h-1zM80 73h1v1h-1zM82 73h2v1h-2zM96 73h1v1h-1zM100 73h1v1h-1zM103 73h1v1h-1zM106 73h1v1h-1zM3 74h1v1h-1zM35 74h1v1h-1zM47 74h1v1h-1zM66 74h1v1h-1zM81 74h2v1h-2zM84 74h1v1h-1zM87 74h1v1h-1zM89 74h2v1h-2zM104 74h1v1h-1zM106 74h1v1h-1zM109 74h2v1h-2zM61 75h1v1h-1zM85 75h1v1h-1zM87 75h2v1h-2zM93 75h1v1h-1zM96 75h1v1h-1zM98 75h1v1h-1zM101 75h2v1h-2zM105 75h1v1h-1zM108 75h1v1h-1zM110 75h1v1h-1zM72 76h1v1h-1zM85 76h1v1h-1zM89 76h2v1h-2zM92 76h1v1h-1zM99 76h1v1h-1zM136 76h1v1h-1zM81 77h3v1h-3zM95 77h1v1h-1zM100 77h1v1h-1zM106 77h1v1h-1zM108 77h1v1h-1zM110 77h1v1h-1zM40 78h1v1h-1zM45 78h1v1h-1zM72 78h1v1h-1zM80 78h1v1h-1zM82 78h1v1h-1zM86 78h1v1h-1zM89 78h1v1h-1zM91 78h1v1h-1zM93 78h1v1h-1zM95 78h1v1h-1zM98 78h1v1h-1zM102 78h1v1h-1zM107 78h4v1h-4zM72 79h1v1h-1zM80 79h1v1h-1zM85 79h1v1h-1zM95 79h1v1h-1zM35 80h1v1h-1zM69 80h1v1h-1zM73 80h1v1h-1zM78 80h2v1h-2zM84 80h1v1h-1zM89 80h1v1h-1zM92 80h1v1h-1zM95 80h3v1h-3zM99 80h1v1h-1zM102 80h1v1h-1zM105 80h1v1h-1zM129 80h1v1h-1zM154 80h1v1h-1zM72 81h1v1h-1zM74 81h1v1h-1zM77 81h1v1h-1zM88 81h1v1h-1zM90 81h1v1h-1zM96 81h1v1h-1zM108 81h1v1h-1zM73 82h2v1h-2zM77 82h2v1h-2zM88 82h2v1h-2zM98 82h2v1h-2zM102 82h1v1h-1zM108 82h1v1h-1zM110 82h1v1h-1zM21 83h1v1h-1zM73 83h1v1h-1zM77 83h1v1h-1zM89 83h1v1h-1zM105 83h4v1h-4zM74 84h1v1h-1zM80 84h1v1h-1zM85 84h1v1h-1zM87 84h2v1h-2zM91 84h1v1h-1zM93 84h1v1h-1zM98 84h1v1h-1zM102 84h1v1h-1zM108 84h1v1h-1zM110 84h1v1h-1zM1 85h1v1h-1zM75 85h2v1h-2zM79 85h1v1h-1zM84 85h1v1h-1zM97 85h1v1h-1zM107 85h1v1h-1zM78 86h1v1h-1zM89 86h1v1h-1zM91 86h1v1h-1zM93 86h1v1h-1zM96 86h1v1h-1zM98 86h1v1h-1zM101 86h2v1h-2zM105 86h1v1h-1zM139 86h1v1h-1zM15 87h1v1h-1zM74 87h2v1h-2zM84 87h1v1h-1zM89 87h1v1h-1zM100 87h2v1h-2zM103 87h1v1h-1zM108 87h3v1h-3zM6 88h1v1h-1zM30 88h1v1h-1zM39 88h1v1h-1zM60 88h1v1h-1zM75 88h1v1h-1zM81 88h2v1h-2zM84 88h1v1h-1zM90 88h1v1h-1zM94 88h1v1h-1zM100 88h1v1h-1zM106 88h1v1h-1zM122 88h1v1h-1zM1 89h1v1h-1zM19 89h1v1h-1zM74 89h1v1h-1zM76 89h1v1h-1zM78 89h1v1h-1zM80 89h1v1h-1zM82 89h2v1h-2zM86 89h2v1h-2zM97 89h2v1h-2zM102 89h1v1h-1zM108 89h1v1h-1zM127 89h1v1h-1zM56 90h1v1h-1zM74 90h1v1h-1zM76 90h1v1h-1zM81 90h1v1h-1zM88 90h1v1h-1zM91 90h1v1h-1zM95 90h1v1h-1zM106 90h1v1h-1zM108 90h1v1h-1zM110 90h1v1h-1zM78 91h1v1h-1zM84 91h1v1h-1zM86 91h1v1h-1zM90 91h1v1h-1zM99 91h1v1h-1zM102 91h1v1h-1zM114 91h1v1h-1zM9 92h1v1h-1zM24 92h1v1h-1zM27 92h1v1h-1zM70 92h1v1h-1zM76 92h1v1h-1zM80 92h1v1h-1zM94 92h1v1h-1zM96 92h1v1h-1zM108 92h1v1h-1zM10 93h1v1h-1zM63 93h1v1h-1zM72 93h1v1h-1zM75 93h1v1h-1zM78 93h1v1h-1zM84 93h1v1h-1zM86 93h1v1h-1zM104 93h2v1h-2zM88 94h1v1h-1zM92 94h1v1h-1zM98 94h2v1h-2zM102 94h1v1h-1zM106 94h1v1h-1zM77 95h4v1h-4zM90 95h1v1h-1zM106 95h1v1h-1zM109 95h1v1h-1zM137 95h1v1h-1zM154 95h1v1h-1zM72 96h2v1h-2zM75 96h1v1h-1zM80 96h2v1h-2zM86 96h1v1h-1zM92 96h1v1h-1zM98 96h2v1h-2zM108 96h1v1h-1zM80 97h1v1h-1zM85 97h1v1h-1zM89 97h1v1h-1zM102 97h1v1h-1zM104 97h1v1h-1zM107 97h1v1h-1zM75 98h1v1h-1zM78 98h1v1h-1zM82 98h1v1h-1zM84 98h1v1h-1zM86 98h1v1h-1zM89 98h1v1h-1zM94 98h1v1h-1zM96 98h1v1h-1zM100 98h1v1h-1zM107 98h3v1h-3zM9 99h2v1h-2zM76 99h1v1h-1zM80 99h1v1h-1zM82 99h1v1h-1zM91 99h1v1h-1zM94 99h1v1h-1zM96 99h1v1h-1zM73 100h1v1h-1zM77 100h1v1h-1zM87 100h2v1h-2zM98 100h1v1h-1zM106 100h1v1h-1zM110 100h1v1h-1zM72 101h1v1h-1zM75 101h1v1h-1zM86 101h2v1h-2zM108 101h1v1h-1zM110 101h1v1h-1zM11 102h1v1h-1zM30 102h1v1h-1zM35 102h1v1h-1zM75 102h1v1h-1zM78 102h1v1h-1zM80 102h1v1h-1zM82 102h1v1h-1zM84 102h1v1h-1zM86 102h1v1h-1zM89 102h1v1h-1zM91 102h1v1h-1zM94 102h1v1h-1zM97 102h1v1h-1zM108 102h2v1h-2zM73 103h1v1h-1zM87 103h1v1h-1zM104 103h1v1h-1zM109 103h1v1h-1zM74 104h1v1h-1zM93 104h1v1h-1zM97 104h1v1h-1zM103 104h1v1h-1zM137 104h1v1h-1zM145 104h1v1h-1zM148 104h1v1h-1zM39 105h1v1h-1zM75 105h1v1h-1zM80 105h1v1h-1zM83 105h1v1h-1zM86 105h1v1h-1zM93 105h1v1h-1zM73 106h2v1h-2zM77 106h1v1h-1zM83 106h1v1h-1zM88 106h1v1h-1zM90 106h1v1h-1zM94 106h2v1h-2zM100 106h1v1h-1zM109 106h1v1h-1zM5 107h1v1h-1zM78 107h1v1h-1zM83 107h1v1h-1zM85 107h1v1h-1zM97 107h2v1h-2zM108 107h1v1h-1zM5 108h1v1h-1zM72 108h1v1h-1zM75 108h1v1h-1zM77 108h2v1h-2zM81 108h4v1h-4zM87 108h1v1h-1zM89 108h2v1h-2zM92 108h1v1h-1zM96 108h1v1h-1zM98 108h1v1h-1zM101 108h2v1h-2zM107 108h1v1h-1zM110 108h1v1h-1zM138 108h1v1h-1zM64 109h1v1h-1zM74 109h1v1h-1zM78 109h1v1h-1zM87 109h1v1h-1zM95 109h1v1h-1zM98 109h1v1h-1zM102 109h2v1h-2zM106 109h1v1h-1zM110 109h1v1h-1zM74 110h2v1h-2zM77 110h2v1h-2zM82 110h1v1h-1zM84 110h1v1h-1zM87 110h1v1h-1zM90 110h1v1h-1zM100 110h2v1h-2zM108 110h2v1h-2zM25 111h1v1h-1zM114 111h1v1h-1zM120 111h3v1h-3zM128 111h1v1h-1zM133 111h1v1h-1zM6 113h1v1h-1zM63 113h1v1h-1zM114 113h2v1h-2zM121 113h1v1h-1zM128 113h1v1h-1zM145 113h1v1h-1zM91 114h1v1h-1zM111 114h1v1h-1zM113 114h1v1h-1zM128 114h1v1h-1zM131 114h1v1h-1zM113 115h1v1h-1zM121 115h1v1h-1zM124 115h1v1h-1zM127 115h1v1h-1zM131 115h1v1h-1zM137 115h1v1h-1zM140 115h1v1h-1zM145 115h1v1h-1zM159 115h1v1h-1zM39 116h1v1h-1zM124 116h1v1h-1zM127 116h1v1h-1zM133 116h1v1h-1zM139 116h2v1h-2zM123 117h1v1h-1zM125 117h1v1h-1zM133 117h1v1h-1zM135 117h1v1h-1zM143 117h1v1h-1zM122 118h1v1h-1zM128 118h2v1h-2zM131 118h1v1h-1zM133 118h2v1h-2zM37 119h1v1h-1zM126 119h1v1h-1zM133 119h1v1h-1zM135 119h1v1h-1zM139 119h1v1h-1zM143 119h1v1h-1zM111 120h1v1h-1zM128 120h1v1h-1zM130 120h1v1h-1zM132 120h1v1h-1zM111 121h1v1h-1zM113 121h1v1h-1zM115 121h1v1h-1zM123 121h1v1h-1zM135 121h1v1h-1zM140 121h1v1h-1zM144 121h2v1h-2zM10 122h1v1h-1zM66 122h1v1h-1zM88 122h1v1h-1zM111 122h1v1h-1zM118 122h1v1h-1zM132 122h1v1h-1zM143 122h1v1h-1zM117 123h1v1h-1zM121 123h1v1h-1zM124 123h1v1h-1zM143 123h1v1h-1zM66 124h1v1h-1zM115 124h2v1h-2zM123 124h1v1h-1zM125 124h1v1h-1zM133 124h1v1h-1zM135 124h1v1h-1zM137 124h1v1h-1zM143 124h1v1h-1zM117 125h1v1h-1zM124 125h1v1h-1zM127 125h1v1h-1zM129 125h1v1h-1zM132 125h1v1h-1zM135 125h1v1h-1zM143 125h1v1h-1zM16 126h1v1h-1zM119 126h1v1h-1zM131 126h1v1h-1zM144 126h1v1h-1zM89 127h1v1h-1zM115 127h2v1h-2zM125 127h1v1h-1zM130 127h1v1h-1zM166 127h1v1h-1zM111 128h1v1h-1zM113 128h2v1h-2zM118 128h1v1h-1zM120 128h1v1h-1zM133 128h1v1h-1zM136 128h1v1h-1zM139 128h1v1h-1zM145 128h1v1h-1zM80 129h1v1h-1zM118 129h1v1h-1zM125 129h1v1h-1zM138 129h1v1h-1zM7 130h1v1h-1zM24 130h1v1h-1zM33 130h1v1h-1zM120 130h1v1h-1zM127 130h1v1h-1zM131 130h1v1h-1zM133 130h1v1h-1zM142 130h1v1h-1zM10 131h1v1h-1zM21 131h1v1h-1zM69 131h1v1h-1zM114 131h2v1h-2zM118 131h1v1h-1zM126 131h1v1h-1zM130 131h1v1h-1zM141 131h3v1h-3zM120 132h1v1h-1zM122 132h1v1h-1zM125 132h1v1h-1zM111 133h1v1h-1zM116 133h4v1h-4zM124 133h1v1h-1zM128 133h1v1h-1zM130 133h1v1h-1zM5 134h1v1h-1zM118 134h1v1h-1zM135 134h1v1h-1zM144 134h1v1h-1zM117 135h1v1h-1zM119 135h1v1h-1zM121 135h1v1h-1zM124 135h2v1h-2zM134 135h1v1h-1zM143 135h1v1h-1zM145 135h1v1h-1zM76 136h1v1h-1zM128 136h1v1h-1zM139 136h1v1h-1zM142 136h1v1h-1zM145 136h1v1h-1zM15 137h1v1h-1zM95 137h1v1h-1zM104 137h1v1h-1zM115 137h1v1h-1zM124 137h1v1h-1zM138 137h1v1h-1zM143 137h1v1h-1zM108 138h1v1h-1zM129 138h1v1h-1zM137 138h1v1h-1zM144 138h1v1h-1zM164 138h1v1h-1zM86 139h1v1h-1zM116 139h1v1h-1zM119 139h1v1h-1zM128 139h1v1h-1zM136 139h1v1h-1zM141 139h2v1h-2zM115 140h2v1h-2zM121 140h1v1h-1zM145 140h1v1h-1zM131 141h1v1h-1zM139 141h1v1h-1zM130 142h2v1h-2zM136 142h1v1h-1zM139 142h1v1h-1zM117 143h1v1h-1zM119 143h1v1h-1zM122 143h4v1h-4zM131 143h1v1h-1zM135 143h1v1h-1zM137 143h1v1h-1zM121 144h1v1h-1zM126 144h1v1h-1zM134 144h1v1h-1zM138 144h1v1h-1zM12 145h1v1h-1zM104 145h1v1h-1zM113 145h1v1h-1zM115 145h1v1h-1zM121 145h1v1h-1zM128 145h1v1h-1zM135 145h2v1h-2zM140 145h1v1h-1zM43 146h1v1h-1zM59 146h1v1h-1zM147 146h1v1h-1zM149 146h1v1h-1zM152 146h1v1h-1zM154 146h3v1h-3zM158 146h1v1h-1zM162 146h1v1h-1zM166 146h1v1h-1zM170 146h2v1h-2zM146 147h1v1h-1zM148 147h1v1h-1zM151 147h3v1h-3zM165 147h2v1h-2zM176 147h1v1h-1zM38 148h1v1h-1zM52 148h1v1h-1zM59 148h1v1h-1zM65 148h1v1h-1zM104 148h1v1h-1zM147 148h1v1h-1zM149 148h1v1h-1zM154 148h2v1h-2zM165 148h1v1h-1zM167 148h3v1h-3zM173 148h1v1h-1zM38 149h1v1h-1zM52 149h1v1h-1zM58 149h1v1h-1zM146 149h1v1h-1zM148 149h1v1h-1zM151 149h1v1h-1zM156 149h1v1h-1zM158 149h1v1h-1zM160 149h1v1h-1zM162 149h3v1h-3zM168 149h1v1h-1zM172 149h3v1h-3zM176 149h1v1h-1zM11 150h1v1h-1zM151 150h1v1h-1zM153 150h2v1h-2zM156 150h3v1h-3zM164 150h1v1h-1zM169 150h3v1h-3zM175 150h1v1h-1zM66 151h1v1h-1zM147 151h1v1h-1zM149 151h2v1h-2zM153 151h1v1h-1zM155 151h2v1h-2zM158 151h1v1h-1zM165 151h1v1h-1zM174 151h2v1h-2zM146 152h2v1h-2zM153 152h2v1h-2zM156 152h1v1h-1zM160 152h1v1h-1zM162 152h4v1h-4zM172 152h2v1h-2zM176 152h1v1h-1zM47 153h2v1h-2zM63 153h1v1h-1zM68 153h2v1h-2zM71 153h1v1h-1zM147 153h1v1h-1zM150 153h3v1h-3zM154 153h1v1h-1zM156 153h1v1h-1zM158 153h3v1h-3zM165 153h1v1h-1zM167 153h1v1h-1zM172 153h2v1h-2zM80 154h1v1h-1zM95 154h1v1h-1zM146 154h1v1h-1zM148 154h1v1h-1zM150 154h1v1h-1zM152 154h2v1h-2zM155 154h3v1h-3zM163 154h1v1h-1zM165 154h3v1h-3zM171 154h2v1h-2zM69 155h1v1h-1zM146 155h1v1h-1zM148 155h1v1h-1zM151 155h1v1h-1zM154 155h1v1h-1zM159 155h1v1h-1zM162 155h1v1h-1zM166 155h1v1h-1zM169 155h1v1h-1zM171 155h1v1h-1zM174 155h1v1h-1zM176 155h1v1h-1zM47 156h1v1h-1zM146 156h1v1h-1zM149 156h6v1h-6zM158 156h1v1h-1zM162 156h1v1h-1zM164 156h1v1h-1zM166 156h2v1h-2zM169 156h1v1h-1zM173 156h4v1h-4zM57 157h1v1h-1zM150 157h1v1h-1zM154 157h1v1h-1zM159 157h3v1h-3zM163 157h1v1h-1zM168 157h1v1h-1zM176 157h1v1h-1zM64 158h1v1h-1zM146 158h1v1h-1zM149 158h3v1h-3zM153 158h1v1h-1zM156 158h1v1h-1zM159 158h5v1h-5zM169 158h1v1h-1zM171 158h2v1h-2zM175 158h1v1h-1zM42 159h1v1h-1zM60 159h1v1h-1zM115 159h1v1h-1zM153 159h1v1h-1zM155 159h1v1h-1zM157 159h2v1h-2zM162 159h1v1h-1zM167 159h1v1h-1zM170 159h1v1h-1zM47 160h1v1h-1zM55 160h1v1h-1zM58 160h1v1h-1zM64 160h1v1h-1zM149 160h1v1h-1zM152 160h2v1h-2zM157 160h2v1h-2zM170 160h1v1h-1zM174 160h1v1h-1zM38 161h1v1h-1zM41 161h1v1h-1zM58 161h1v1h-1zM157 161h2v1h-2zM167 161h1v1h-1zM170 161h1v1h-1zM172 161h2v1h-2zM175 161h2v1h-2zM146 162h1v1h-1zM149 162h1v1h-1zM152 162h1v1h-1zM155 162h2v1h-2zM158 162h2v1h-2zM163 162h2v1h-2zM166 162h1v1h-1zM171 162h2v1h-2zM176 162h1v1h-1zM0 163h1v1h-1zM39 163h1v1h-1zM50 163h1v1h-1zM62 163h1v1h-1zM149 163h1v1h-1zM152 163h1v1h-1zM154 163h1v1h-1zM157 163h2v1h-2zM162 163h1v1h-1zM166 163h2v1h-2zM173 163h2v1h-2zM176 163h1v1h-1zM52 164h1v1h-1zM138 164h1v1h-1zM149 164h2v1h-2zM152 164h1v1h-1zM156 164h1v1h-1zM162 164h1v1h-1zM167 164h1v1h-1zM169 164h4v1h-4zM176 164h1v1h-1zM58 165h1v1h-1zM61 165h1v1h-1zM147 165h2v1h-2zM151 165h4v1h-4zM169 165h2v1h-2zM176 165h1v1h-1zM3 166h1v1h-1zM38 166h1v1h-1zM45 166h1v1h-1zM56 166h1v1h-1zM127 166h1v1h-1zM146 166h2v1h-2zM154 166h3v1h-3zM162 166h2v1h-2zM168 166h2v1h-2zM171 166h1v1h-1zM175 166h1v1h-1zM33 167h1v1h-1zM148 167h1v1h-1zM153 167h2v1h-2zM156 167h1v1h-1zM159 167h1v1h-1zM161 167h1v1h-1zM163 167h2v1h-2zM175 167h2v1h-2zM148 168h2v1h-2zM157 168h1v1h-1zM166 168h1v1h-1zM172 168h1v1h-1zM55 169h1v1h-1zM68 169h1v1h-1zM148 169h1v1h-1zM150 169h1v1h-1zM155 169h2v1h-2zM158 169h1v1h-1zM164 169h3v1h-3zM170 169h1v1h-1zM172 169h1v1h-1zM174 169h1v1h-1zM176 169h1v1h-1zM68 170h1v1h-1zM146 170h1v1h-1zM150 170h1v1h-1zM159 170h3v1h-3zM164 170h2v1h-2zM169 170h1v1h-1zM171 170h1v1h-1zM174 170h2v1h-2zM146 171h1v1h-1zM150 171h1v1h-1zM154 171h2v1h-2zM158 171h1v1h-1zM162 171h1v1h-1zM164 171h1v1h-1zM166 171h1v1h-1zM170 171h1v1h-1zM172 171h1v1h-1zM66 172h1v1h-1zM68 172h1v1h-1zM149 172h1v1h-1zM152 172h3v1h-3zM158 172h1v1h-1zM161 172h2v1h-2zM164 172h1v1h-1zM168 172h2v1h-2zM171 172h1v1h-1zM173 172h1v1h-1zM71 173h1v1h-1zM148 173h2v1h-2zM152 173h2v1h-2zM156 173h1v1h-1zM161 173h1v1h-1zM163 173h1v1h-1zM172 173h1v1h-1zM52 174h1v1h-1zM54 174h1v1h-1zM149 174h1v1h-1zM151 174h1v1h-1zM155 174h2v1h-2zM160 174h1v1h-1zM163 174h1v1h-1zM169 174h2v1h-2zM175 174h2v1h-2zM68 175h1v1h-1zM150 175h2v1h-2zM156 175h1v1h-1zM158 175h1v1h-1zM161 175h1v1h-1zM166 175h2v1h-2zM170 175h1v1h-1zM174 175h1v1h-1zM39 176h1v1h-1zM41 176h1v1h-1zM147 176h1v1h-1zM149 176h1v1h-1zM152 176h1v1h-1zM155 176h3v1h-3zM161 176h5v1h-5zM167 176h1v1h-1zM169 176h1v1h-1zM174 176h1v1h-1z"/>
<path fill="#00f" d="M56 0h1v1h-1zM5 1h1v1h-1zM20 1h2v1h-2zM39 1h1v1h-1zM85 1h1v1h-1zM9 2h1v1h-1zM7 3h1v1h-1zM24 3h1v1h-1zM9 4h1v1h-1zM37 4h1v1h-1zM1 5h1v1h-1zM134 5h1v1h-1zM35 6h1v1h-1zM3 7h1v1h-1zM15 7h1v1h-1zM44 7h1v1h-1zM2 9h1v1h-1zM4 9h1v1h-1zM92 9h1v1h-1zM28 11h1v1h-1zM7 15h1v1h-1zM24 15h1v1h-1zM31 15h1v1h-1zM137 15h1v1h-1zM37 16h1v1h-1zM126 16h1v1h-1zM27 17h1v1h-1zM52 17h1v1h-1zM28 19h1v1h-1zM1 20h1v1h-1zM1 21h1v1h-1zM24 21h1v1h-1zM37 21h1v1h-1zM83 21h1v1h-1zM131 21h1v1h-1zM23 22h1v1h-1zM36 22h1v1h-1zM22 23h1v1h-1zM25 23h1v1h-1zM29 23h1v1h-1zM3 24h1v1h-1zM15 24h1v1h-1zM21 24h1v1h-1zM32 24h1v1h-1zM23 25h1v1h-1zM111 25h1v1h-1zM34 26h1v1h-1zM17 27h1v1h-1zM33 27h1v1h-1zM11 28h1v1h-1zM19 28h1v1h-1zM35 28h1v1h-1zM23 29h1v1h-1zM15 31h1v1h-1zM36 31h1v1h-1zM24 32h1v1h-1zM27 33h1v1h-1zM130 33h1v1h-1zM26 34h1v1h-1zM6 35h1v1h-1zM28 35h1v1h-1zM39 35h1v1h-1zM80 35h1v1h-1zM22 36h1v1h-1zM31 36h1v1h-1zM4 37h1v1h-1zM16 37h1v1h-1zM21 37h1v1h-1zM119 37h1v1h-1zM71 38h1v1h-1zM148 38h1v1h-1zM166 38h1v1h-1zM1 39h1v1h-1zM35 39h1v1h-1zM105 39h1v1h-1zM163 39h1v1h-1zM176 39h1v1h-1zM78 40h1v1h-1zM71 41h1v1h-1zM146 43h1v1h-1zM7 44h1v1h-1zM46 44h1v1h-1zM55 44h1v1h-1zM44 46h1v1h-1zM47 46h1v1h-1zM56 46h1v1h-1zM46 47h1v1h-1zM65 47h1v1h-1zM153 47h1v1h-1zM60 48h1v1h-1zM153 48h1v1h-1zM54 50h1v1h-1zM60 50h1v1h-1zM17 52h1v1h-1zM149 52h1v1h-1zM69 53h1v1h-1zM50 54h1v1h-1zM44 55h1v1h-1zM169 55h1v1h-1zM0 56h1v1h-1zM46 56h1v1h-1zM157 57h1v1h-1zM64 58h1v1h-1zM161 58h1v1h-1zM146 59h1v1h-1zM148 59h1v1h-1zM48 60h1v1h-1zM50 60h1v1h-1zM68 60h1v1h-1zM159 60h1v1h-1zM163 62h1v1h-1zM93 63h1v1h-1zM113 63h1v1h-1zM58 64h1v1h-1zM109 64h1v1h-1zM47 65h1v1h-1zM124 66h1v1h-1zM60 68h1v1h-1zM53 69h1v1h-1zM80 69h1v1h-1zM38 71h1v1h-1zM41 71h1v1h-1zM153 71h1v1h-1zM173 71h1v1h-1zM76 72h1v1h-1zM78 72h1v1h-1zM101 72h1v1h-1zM108 72h1v1h-1zM106 73h1v1h-1zM108 75h1v1h-1zM110 75h1v1h-1zM72 76h1v1h-1zM92 76h1v1h-1zM40 78h1v1h-1zM72 78h1v1h-1zM95 78h1v1h-1zM85 79h1v1h-1zM35 80h1v1h-1zM69 80h1v1h-1zM97 80h1v1h-1zM129 80h1v1h-1zM88 81h1v1h-1zM98 82h1v1h-1zM21 83h1v1h-1zM1 85h1v1h-1zM79 85h1v1h-1zM93 86h1v1h-1zM101 86h1v1h-1zM139 86h1v1h-1zM89 87h1v1h-1zM109 87h1v1h-1zM81 88h1v1h-1zM87 89h1v1h-1zM97 89h2v1h-2zM110 90h1v1h-1zM9 92h1v1h-1zM76 92h1v1h-1zM63 93h1v1h-1zM86 93h1v1h-1zM104 93h1v1h-1zM78 95h1v1h-1zM109 95h1v1h-1zM154 95h1v1h-1zM80 97h1v1h-1zM89 97h1v1h-1zM82 98h1v1h-1zM89 98h1v1h-1zM110 100h1v1h-1zM72 101h1v1h-1zM86 101h1v1h-1zM108 101h1v1h-1zM109 103h1v1h-1zM93 104h1v1h-1zM137 104h1v1h-1zM148 104h1v1h-1zM39 105h1v1h-1zM73 106h1v1h-1zM72 108h1v1h-1zM75 108h1v1h-1zM101 108h1v1h-1zM138 108h1v1h-1zM64 109h1v1h-1zM87 109h1v1h-1zM95 109h1v1h-1zM103 109h1v1h-1zM75 110h1v1h-1zM90 110h1v1h-1zM100 110h1v1h-1zM25 111h1v1h-1zM63 113h1v1h-1zM115 113h1v1h-1zM113 115h1v1h-1zM123 117h1v1h-1zM37 119h1v1h-1zM139 119h1v1h-1zM144 121h1v1h-1zM117 123h1v1h-1zM66 124h1v1h-1zM16 126h1v1h-1zM131 126h1v1h-1zM144 126h1v1h-1zM80 129h1v1h-1zM33 130h1v1h-1zM131 130h1v1h-1zM21 131h1v1h-1zM126 131h1v1h-1zM130 131h1v1h-1zM5 134h1v1h-1zM144 134h1v1h-1zM15 137h1v1h-1zM104 137h1v1h-1zM108 138h1v1h-1zM86 139h1v1h-1zM119 139h1v1h-1zM121 144h1v1h-1zM126 144h1v1h-1zM134 144h1v1h-1zM43 146h1v1h-1zM59 146h1v1h-1zM155 146h1v1h-1zM170 146h1v1h-1zM38 148h1v1h-1zM59 148h1v1h-1zM104 148h1v1h-1zM149 148h1v1h-1zM52 149h1v1h-1zM148 149h1v1h-1zM156 149h1v1h-1zM173 149h1v1h-1zM154 150h1v1h-1zM153 151h1v1h-1zM156 151h1v1h-1zM175 151h1v1h-1zM172 152h1v1h-1zM47 153h2v1h-2zM71 153h1v1h-1zM151 153h1v1h-1zM160 153h1v1h-1zM173 153h1v1h-1zM95 154h1v1h-1zM150 154h1v1h-1zM146 155h1v1h-1zM162 155h1v1h-1zM169 155h1v1h-1zM149 156h1v1h-1zM151 156h1v1h-1zM174 156h1v1h-1zM57 157h1v1h-1zM161 158h2v1h-2zM60 159h1v1h-1zM153 160h1v1h-1zM174 160h1v1h-1zM58 161h1v1h-1zM158 161h1v1h-1zM155 162h1v1h-1zM158 162h1v1h-1zM164 162h1v1h-1zM39 163h1v1h-1zM62 163h1v1h-1zM166 163h1v1h-1zM174 163h1v1h-1zM162 164h1v1h-1zM167 164h1v1h-1zM171 164h1v1h-1zM169 165h1v1h-1zM38 166h1v1h-1zM163 166h1v1h-1zM169 166h1v1h-1zM175 166h1v1h-1zM164 167h1v1h-1zM175 167h1v1h-1zM55 169h1v1h-1zM155 169h1v1h-1zM165 169h2v1h-2zM146 170h1v1h-1zM164 171h1v1h-1zM172 171h1v1h-1zM152 172h1v1h-1zM171 172h1v1h-1zM71 173h1v1h-1zM149 173h1v1h-1zM153 173h1v1h-1zM156 174h1v1h-1zM160 174h1v1h-1zM163 174h1v1h-1zM151 175h1v1h-1zM166 175h2v1h-2zM39 176h1v1h-1z"/>
</g>
</svg>
</body></html>
